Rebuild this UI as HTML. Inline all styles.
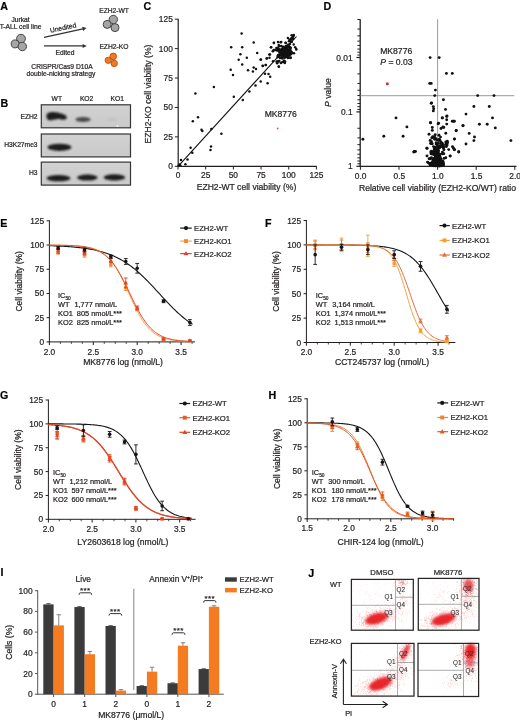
<!DOCTYPE html>
<html><head><meta charset="utf-8"><title>Figure</title><style>html,body{margin:0;padding:0;background:#fff;width:520px;height:722px;overflow:hidden}svg{display:block}text{stroke:#231f20;stroke-width:0.22px;paint-order:stroke}</style></head><body>
<svg width="520" height="722" viewBox="0 0 520 722" font-family="'Liberation Sans', Arial, Helvetica, sans-serif" fill="#231f20"><text x="0.30" y="9.70" font-size="10.7" font-weight="bold" fill="#000">A</text>
<text x="0.50" y="106.90" font-size="10.7" font-weight="bold" fill="#000">B</text>
<text x="143.50" y="9.70" font-size="10.7" font-weight="bold" fill="#000">C</text>
<text x="323.60" y="9.70" font-size="10.7" font-weight="bold" fill="#000">D</text>
<text x="0.30" y="226.50" font-size="10.7" font-weight="bold" fill="#000">E</text>
<text x="265.00" y="226.50" font-size="10.7" font-weight="bold" fill="#000">F</text>
<text x="0.00" y="399.30" font-size="10.7" font-weight="bold" fill="#000">G</text>
<text x="268.40" y="398.50" font-size="10.7" font-weight="bold" fill="#000">H</text>
<text x="0.40" y="576.20" font-size="10.7" font-weight="bold" fill="#000">I</text>
<text x="308.30" y="576.50" font-size="10.7" font-weight="bold" fill="#000">J</text>
<text x="20.50" y="21.60" font-size="6.7" text-anchor="middle">Jurkat</text>
<text x="20.50" y="29.30" font-size="6.7" text-anchor="middle">T-ALL cell line</text>
<circle cx="21.0" cy="38.7" r="4.4" fill="#a6a6a6" stroke="#454545" stroke-width="1.0"/>
<circle cx="15.2" cy="43.9" r="4.0" fill="#a6a6a6" stroke="#454545" stroke-width="1.0"/>
<circle cx="22.3" cy="46.5" r="4.2" fill="#a6a6a6" stroke="#454545" stroke-width="1.0"/>
<line x1="44.00" y1="37.30" x2="84.00" y2="28.60" stroke="#333" stroke-width="1.3"/>
<path d="M86.5,28.1 L82.2,26.8 L83.1,31.0 Z" fill="#333"/>
<line x1="44.00" y1="45.90" x2="84.00" y2="45.90" stroke="#333" stroke-width="1.3"/>
<path d="M86.8,45.9 L82.6,43.9 L82.6,47.9 Z" fill="#333"/>
<text x="63.50" y="30.00" font-size="6.7" text-anchor="middle" transform="rotate(-12 63.50 30.00)">Unedited</text>
<text x="65.00" y="54.60" font-size="6.7" text-anchor="middle">Edited</text>
<text x="62.00" y="68.60" font-size="6.7" text-anchor="middle">CRISPR/Cas9 D10A</text>
<text x="61.00" y="76.30" font-size="6.7" text-anchor="middle">double-nicking strategy</text>
<text x="99.20" y="12.60" font-size="6.7">EZH2-WT</text>
<text x="99.40" y="49.20" font-size="6.7">EZH2-KO</text>
<circle cx="113.3" cy="19.5" r="4.2" fill="#a6a6a6" stroke="#454545" stroke-width="1.0"/>
<circle cx="107.2" cy="24.4" r="4.0" fill="#a6a6a6" stroke="#454545" stroke-width="1.0"/>
<circle cx="115.0" cy="27.6" r="4.0" fill="#a6a6a6" stroke="#454545" stroke-width="1.0"/>
<circle cx="113.2" cy="56.4" r="3.3" fill="#f47a22" stroke="#b8561a" stroke-width="1.0"/>
<circle cx="108.2" cy="60.3" r="3.1" fill="#f47a22" stroke="#b8561a" stroke-width="1.0"/>
<circle cx="114.2" cy="63.4" r="3.2" fill="#f47a22" stroke="#b8561a" stroke-width="1.0"/>
<defs><filter id="bl" x="-30%" y="-80%" width="160%" height="260%"><feGaussianBlur stdDeviation="1.1"/></filter><filter id="bl2" x="-30%" y="-80%" width="160%" height="260%"><feGaussianBlur stdDeviation="0.8"/></filter><linearGradient id="blotg" x1="0" y1="0" x2="0" y2="1"><stop offset="0" stop-color="#d2d2d2"/><stop offset="1" stop-color="#c9c9c9"/></linearGradient></defs>
<rect x="41.3" y="104.80000000000001" width="89.2" height="22.999999999999982" fill="url(#blotg)" stroke="#353535" stroke-width="1.2"/>
<rect x="41.3" y="134.0" width="89.2" height="22.900000000000016" fill="url(#blotg)" stroke="#353535" stroke-width="1.2"/>
<rect x="41.3" y="162.1" width="89.2" height="23.00000000000001" fill="url(#blotg)" stroke="#353535" stroke-width="1.2"/>
<text x="56.80" y="101.40" font-size="6.7" text-anchor="middle">WT</text>
<text x="86.60" y="101.40" font-size="6.7" text-anchor="middle">KO2</text>
<text x="117.20" y="101.40" font-size="6.7" text-anchor="middle">KO1</text>
<text x="37.60" y="118.80" font-size="6.7" text-anchor="end">EZH2</text>
<text x="37.60" y="147.00" font-size="6.7" text-anchor="end">H3K27me3</text>
<text x="37.60" y="175.30" font-size="6.7" text-anchor="end">H3</text>
<g filter="url(#bl)">
<path d="M46.5,115.8 C46.5,111.8 53,111.6 57.5,112.6 C61.5,113.4 65,114.4 66.6,116.6 C67.8,119 64.5,120.4 61.5,119.4 C58.5,118.4 55.5,119.4 51.5,120.2 C47.5,120.8 46.5,118.6 46.5,115.8 Z" fill="#1a1a1a"/>
<ellipse cx="83" cy="119.6" rx="7.6" ry="2.5" fill="#4a4a4a"/>
<ellipse cx="112" cy="119.5" rx="5" ry="1.5" fill="#c2c2c2"/>
<ellipse cx="59.5" cy="147.3" rx="12" ry="3.6" fill="#1a1a1a"/>
<ellipse cx="58.5" cy="178.2" rx="12" ry="3.1" fill="#1e1e1e"/>
<ellipse cx="87.3" cy="177.6" rx="10.3" ry="3.0" fill="#1e1e1e"/>
<ellipse cx="114.4" cy="177.4" rx="10.8" ry="3.1" fill="#1e1e1e"/>
</g>
<circle cx="117.50" cy="126.00" r="0.9" fill="#f4f4f4"/>
<line x1="178.20" y1="18.70" x2="178.20" y2="166.90" stroke="#231f20" stroke-width="1.2"/>
<line x1="177.60" y1="166.30" x2="316.80" y2="166.30" stroke="#231f20" stroke-width="1.2"/>
<line x1="174.80" y1="166.30" x2="178.00" y2="166.30" stroke="#231f20" stroke-width="1"/>
<text x="172.80" y="169.30" font-size="8.4" text-anchor="end">0</text>
<line x1="178.00" y1="166.30" x2="178.00" y2="169.50" stroke="#231f20" stroke-width="1"/>
<text x="178.00" y="178.40" font-size="8.4" text-anchor="middle">0</text>
<line x1="174.80" y1="136.88" x2="178.00" y2="136.88" stroke="#231f20" stroke-width="1"/>
<text x="172.80" y="139.88" font-size="8.4" text-anchor="end">25</text>
<line x1="205.68" y1="166.30" x2="205.68" y2="169.50" stroke="#231f20" stroke-width="1"/>
<text x="205.68" y="178.40" font-size="8.4" text-anchor="middle">25</text>
<line x1="174.80" y1="107.46" x2="178.00" y2="107.46" stroke="#231f20" stroke-width="1"/>
<text x="172.80" y="110.46" font-size="8.4" text-anchor="end">50</text>
<line x1="233.36" y1="166.30" x2="233.36" y2="169.50" stroke="#231f20" stroke-width="1"/>
<text x="233.36" y="178.40" font-size="8.4" text-anchor="middle">50</text>
<line x1="174.80" y1="78.04" x2="178.00" y2="78.04" stroke="#231f20" stroke-width="1"/>
<text x="172.80" y="81.04" font-size="8.4" text-anchor="end">75</text>
<line x1="261.04" y1="166.30" x2="261.04" y2="169.50" stroke="#231f20" stroke-width="1"/>
<text x="261.04" y="178.40" font-size="8.4" text-anchor="middle">75</text>
<line x1="174.80" y1="48.62" x2="178.00" y2="48.62" stroke="#231f20" stroke-width="1"/>
<text x="172.80" y="51.62" font-size="8.4" text-anchor="end">100</text>
<line x1="288.72" y1="166.30" x2="288.72" y2="169.50" stroke="#231f20" stroke-width="1"/>
<text x="288.72" y="178.40" font-size="8.4" text-anchor="middle">100</text>
<line x1="174.80" y1="19.20" x2="178.00" y2="19.20" stroke="#231f20" stroke-width="1"/>
<text x="172.80" y="22.20" font-size="8.4" text-anchor="end">125</text>
<line x1="316.40" y1="166.30" x2="316.40" y2="169.50" stroke="#231f20" stroke-width="1"/>
<text x="316.40" y="178.40" font-size="8.4" text-anchor="middle">125</text>
<text x="246.50" y="190.40" font-size="8.6" text-anchor="middle">EZH2-WT cell viability (%)</text>
<text x="151.00" y="94.00" font-size="8.6" text-anchor="middle" transform="rotate(-90 151.00 94.00)">EZH2-KO cell viability (%)</text>
<line x1="178.50" y1="165.80" x2="296.50" y2="36.50" stroke="#111" stroke-width="1.1"/>
<g fill="#111">
<circle cx="241.6" cy="33.5" r="1.25"/>
<circle cx="253.7" cy="42.5" r="1.25"/>
<circle cx="231.2" cy="47.3" r="1.25"/>
<circle cx="242.2" cy="47.3" r="1.25"/>
<circle cx="257.2" cy="52.9" r="1.25"/>
<circle cx="240.4" cy="54.3" r="1.25"/>
<circle cx="246.8" cy="57.7" r="1.25"/>
<circle cx="238.7" cy="59.8" r="1.25"/>
<circle cx="260.7" cy="59.8" r="1.25"/>
<circle cx="242.2" cy="64.5" r="1.25"/>
<circle cx="262.9" cy="65.9" r="1.25"/>
<circle cx="265.9" cy="65.0" r="1.25"/>
<circle cx="230.7" cy="69.8" r="1.25"/>
<circle cx="248.0" cy="70.2" r="1.25"/>
<circle cx="252.9" cy="71.4" r="1.25"/>
<circle cx="253.7" cy="67.6" r="1.25"/>
<circle cx="256.0" cy="69.0" r="1.25"/>
<circle cx="233.0" cy="75.0" r="1.25"/>
<circle cx="265.0" cy="73.7" r="1.25"/>
<circle cx="270.2" cy="76.8" r="1.25"/>
<circle cx="268.5" cy="74.0" r="1.25"/>
<circle cx="260.7" cy="81.4" r="1.25"/>
<circle cx="267.6" cy="83.2" r="1.25"/>
<circle cx="255.5" cy="85.4" r="1.25"/>
<circle cx="249.4" cy="91.5" r="1.25"/>
<circle cx="233.8" cy="96.7" r="1.25"/>
<circle cx="242.8" cy="100.0" r="1.25"/>
<circle cx="278.8" cy="66.4" r="1.25"/>
<circle cx="274.0" cy="42.8" r="1.25"/>
<circle cx="280.6" cy="42.2" r="1.25"/>
<circle cx="271.0" cy="47.3" r="1.25"/>
<circle cx="296.2" cy="49.1" r="1.25"/>
<circle cx="293.6" cy="35.2" r="1.25"/>
<circle cx="266.7" cy="58.4" r="1.25"/>
<circle cx="269.3" cy="54.6" r="1.25"/>
<circle cx="272.8" cy="51.2" r="1.25"/>
<circle cx="213.9" cy="86.9" r="1.25"/>
<circle cx="195.4" cy="93.5" r="1.25"/>
<circle cx="198.0" cy="117.2" r="1.25"/>
<circle cx="192.8" cy="121.2" r="1.25"/>
<circle cx="201.5" cy="129.8" r="1.25"/>
<circle cx="202.3" cy="131.1" r="1.25"/>
<circle cx="211.3" cy="129.0" r="1.25"/>
<circle cx="221.4" cy="133.7" r="1.25"/>
<circle cx="190.6" cy="147.8" r="1.25"/>
<circle cx="192.3" cy="152.7" r="1.25"/>
<circle cx="211.0" cy="146.6" r="1.25"/>
<circle cx="210.5" cy="150.1" r="1.25"/>
<circle cx="181.0" cy="160.0" r="1.25"/>
<circle cx="187.5" cy="159.6" r="1.25"/>
<circle cx="185.4" cy="164.3" r="1.25"/>
<circle cx="178.8" cy="165.2" r="1.25"/>
<circle cx="179.6" cy="164.6" r="1.25"/>
<circle cx="180.3" cy="165.6" r="1.25"/>
<circle cx="293.7" cy="35.0" r="1.25"/>
<circle cx="287.9" cy="38.0" r="1.25"/>
<circle cx="293.3" cy="38.8" r="1.25"/>
<circle cx="281.2" cy="41.9" r="1.25"/>
<circle cx="273.8" cy="43.0" r="1.25"/>
<circle cx="296.3" cy="49.5" r="1.25"/>
<circle cx="271.1" cy="47.3" r="1.25"/>
<circle cx="276.4" cy="47.9" r="1.25"/>
<circle cx="277.7" cy="48.2" r="1.25"/>
<circle cx="273.0" cy="51.0" r="1.25"/>
<circle cx="273.7" cy="50.1" r="1.25"/>
<circle cx="270.0" cy="54.4" r="1.25"/>
<circle cx="266.9" cy="58.3" r="1.25"/>
<circle cx="269.5" cy="57.7" r="1.25"/>
<circle cx="260.9" cy="59.6" r="1.25"/>
<circle cx="262.6" cy="65.7" r="1.25"/>
<circle cx="265.6" cy="65.0" r="1.25"/>
<circle cx="278.9" cy="66.7" r="1.25"/>
<circle cx="273.0" cy="61.3" r="1.25"/>
<circle cx="290.7" cy="57.4" r="1.25"/>
<circle cx="290.3" cy="40.6" r="1.25"/>
<circle cx="291.1" cy="41.9" r="1.25"/>
<circle cx="293.7" cy="44.5" r="1.25"/>
<circle cx="284.1" cy="53.8" r="1.25"/>
<circle cx="284.2" cy="50.6" r="1.25"/>
<circle cx="281.6" cy="51.0" r="1.25"/>
<circle cx="289.1" cy="53.5" r="1.25"/>
<circle cx="288.8" cy="52.8" r="1.25"/>
<circle cx="286.5" cy="52.5" r="1.25"/>
<circle cx="278.8" cy="55.1" r="1.25"/>
<circle cx="286.9" cy="53.7" r="1.25"/>
<circle cx="278.7" cy="45.0" r="1.25"/>
<circle cx="281.7" cy="50.0" r="1.25"/>
<circle cx="286.1" cy="51.6" r="1.25"/>
<circle cx="286.9" cy="49.3" r="1.25"/>
<circle cx="286.1" cy="53.3" r="1.25"/>
<circle cx="282.6" cy="58.5" r="1.25"/>
<circle cx="287.1" cy="56.5" r="1.25"/>
<circle cx="282.7" cy="48.9" r="1.25"/>
<circle cx="283.7" cy="51.4" r="1.25"/>
<circle cx="287.3" cy="52.8" r="1.25"/>
<circle cx="283.3" cy="48.1" r="1.25"/>
<circle cx="283.1" cy="56.6" r="1.25"/>
<circle cx="282.0" cy="52.8" r="1.25"/>
<circle cx="286.6" cy="46.0" r="1.25"/>
<circle cx="285.2" cy="56.9" r="1.25"/>
<circle cx="277.5" cy="50.5" r="1.25"/>
<circle cx="284.6" cy="48.6" r="1.25"/>
<circle cx="286.8" cy="51.6" r="1.25"/>
<circle cx="279.6" cy="55.0" r="1.25"/>
<circle cx="287.5" cy="55.5" r="1.25"/>
<circle cx="290.3" cy="53.2" r="1.25"/>
<circle cx="285.4" cy="46.7" r="1.25"/>
<circle cx="287.3" cy="49.4" r="1.25"/>
<circle cx="283.3" cy="46.9" r="1.25"/>
<circle cx="281.4" cy="49.7" r="1.25"/>
<circle cx="289.8" cy="43.9" r="1.25"/>
<circle cx="279.6" cy="52.7" r="1.25"/>
<circle cx="290.3" cy="54.1" r="1.25"/>
<circle cx="278.0" cy="42.0" r="1.25"/>
<circle cx="286.3" cy="48.9" r="1.25"/>
<circle cx="280.9" cy="55.6" r="1.25"/>
<circle cx="289.1" cy="52.4" r="1.25"/>
<circle cx="285.9" cy="53.5" r="1.25"/>
<circle cx="290.9" cy="54.2" r="1.25"/>
<circle cx="286.9" cy="53.9" r="1.25"/>
<circle cx="279.2" cy="56.8" r="1.25"/>
<circle cx="288.5" cy="53.9" r="1.25"/>
<circle cx="277.7" cy="49.3" r="1.25"/>
<circle cx="288.1" cy="44.7" r="1.25"/>
<circle cx="284.3" cy="55.8" r="1.25"/>
<circle cx="280.1" cy="58.1" r="1.25"/>
<circle cx="287.0" cy="51.2" r="1.25"/>
<circle cx="286.2" cy="54.3" r="1.25"/>
<circle cx="285.4" cy="56.3" r="1.25"/>
<circle cx="282.6" cy="50.2" r="1.25"/>
<circle cx="288.9" cy="51.9" r="1.25"/>
<circle cx="281.7" cy="55.5" r="1.25"/>
<circle cx="290.4" cy="50.1" r="1.25"/>
<circle cx="279.9" cy="51.3" r="1.25"/>
<circle cx="284.4" cy="50.6" r="1.25"/>
<circle cx="290.2" cy="47.8" r="1.25"/>
<circle cx="289.7" cy="46.9" r="1.25"/>
<circle cx="282.1" cy="54.3" r="1.25"/>
<circle cx="289.2" cy="55.2" r="1.25"/>
<circle cx="286.3" cy="52.4" r="1.25"/>
<circle cx="285.6" cy="54.0" r="1.25"/>
<circle cx="284.3" cy="52.9" r="1.25"/>
<circle cx="287.1" cy="51.8" r="1.25"/>
<circle cx="287.8" cy="54.0" r="1.25"/>
<circle cx="292.4" cy="53.1" r="1.25"/>
<circle cx="283.4" cy="50.3" r="1.25"/>
<circle cx="285.0" cy="55.4" r="1.25"/>
<circle cx="283.8" cy="53.3" r="1.25"/>
<circle cx="291.8" cy="41.8" r="1.25"/>
<circle cx="280.8" cy="52.8" r="1.25"/>
<circle cx="286.5" cy="52.7" r="1.25"/>
<circle cx="283.4" cy="54.4" r="1.25"/>
<circle cx="286.0" cy="49.8" r="1.25"/>
<circle cx="294.0" cy="53.2" r="1.25"/>
<circle cx="282.9" cy="51.4" r="1.25"/>
<circle cx="284.2" cy="51.6" r="1.25"/>
<circle cx="274.9" cy="49.9" r="1.25"/>
<circle cx="288.7" cy="47.2" r="1.25"/>
<circle cx="284.8" cy="55.5" r="1.25"/>
<circle cx="288.2" cy="57.6" r="1.25"/>
<circle cx="278.7" cy="50.4" r="1.25"/>
<circle cx="283.7" cy="54.2" r="1.25"/>
<circle cx="289.0" cy="41.3" r="1.25"/>
<circle cx="289.0" cy="46.2" r="1.25"/>
<circle cx="287.5" cy="46.0" r="1.25"/>
<circle cx="285.7" cy="56.5" r="1.25"/>
<circle cx="284.4" cy="52.5" r="1.25"/>
<circle cx="287.9" cy="52.4" r="1.25"/>
<circle cx="284.7" cy="57.8" r="1.25"/>
<circle cx="288.9" cy="50.7" r="1.25"/>
<circle cx="295.2" cy="47.3" r="1.25"/>
<circle cx="288.4" cy="50.8" r="1.25"/>
<circle cx="285.5" cy="54.5" r="1.25"/>
<circle cx="285.8" cy="54.3" r="1.25"/>
<circle cx="279.3" cy="45.9" r="1.25"/>
<circle cx="287.3" cy="48.0" r="1.25"/>
<circle cx="281.2" cy="46.1" r="1.25"/>
<circle cx="289.7" cy="54.7" r="1.25"/>
<circle cx="290.5" cy="48.1" r="1.25"/>
<circle cx="285.0" cy="47.4" r="1.25"/>
<circle cx="287.8" cy="58.0" r="1.25"/>
<circle cx="281.7" cy="57.9" r="1.25"/>
<circle cx="288.7" cy="51.1" r="1.25"/>
<circle cx="277.7" cy="57.3" r="1.25"/>
<circle cx="284.6" cy="49.4" r="1.25"/>
<circle cx="286.5" cy="53.4" r="1.25"/>
<circle cx="290.5" cy="47.8" r="1.25"/>
<circle cx="289.2" cy="57.6" r="1.25"/>
<circle cx="290.4" cy="51.1" r="1.25"/>
<circle cx="282.2" cy="55.8" r="1.25"/>
<circle cx="285.4" cy="52.3" r="1.25"/>
<circle cx="290.3" cy="50.8" r="1.25"/>
<circle cx="276.5" cy="50.3" r="1.25"/>
<circle cx="278.1" cy="55.0" r="1.25"/>
<circle cx="286.2" cy="49.4" r="1.25"/>
<circle cx="285.0" cy="55.0" r="1.25"/>
<circle cx="285.3" cy="57.0" r="1.25"/>
<circle cx="284.8" cy="55.9" r="1.25"/>
<circle cx="290.5" cy="58.1" r="1.25"/>
<circle cx="282.5" cy="55.2" r="1.25"/>
<circle cx="278.1" cy="47.6" r="1.25"/>
<circle cx="277.7" cy="56.0" r="1.25"/>
<circle cx="280.4" cy="51.8" r="1.25"/>
<circle cx="284.3" cy="51.7" r="1.25"/>
<circle cx="282.8" cy="52.7" r="1.25"/>
<circle cx="291.6" cy="52.0" r="1.25"/>
<circle cx="287.0" cy="55.7" r="1.25"/>
<circle cx="284.3" cy="46.9" r="1.25"/>
<circle cx="282.9" cy="56.0" r="1.25"/>
<circle cx="278.9" cy="49.5" r="1.25"/>
<circle cx="288.7" cy="54.9" r="1.25"/>
<circle cx="285.0" cy="54.9" r="1.25"/>
<circle cx="285.6" cy="47.2" r="1.25"/>
<circle cx="279.2" cy="49.3" r="1.25"/>
<circle cx="288.4" cy="49.6" r="1.25"/>
<circle cx="281.7" cy="48.8" r="1.25"/>
<circle cx="279.3" cy="51.3" r="1.25"/>
<circle cx="285.6" cy="42.7" r="1.25"/>
<circle cx="291.6" cy="35.3" r="1.25"/>
<circle cx="292.3" cy="39.2" r="1.25"/>
<circle cx="292.7" cy="37.1" r="1.25"/>
<circle cx="282.9" cy="46.8" r="1.25"/>
<circle cx="286.2" cy="46.1" r="1.25"/>
<circle cx="291.2" cy="39.0" r="1.25"/>
<circle cx="289.5" cy="39.6" r="1.25"/>
<circle cx="292.5" cy="38.1" r="1.25"/>
<circle cx="291.4" cy="38.3" r="1.25"/>
<circle cx="293.2" cy="36.5" r="1.25"/>
<circle cx="285.7" cy="43.1" r="1.25"/>
<circle cx="278.6" cy="61.6" r="1.25"/>
<circle cx="284.1" cy="60.8" r="1.25"/>
<circle cx="282.3" cy="61.9" r="1.25"/>
<circle cx="276.7" cy="61.6" r="1.25"/>
<circle cx="283.1" cy="62.0" r="1.25"/>
<circle cx="277.2" cy="63.2" r="1.25"/>
<circle cx="284.8" cy="63.1" r="1.25"/>
<circle cx="277.6" cy="61.4" r="1.25"/>
<circle cx="276.9" cy="62.7" r="1.25"/>
<circle cx="279.3" cy="61.1" r="1.25"/>
<circle cx="280.9" cy="63.0" r="1.25"/>
<circle cx="285.1" cy="61.4" r="1.25"/>
</g>
<text x="280.70" y="116.60" font-size="8.6" text-anchor="middle">MK8776</text>
<circle cx="277.70" cy="128.50" r="0.95" fill="#e25a5e"/>
<line x1="360.20" y1="19.20" x2="360.20" y2="166.90" stroke="#231f20" stroke-width="1.3"/>
<line x1="359.60" y1="166.30" x2="516.50" y2="166.30" stroke="#231f20" stroke-width="1.2"/>
<line x1="356.40" y1="166.30" x2="360.20" y2="166.30" stroke="#231f20" stroke-width="1.2"/>
<line x1="356.40" y1="111.90" x2="360.20" y2="111.90" stroke="#231f20" stroke-width="1.2"/>
<line x1="356.40" y1="57.50" x2="360.20" y2="57.50" stroke="#231f20" stroke-width="1.2"/>
<line x1="357.40" y1="128.28" x2="360.20" y2="128.28" stroke="#231f20" stroke-width="1.0"/>
<line x1="357.40" y1="137.86" x2="360.20" y2="137.86" stroke="#231f20" stroke-width="1.0"/>
<line x1="357.40" y1="144.65" x2="360.20" y2="144.65" stroke="#231f20" stroke-width="1.0"/>
<line x1="357.40" y1="149.92" x2="360.20" y2="149.92" stroke="#231f20" stroke-width="1.0"/>
<line x1="357.40" y1="154.23" x2="360.20" y2="154.23" stroke="#231f20" stroke-width="1.0"/>
<line x1="357.40" y1="157.87" x2="360.20" y2="157.87" stroke="#231f20" stroke-width="1.0"/>
<line x1="357.40" y1="161.03" x2="360.20" y2="161.03" stroke="#231f20" stroke-width="1.0"/>
<line x1="357.40" y1="163.81" x2="360.20" y2="163.81" stroke="#231f20" stroke-width="1.0"/>
<line x1="357.40" y1="73.88" x2="360.20" y2="73.88" stroke="#231f20" stroke-width="1.0"/>
<line x1="357.40" y1="83.46" x2="360.20" y2="83.46" stroke="#231f20" stroke-width="1.0"/>
<line x1="357.40" y1="90.25" x2="360.20" y2="90.25" stroke="#231f20" stroke-width="1.0"/>
<line x1="357.40" y1="95.52" x2="360.20" y2="95.52" stroke="#231f20" stroke-width="1.0"/>
<line x1="357.40" y1="99.83" x2="360.20" y2="99.83" stroke="#231f20" stroke-width="1.0"/>
<line x1="357.40" y1="103.47" x2="360.20" y2="103.47" stroke="#231f20" stroke-width="1.0"/>
<line x1="357.40" y1="106.63" x2="360.20" y2="106.63" stroke="#231f20" stroke-width="1.0"/>
<line x1="357.40" y1="109.41" x2="360.20" y2="109.41" stroke="#231f20" stroke-width="1.0"/>
<line x1="357.40" y1="19.48" x2="360.20" y2="19.48" stroke="#231f20" stroke-width="1.0"/>
<line x1="357.40" y1="29.06" x2="360.20" y2="29.06" stroke="#231f20" stroke-width="1.0"/>
<line x1="357.40" y1="35.85" x2="360.20" y2="35.85" stroke="#231f20" stroke-width="1.0"/>
<line x1="357.40" y1="41.12" x2="360.20" y2="41.12" stroke="#231f20" stroke-width="1.0"/>
<line x1="357.40" y1="45.43" x2="360.20" y2="45.43" stroke="#231f20" stroke-width="1.0"/>
<line x1="357.40" y1="49.07" x2="360.20" y2="49.07" stroke="#231f20" stroke-width="1.0"/>
<line x1="357.40" y1="52.23" x2="360.20" y2="52.23" stroke="#231f20" stroke-width="1.0"/>
<line x1="357.40" y1="55.01" x2="360.20" y2="55.01" stroke="#231f20" stroke-width="1.0"/>
<text x="352.60" y="60.60" font-size="8.4" text-anchor="end">0.01</text>
<text x="352.60" y="114.90" font-size="8.4" text-anchor="end">0.1</text>
<text x="352.60" y="169.30" font-size="8.4" text-anchor="end">1</text>
<line x1="360.40" y1="166.30" x2="360.40" y2="169.80" stroke="#231f20" stroke-width="1"/>
<text x="360.70" y="178.60" font-size="8.4" text-anchor="middle">0.0</text>
<line x1="399.00" y1="166.30" x2="399.00" y2="169.80" stroke="#231f20" stroke-width="1"/>
<text x="399.30" y="178.60" font-size="8.4" text-anchor="middle">0.5</text>
<line x1="437.60" y1="166.30" x2="437.60" y2="169.80" stroke="#231f20" stroke-width="1"/>
<text x="437.90" y="178.60" font-size="8.4" text-anchor="middle">1.0</text>
<line x1="476.20" y1="166.30" x2="476.20" y2="169.80" stroke="#231f20" stroke-width="1"/>
<text x="476.50" y="178.60" font-size="8.4" text-anchor="middle">1.5</text>
<line x1="514.80" y1="166.30" x2="514.80" y2="169.80" stroke="#231f20" stroke-width="1"/>
<text x="515.10" y="178.60" font-size="8.4" text-anchor="middle">2.0</text>
<text x="437.50" y="190.50" font-size="8.6" text-anchor="middle">Relative cell viability (EZH2-KO/WT) ratio</text>
<text x="331.4" y="92.6" font-size="8.6" text-anchor="middle" transform="rotate(-90 331.4 92.6)"><tspan font-style="italic">P</tspan> value</text>
<line x1="437.60" y1="19.30" x2="437.60" y2="166.30" stroke="#8f8f8f" stroke-width="0.9"/>
<line x1="360.40" y1="95.70" x2="514.30" y2="95.70" stroke="#8f8f8f" stroke-width="0.9"/>
<text x="396.20" y="54.20" font-size="8.6" text-anchor="middle">MK8776</text>
<text x="396.4" y="65.4" font-size="8.6" text-anchor="middle"><tspan font-style="italic">P</tspan> = 0.03</text>
<circle cx="387.30" cy="83.70" r="1.5" fill="#c9302c"/>
<g fill="#111">
<circle cx="430.1" cy="57.6" r="1.45"/>
<circle cx="439.2" cy="57.6" r="1.45"/>
<circle cx="446.4" cy="73.4" r="1.45"/>
<circle cx="452.3" cy="73.4" r="1.45"/>
<circle cx="429.7" cy="83.4" r="1.45"/>
<circle cx="431.2" cy="83.4" r="1.45"/>
<circle cx="435.4" cy="90.1" r="1.45"/>
<circle cx="434.8" cy="95.6" r="1.45"/>
<circle cx="477.7" cy="95.6" r="1.45"/>
<circle cx="494.0" cy="95.6" r="1.45"/>
<circle cx="431.6" cy="103.0" r="1.45"/>
<circle cx="443.4" cy="99.7" r="1.45"/>
<circle cx="433.3" cy="106.6" r="1.45"/>
<circle cx="433.7" cy="108.8" r="1.45"/>
<circle cx="433.3" cy="110.9" r="1.45"/>
<circle cx="445.5" cy="109.4" r="1.45"/>
<circle cx="473.9" cy="106.5" r="1.45"/>
<circle cx="489.3" cy="106.5" r="1.45"/>
<circle cx="466.0" cy="114.1" r="1.45"/>
<circle cx="447.0" cy="116.0" r="1.45"/>
<circle cx="442.2" cy="117.9" r="1.45"/>
<circle cx="492.5" cy="117.9" r="1.45"/>
<circle cx="452.3" cy="121.2" r="1.45"/>
<circle cx="454.4" cy="121.2" r="1.45"/>
<circle cx="479.4" cy="124.3" r="1.45"/>
<circle cx="487.2" cy="124.3" r="1.45"/>
<circle cx="462.9" cy="125.8" r="1.45"/>
<circle cx="495.3" cy="127.9" r="1.45"/>
<circle cx="456.1" cy="130.7" r="1.45"/>
<circle cx="469.2" cy="133.4" r="1.45"/>
<circle cx="474.5" cy="137.0" r="1.45"/>
<circle cx="473.9" cy="140.6" r="1.45"/>
<circle cx="454.4" cy="139.1" r="1.45"/>
<circle cx="466.0" cy="144.0" r="1.45"/>
<circle cx="510.9" cy="140.6" r="1.45"/>
<circle cx="414.2" cy="151.8" r="1.45"/>
<circle cx="458.7" cy="151.8" r="1.45"/>
<circle cx="454.4" cy="149.7" r="1.45"/>
<circle cx="450.2" cy="156.1" r="1.45"/>
<circle cx="426.9" cy="148.2" r="1.45"/>
<circle cx="428.0" cy="162.4" r="1.45"/>
<circle cx="431.2" cy="103.2" r="1.45"/>
<circle cx="430.7" cy="122.8" r="1.45"/>
<circle cx="438.6" cy="123.3" r="1.45"/>
<circle cx="443.8" cy="127.5" r="1.45"/>
<circle cx="396.0" cy="117.9" r="1.45"/>
<circle cx="406.9" cy="126.9" r="1.45"/>
<circle cx="383.8" cy="136.2" r="1.45"/>
<circle cx="403.1" cy="136.2" r="1.45"/>
<circle cx="362.9" cy="139.2" r="1.45"/>
<circle cx="413.7" cy="152.1" r="1.45"/>
<circle cx="414.4" cy="151.5" r="1.45"/>
<circle cx="430.4" cy="122.7" r="1.45"/>
<circle cx="432.3" cy="127.5" r="1.45"/>
<circle cx="432.3" cy="130.4" r="1.45"/>
<circle cx="438.1" cy="123.7" r="1.45"/>
<circle cx="446.7" cy="124.1" r="1.45"/>
<circle cx="446.7" cy="116.4" r="1.45"/>
<circle cx="446.7" cy="119.8" r="1.45"/>
<circle cx="442.4" cy="117.9" r="1.45"/>
<circle cx="453.5" cy="121.3" r="1.45"/>
<circle cx="463.1" cy="125.6" r="1.45"/>
<circle cx="441.0" cy="128.5" r="1.45"/>
<circle cx="442.9" cy="127.0" r="1.45"/>
<circle cx="456.3" cy="130.4" r="1.45"/>
<circle cx="429.0" cy="134.2" r="1.45"/>
<circle cx="432.8" cy="136.6" r="1.45"/>
<circle cx="435.2" cy="134.7" r="1.45"/>
<circle cx="439.0" cy="135.2" r="1.45"/>
<circle cx="440.5" cy="137.1" r="1.45"/>
<circle cx="439.0" cy="139.5" r="1.45"/>
<circle cx="445.8" cy="133.3" r="1.45"/>
<circle cx="454.4" cy="139.0" r="1.45"/>
<circle cx="445.8" cy="141.9" r="1.45"/>
<circle cx="447.2" cy="142.9" r="1.45"/>
<circle cx="452.5" cy="146.7" r="1.45"/>
<circle cx="453.5" cy="148.2" r="1.45"/>
<circle cx="448.7" cy="149.6" r="1.45"/>
<circle cx="454.4" cy="149.6" r="1.45"/>
<circle cx="458.8" cy="152.0" r="1.45"/>
<circle cx="427.0" cy="148.2" r="1.45"/>
<circle cx="450.1" cy="155.9" r="1.45"/>
<circle cx="445.8" cy="157.8" r="1.45"/>
<circle cx="427.5" cy="162.1" r="1.45"/>
<circle cx="442.9" cy="161.2" r="1.45"/>
<circle cx="415.5" cy="151.5" r="1.45"/>
<circle cx="427.0" cy="155.9" r="1.45"/>
<circle cx="430.0" cy="158.8" r="1.45"/>
<circle cx="434.3" cy="158.5" r="1.45"/>
<circle cx="435.2" cy="157.5" r="1.45"/>
<circle cx="435.9" cy="157.4" r="1.45"/>
<circle cx="437.4" cy="154.1" r="1.45"/>
<circle cx="435.6" cy="161.7" r="1.45"/>
<circle cx="438.9" cy="164.9" r="1.45"/>
<circle cx="432.3" cy="165.5" r="1.45"/>
<circle cx="434.4" cy="149.5" r="1.45"/>
<circle cx="433.2" cy="163.9" r="1.45"/>
<circle cx="435.9" cy="165.8" r="1.45"/>
<circle cx="436.8" cy="163.5" r="1.45"/>
<circle cx="440.6" cy="162.7" r="1.45"/>
<circle cx="437.7" cy="159.0" r="1.45"/>
<circle cx="432.3" cy="143.8" r="1.45"/>
<circle cx="436.4" cy="157.7" r="1.45"/>
<circle cx="434.4" cy="153.0" r="1.45"/>
<circle cx="437.7" cy="149.9" r="1.45"/>
<circle cx="436.2" cy="144.0" r="1.45"/>
<circle cx="434.2" cy="162.9" r="1.45"/>
<circle cx="442.1" cy="161.9" r="1.45"/>
<circle cx="439.4" cy="159.9" r="1.45"/>
<circle cx="430.7" cy="143.5" r="1.45"/>
<circle cx="442.4" cy="143.4" r="1.45"/>
<circle cx="438.8" cy="166.0" r="1.45"/>
<circle cx="444.0" cy="158.4" r="1.45"/>
<circle cx="441.2" cy="142.2" r="1.45"/>
<circle cx="439.1" cy="147.9" r="1.45"/>
<circle cx="439.5" cy="162.2" r="1.45"/>
<circle cx="438.5" cy="146.9" r="1.45"/>
<circle cx="437.0" cy="164.5" r="1.45"/>
<circle cx="438.5" cy="165.3" r="1.45"/>
<circle cx="438.9" cy="146.9" r="1.45"/>
<circle cx="440.8" cy="158.9" r="1.45"/>
<circle cx="436.8" cy="163.5" r="1.45"/>
<circle cx="435.3" cy="153.6" r="1.45"/>
<circle cx="435.0" cy="164.5" r="1.45"/>
<circle cx="438.1" cy="162.2" r="1.45"/>
<circle cx="434.7" cy="147.4" r="1.45"/>
<circle cx="443.5" cy="163.2" r="1.45"/>
<circle cx="439.9" cy="160.0" r="1.45"/>
<circle cx="433.3" cy="164.7" r="1.45"/>
<circle cx="436.7" cy="139.8" r="1.45"/>
<circle cx="442.7" cy="161.2" r="1.45"/>
<circle cx="438.3" cy="161.8" r="1.45"/>
<circle cx="437.6" cy="155.5" r="1.45"/>
<circle cx="434.4" cy="162.7" r="1.45"/>
<circle cx="435.1" cy="158.8" r="1.45"/>
<circle cx="431.1" cy="143.3" r="1.45"/>
<circle cx="434.0" cy="163.6" r="1.45"/>
<circle cx="442.1" cy="164.0" r="1.45"/>
<circle cx="433.7" cy="162.6" r="1.45"/>
<circle cx="436.5" cy="163.5" r="1.45"/>
<circle cx="429.2" cy="163.4" r="1.45"/>
<circle cx="434.3" cy="148.5" r="1.45"/>
<circle cx="434.9" cy="164.7" r="1.45"/>
<circle cx="439.4" cy="165.5" r="1.45"/>
<circle cx="436.4" cy="151.4" r="1.45"/>
<circle cx="439.0" cy="162.4" r="1.45"/>
<circle cx="433.0" cy="161.8" r="1.45"/>
<circle cx="436.8" cy="163.7" r="1.45"/>
<circle cx="435.8" cy="162.9" r="1.45"/>
<circle cx="439.7" cy="156.2" r="1.45"/>
<circle cx="433.4" cy="162.1" r="1.45"/>
<circle cx="439.6" cy="139.7" r="1.45"/>
<circle cx="437.3" cy="158.9" r="1.45"/>
<circle cx="438.4" cy="165.3" r="1.45"/>
<circle cx="439.8" cy="155.8" r="1.45"/>
<circle cx="432.5" cy="164.3" r="1.45"/>
<circle cx="442.3" cy="145.5" r="1.45"/>
<circle cx="435.4" cy="151.9" r="1.45"/>
<circle cx="436.1" cy="165.6" r="1.45"/>
<circle cx="441.3" cy="165.8" r="1.45"/>
<circle cx="434.3" cy="137.3" r="1.45"/>
<circle cx="431.7" cy="153.9" r="1.45"/>
<circle cx="437.6" cy="161.4" r="1.45"/>
<circle cx="431.8" cy="138.0" r="1.45"/>
<circle cx="435.5" cy="138.3" r="1.45"/>
<circle cx="435.3" cy="150.0" r="1.45"/>
<circle cx="431.4" cy="141.6" r="1.45"/>
<circle cx="442.4" cy="152.1" r="1.45"/>
<circle cx="433.1" cy="159.5" r="1.45"/>
<circle cx="439.8" cy="147.2" r="1.45"/>
<circle cx="433.7" cy="154.2" r="1.45"/>
<circle cx="433.1" cy="160.2" r="1.45"/>
<circle cx="434.8" cy="165.0" r="1.45"/>
<circle cx="443.8" cy="153.8" r="1.45"/>
<circle cx="436.7" cy="150.4" r="1.45"/>
<circle cx="436.6" cy="160.1" r="1.45"/>
<circle cx="432.7" cy="159.0" r="1.45"/>
<circle cx="441.8" cy="144.1" r="1.45"/>
<circle cx="439.8" cy="165.6" r="1.45"/>
<circle cx="434.6" cy="155.0" r="1.45"/>
<circle cx="437.3" cy="151.6" r="1.45"/>
<circle cx="431.4" cy="157.7" r="1.45"/>
<circle cx="432.1" cy="162.5" r="1.45"/>
<circle cx="435.4" cy="165.9" r="1.45"/>
<circle cx="441.7" cy="163.3" r="1.45"/>
<circle cx="441.0" cy="163.8" r="1.45"/>
<circle cx="434.3" cy="159.0" r="1.45"/>
<circle cx="434.7" cy="139.3" r="1.45"/>
<circle cx="441.3" cy="163.3" r="1.45"/>
<circle cx="439.5" cy="159.2" r="1.45"/>
<circle cx="430.1" cy="140.5" r="1.45"/>
<circle cx="434.5" cy="160.2" r="1.45"/>
<circle cx="435.6" cy="164.2" r="1.45"/>
<circle cx="440.3" cy="157.8" r="1.45"/>
<circle cx="431.5" cy="151.1" r="1.45"/>
<circle cx="438.8" cy="140.6" r="1.45"/>
<circle cx="440.2" cy="162.1" r="1.45"/>
<circle cx="433.0" cy="163.1" r="1.45"/>
<circle cx="439.4" cy="157.8" r="1.45"/>
<circle cx="442.0" cy="161.5" r="1.45"/>
<circle cx="429.1" cy="158.8" r="1.45"/>
<circle cx="443.6" cy="165.1" r="1.45"/>
<circle cx="438.3" cy="165.5" r="1.45"/>
<circle cx="434.4" cy="151.2" r="1.45"/>
<circle cx="435.8" cy="147.2" r="1.45"/>
<circle cx="439.4" cy="165.8" r="1.45"/>
<circle cx="439.7" cy="165.7" r="1.45"/>
<circle cx="437.1" cy="144.8" r="1.45"/>
<circle cx="438.8" cy="165.4" r="1.45"/>
<circle cx="432.6" cy="154.1" r="1.45"/>
<circle cx="438.5" cy="153.2" r="1.45"/>
<circle cx="441.8" cy="146.2" r="1.45"/>
<circle cx="435.7" cy="163.3" r="1.45"/>
<circle cx="437.2" cy="158.3" r="1.45"/>
<circle cx="437.4" cy="158.3" r="1.45"/>
<circle cx="438.1" cy="151.0" r="1.45"/>
<circle cx="439.4" cy="160.9" r="1.45"/>
<circle cx="432.5" cy="151.7" r="1.45"/>
<circle cx="436.4" cy="149.1" r="1.45"/>
<circle cx="438.9" cy="160.0" r="1.45"/>
<circle cx="430.1" cy="164.9" r="1.45"/>
<circle cx="439.5" cy="146.4" r="1.45"/>
<circle cx="439.6" cy="154.2" r="1.45"/>
<circle cx="433.9" cy="137.1" r="1.45"/>
<circle cx="440.0" cy="140.6" r="1.45"/>
<circle cx="440.5" cy="146.9" r="1.45"/>
<circle cx="435.7" cy="153.4" r="1.45"/>
<circle cx="435.9" cy="163.2" r="1.45"/>
<circle cx="431.0" cy="153.7" r="1.45"/>
<circle cx="438.6" cy="150.8" r="1.45"/>
<circle cx="443.9" cy="149.7" r="1.45"/>
<circle cx="437.7" cy="156.8" r="1.45"/>
<circle cx="434.2" cy="137.1" r="1.45"/>
<circle cx="436.2" cy="142.8" r="1.45"/>
<circle cx="438.1" cy="159.0" r="1.45"/>
<circle cx="437.4" cy="156.4" r="1.45"/>
<circle cx="433.2" cy="165.7" r="1.45"/>
<circle cx="442.4" cy="146.1" r="1.45"/>
<circle cx="439.3" cy="163.7" r="1.45"/>
<circle cx="437.4" cy="161.1" r="1.45"/>
<circle cx="435.2" cy="164.1" r="1.45"/>
<circle cx="436.0" cy="157.3" r="1.45"/>
<circle cx="430.8" cy="152.0" r="1.45"/>
<circle cx="438.3" cy="143.4" r="1.45"/>
<circle cx="436.6" cy="163.0" r="1.45"/>
<circle cx="435.7" cy="157.0" r="1.45"/>
<circle cx="442.2" cy="153.8" r="1.45"/>
<circle cx="439.3" cy="157.1" r="1.45"/>
<circle cx="433.5" cy="161.5" r="1.45"/>
<circle cx="441.0" cy="160.2" r="1.45"/>
<circle cx="431.1" cy="163.2" r="1.45"/>
<circle cx="440.9" cy="143.2" r="1.45"/>
<circle cx="436.2" cy="155.8" r="1.45"/>
<circle cx="433.2" cy="163.3" r="1.45"/>
<circle cx="436.1" cy="154.8" r="1.45"/>
<circle cx="440.9" cy="165.7" r="1.45"/>
<circle cx="436.2" cy="159.9" r="1.45"/>
<circle cx="433.5" cy="146.6" r="1.45"/>
<circle cx="435.5" cy="151.9" r="1.45"/>
<circle cx="433.7" cy="165.2" r="1.45"/>
<circle cx="436.2" cy="149.0" r="1.45"/>
<circle cx="435.3" cy="162.2" r="1.45"/>
<circle cx="437.3" cy="159.2" r="1.45"/>
<circle cx="440.0" cy="145.7" r="1.45"/>
<circle cx="434.8" cy="161.4" r="1.45"/>
<circle cx="431.5" cy="163.4" r="1.45"/>
<circle cx="431.9" cy="164.3" r="1.45"/>
<circle cx="439.1" cy="147.9" r="1.45"/>
<circle cx="437.3" cy="162.9" r="1.45"/>
<circle cx="435.6" cy="152.1" r="1.45"/>
<circle cx="439.8" cy="154.4" r="1.45"/>
<circle cx="436.8" cy="164.7" r="1.45"/>
<circle cx="435.3" cy="157.4" r="1.45"/>
<circle cx="438.3" cy="162.5" r="1.45"/>
<circle cx="440.8" cy="159.1" r="1.45"/>
<circle cx="433.5" cy="160.3" r="1.45"/>
<circle cx="439.1" cy="163.9" r="1.45"/>
<circle cx="443.2" cy="145.1" r="1.45"/>
<circle cx="445.8" cy="144.2" r="1.45"/>
<circle cx="447.1" cy="144.9" r="1.45"/>
<circle cx="447.1" cy="141.9" r="1.45"/>
<circle cx="446.4" cy="146.5" r="1.45"/>
<circle cx="447.4" cy="142.5" r="1.45"/>
<circle cx="443.9" cy="147.4" r="1.45"/>
<circle cx="443.3" cy="148.0" r="1.45"/>
<circle cx="447.3" cy="141.1" r="1.45"/>
<circle cx="443.4" cy="145.8" r="1.45"/>
</g>
<line x1="49.40" y1="220.30" x2="49.40" y2="342.40" stroke="#231f20" stroke-width="1"/>
<line x1="48.90" y1="341.90" x2="195.00" y2="341.90" stroke="#231f20" stroke-width="1"/>
<line x1="46.60" y1="341.90" x2="49.40" y2="341.90" stroke="#231f20" stroke-width="1"/>
<text x="44.00" y="344.90" font-size="8.3" text-anchor="end">0</text>
<line x1="46.60" y1="317.68" x2="49.40" y2="317.68" stroke="#231f20" stroke-width="1"/>
<text x="44.00" y="320.68" font-size="8.3" text-anchor="end">25</text>
<line x1="46.60" y1="293.46" x2="49.40" y2="293.46" stroke="#231f20" stroke-width="1"/>
<text x="44.00" y="296.46" font-size="8.3" text-anchor="end">50</text>
<line x1="46.60" y1="269.24" x2="49.40" y2="269.24" stroke="#231f20" stroke-width="1"/>
<text x="44.00" y="272.24" font-size="8.3" text-anchor="end">75</text>
<line x1="46.60" y1="245.02" x2="49.40" y2="245.02" stroke="#231f20" stroke-width="1"/>
<text x="44.00" y="248.02" font-size="8.3" text-anchor="end">100</text>
<line x1="46.60" y1="220.80" x2="49.40" y2="220.80" stroke="#231f20" stroke-width="1"/>
<text x="44.00" y="223.80" font-size="8.3" text-anchor="end">125</text>
<line x1="49.40" y1="341.90" x2="49.40" y2="345.10" stroke="#231f20" stroke-width="1"/>
<text x="49.40" y="354.50" font-size="8.3" text-anchor="middle">2.0</text>
<line x1="60.38" y1="341.90" x2="60.38" y2="343.90" stroke="#231f20" stroke-width="0.8"/>
<line x1="71.35" y1="341.90" x2="71.35" y2="343.90" stroke="#231f20" stroke-width="0.8"/>
<line x1="82.32" y1="341.90" x2="82.32" y2="343.90" stroke="#231f20" stroke-width="0.8"/>
<line x1="93.30" y1="341.90" x2="93.30" y2="345.10" stroke="#231f20" stroke-width="1"/>
<text x="93.30" y="354.50" font-size="8.3" text-anchor="middle">2.5</text>
<line x1="104.28" y1="341.90" x2="104.28" y2="343.90" stroke="#231f20" stroke-width="0.8"/>
<line x1="115.25" y1="341.90" x2="115.25" y2="343.90" stroke="#231f20" stroke-width="0.8"/>
<line x1="126.22" y1="341.90" x2="126.22" y2="343.90" stroke="#231f20" stroke-width="0.8"/>
<line x1="137.20" y1="341.90" x2="137.20" y2="345.10" stroke="#231f20" stroke-width="1"/>
<text x="137.20" y="354.50" font-size="8.3" text-anchor="middle">3.0</text>
<line x1="148.17" y1="341.90" x2="148.17" y2="343.90" stroke="#231f20" stroke-width="0.8"/>
<line x1="159.15" y1="341.90" x2="159.15" y2="343.90" stroke="#231f20" stroke-width="0.8"/>
<line x1="170.12" y1="341.90" x2="170.12" y2="343.90" stroke="#231f20" stroke-width="0.8"/>
<line x1="181.10" y1="341.90" x2="181.10" y2="345.10" stroke="#231f20" stroke-width="1"/>
<text x="181.10" y="354.50" font-size="8.3" text-anchor="middle">3.5</text>
<line x1="192.07" y1="341.90" x2="192.07" y2="343.90" stroke="#231f20" stroke-width="0.8"/>
<text x="123.10" y="365.20" font-size="8.6" text-anchor="middle">MK8776 log (nmol/L)</text>
<text x="22.20" y="281.35" font-size="8.5" text-anchor="middle" transform="rotate(-90 22.20 281.35)">Cell viability (%)</text>
<polyline points="49.40,245.70 50.59,245.74 51.79,245.78 52.98,245.82 54.17,245.86 55.36,245.91 56.56,245.96 57.75,246.01 58.94,246.06 60.13,246.12 61.33,246.18 62.52,246.24 63.71,246.31 64.90,246.38 66.10,246.45 67.29,246.53 68.48,246.62 69.67,246.70 70.87,246.79 72.06,246.89 73.25,246.99 74.44,247.10 75.64,247.21 76.83,247.33 78.02,247.45 79.22,247.58 80.41,247.72 81.60,247.87 82.79,248.02 83.99,248.18 85.18,248.35 86.37,248.52 87.56,248.71 88.76,248.91 89.95,249.11 91.14,249.33 92.33,249.55 93.53,249.79 94.72,250.04 95.91,250.30 97.10,250.58 98.30,250.87 99.49,251.17 100.68,251.49 101.88,251.82 103.07,252.17 104.26,252.53 105.45,252.92 106.65,253.31 107.84,253.73 109.03,254.17 110.22,254.62 111.42,255.10 112.61,255.60 113.80,256.11 114.99,256.65 116.19,257.21 117.38,257.80 118.57,258.41 119.76,259.04 120.96,259.70 122.15,260.38 123.34,261.09 124.53,261.82 125.73,262.58 126.92,263.37 128.11,264.18 129.31,265.02 130.50,265.89 131.69,266.79 132.88,267.71 134.08,268.66 135.27,269.63 136.46,270.63 137.65,271.66 138.85,272.71 140.04,273.78 141.23,274.88 142.42,276.01 143.62,277.15 144.81,278.32 146.00,279.50 147.19,280.71 148.39,281.93 149.58,283.16 150.77,284.41 151.97,285.68 153.16,286.95 154.35,288.24 155.54,289.53 156.74,290.82 157.93,292.13 159.12,293.43 160.31,294.73 161.51,296.03 162.70,297.33 163.89,298.62 165.08,299.90 166.28,301.18 167.47,302.44 168.66,303.70 169.85,304.93 171.05,306.15 172.24,307.36 173.43,308.55 174.62,309.71 175.82,310.86 177.01,311.98 178.20,313.08 179.40,314.16 180.59,315.21 181.78,316.24 182.97,317.24 184.17,318.22 185.36,319.17 186.55,320.09 187.74,320.98 188.94,321.85 190.13,322.70 191.32,323.51 192.51,324.30" fill="none" stroke="#151515" stroke-width="1.1"/>
<polyline points="49.40,245.09 50.59,245.09 51.79,245.10 52.98,245.11 54.17,245.12 55.36,245.13 56.56,245.15 57.75,245.16 58.94,245.18 60.13,245.19 61.33,245.21 62.52,245.24 63.71,245.26 64.90,245.29 66.10,245.32 67.29,245.36 68.48,245.40 69.67,245.44 70.87,245.49 72.06,245.54 73.25,245.60 74.44,245.67 75.64,245.74 76.83,245.82 78.02,245.92 79.22,246.02 80.41,246.13 81.60,246.26 82.79,246.40 83.99,246.56 85.18,246.73 86.37,246.93 87.56,247.14 88.76,247.38 89.95,247.65 91.14,247.94 92.33,248.27 93.53,248.63 94.72,249.03 95.91,249.48 97.10,249.96 98.30,250.50 99.49,251.10 100.68,251.75 101.88,252.47 103.07,253.26 104.26,254.13 105.45,255.07 106.65,256.10 107.84,257.22 109.03,258.43 110.22,259.75 111.42,261.17 112.61,262.70 113.80,264.34 114.99,266.08 116.19,267.94 117.38,269.92 118.57,271.99 119.76,274.17 120.96,276.45 122.15,278.82 123.34,281.27 124.53,283.78 125.73,286.35 126.92,288.97 128.11,291.61 129.31,294.26 130.50,296.90 131.69,299.53 132.88,302.12 134.08,304.66 135.27,307.13 136.46,309.53 137.65,311.85 138.85,314.07 140.04,316.19 141.23,318.20 142.42,320.11 143.62,321.90 144.81,323.58 146.00,325.15 147.19,326.62 148.39,327.97 149.58,329.23 150.77,330.39 151.97,331.45 153.16,332.43 154.35,333.32 155.54,334.14 156.74,334.89 157.93,335.57 159.12,336.19 160.31,336.75 161.51,337.26 162.70,337.72 163.89,338.13 165.08,338.51 166.28,338.85 167.47,339.16 168.66,339.43 169.85,339.68 171.05,339.91 172.24,340.11 173.43,340.29 174.62,340.46 175.82,340.61 177.01,340.74 178.20,340.86 179.40,340.96 180.59,341.06 181.78,341.15 182.97,341.22 184.17,341.29 185.36,341.36 186.55,341.41 187.74,341.46 188.94,341.51 190.13,341.55 191.32,341.58 192.51,341.62" fill="none" stroke="#f4a242" stroke-width="1.0"/>
<polyline points="49.40,245.11 50.59,245.12 51.79,245.13 52.98,245.15 54.17,245.16 55.36,245.17 56.56,245.19 57.75,245.21 58.94,245.23 60.13,245.25 61.33,245.28 62.52,245.31 63.71,245.34 64.90,245.37 66.10,245.41 67.29,245.45 68.48,245.50 69.67,245.55 70.87,245.61 72.06,245.67 73.25,245.74 74.44,245.82 75.64,245.90 76.83,246.00 78.02,246.10 79.22,246.22 80.41,246.35 81.60,246.49 82.79,246.65 83.99,246.82 85.18,247.01 86.37,247.22 87.56,247.46 88.76,247.71 89.95,248.00 91.14,248.31 92.33,248.66 93.53,249.03 94.72,249.45 95.91,249.91 97.10,250.41 98.30,250.96 99.49,251.56 100.68,252.22 101.88,252.94 103.07,253.72 104.26,254.58 105.45,255.50 106.65,256.51 107.84,257.59 109.03,258.77 110.22,260.03 111.42,261.39 112.61,262.84 113.80,264.39 114.99,266.04 116.19,267.79 117.38,269.63 118.57,271.58 119.76,273.61 120.96,275.73 122.15,277.94 123.34,280.22 124.53,282.56 125.73,284.96 126.92,287.40 128.11,289.88 129.31,292.37 130.50,294.87 131.69,297.36 132.88,299.83 134.08,302.27 135.27,304.66 136.46,307.00 137.65,309.27 138.85,311.46 140.04,313.58 141.23,315.60 142.42,317.53 143.62,319.36 144.81,321.10 146.00,322.74 147.19,324.27 148.39,325.71 149.58,327.06 150.77,328.31 151.97,329.47 153.16,330.55 154.35,331.54 155.54,332.46 156.74,333.30 157.93,334.08 159.12,334.79 160.31,335.44 161.51,336.03 162.70,336.58 163.89,337.07 165.08,337.53 166.28,337.94 167.47,338.31 168.66,338.65 169.85,338.96 171.05,339.24 172.24,339.49 173.43,339.73 174.62,339.93 175.82,340.12 177.01,340.29 178.20,340.45 179.40,340.59 180.59,340.72 181.78,340.83 182.97,340.94 184.17,341.03 185.36,341.11 186.55,341.19 187.74,341.26 188.94,341.32 190.13,341.38 191.32,341.43 192.51,341.48" fill="none" stroke="#e0452b" stroke-width="1.0"/>
<path d="M58.18,249.38V254.22M56.28,249.38H60.08M56.28,254.22H60.08" stroke="#f08a30" stroke-width="0.9" fill="none"/>
<rect x="56.48" y="250.10" width="3.40" height="3.40" fill="#f08a30"/>
<path d="M84.52,252.29V257.13M82.62,252.29H86.42M82.62,257.13H86.42" stroke="#f08a30" stroke-width="0.9" fill="none"/>
<rect x="82.82" y="253.01" width="3.40" height="3.40" fill="#f08a30"/>
<path d="M110.86,261.97V266.82M108.96,261.97H112.76M108.96,266.82H112.76" stroke="#f08a30" stroke-width="0.9" fill="none"/>
<rect x="109.16" y="262.70" width="3.40" height="3.40" fill="#f08a30"/>
<path d="M125.79,284.74V290.55M123.89,284.74H127.69M123.89,290.55H127.69" stroke="#f08a30" stroke-width="0.9" fill="none"/>
<rect x="124.09" y="285.95" width="3.40" height="3.40" fill="#f08a30"/>
<path d="M137.20,307.02V310.90M135.30,307.02H139.10M135.30,310.90H139.10" stroke="#f08a30" stroke-width="0.9" fill="none"/>
<rect x="135.50" y="307.26" width="3.40" height="3.40" fill="#f08a30"/>
<path d="M163.54,338.02V339.96M161.64,338.02H165.44M161.64,339.96H165.44" stroke="#f08a30" stroke-width="0.9" fill="none"/>
<rect x="161.84" y="337.29" width="3.40" height="3.40" fill="#f08a30"/>
<path d="M189.88,340.45V341.42M187.98,340.45H191.78M187.98,341.42H191.78" stroke="#f08a30" stroke-width="0.9" fill="none"/>
<rect x="188.18" y="339.23" width="3.40" height="3.40" fill="#f08a30"/>
<path d="M58.18,248.41V253.25M56.28,248.41H60.08M56.28,253.25H60.08" stroke="#e2402a" stroke-width="0.9" fill="none"/>
<path d="M58.18,248.53 L60.28,252.33 L56.08,252.33 Z" fill="#e2402a"/>
<path d="M84.52,250.83V254.71M82.62,250.83H86.42M82.62,254.71H86.42" stroke="#e2402a" stroke-width="0.9" fill="none"/>
<path d="M84.52,250.47 L86.62,254.27 L82.42,254.27 Z" fill="#e2402a"/>
<path d="M110.86,258.58V262.46M108.96,258.58H112.76M108.96,262.46H112.76" stroke="#e2402a" stroke-width="0.9" fill="none"/>
<path d="M110.86,258.22 L112.96,262.02 L108.76,262.02 Z" fill="#e2402a"/>
<path d="M125.79,277.96V287.65M123.89,277.96H127.69M123.89,287.65H127.69" stroke="#e2402a" stroke-width="0.9" fill="none"/>
<path d="M125.79,280.50 L127.89,284.30 L123.69,284.30 Z" fill="#e2402a"/>
<path d="M137.20,306.05V309.93M135.30,306.05H139.10M135.30,309.93H139.10" stroke="#e2402a" stroke-width="0.9" fill="none"/>
<path d="M137.20,305.69 L139.30,309.49 L135.10,309.49 Z" fill="#e2402a"/>
<path d="M163.54,338.02V339.96M161.64,338.02H165.44M161.64,339.96H165.44" stroke="#e2402a" stroke-width="0.9" fill="none"/>
<path d="M163.54,336.69 L165.64,340.49 L161.44,340.49 Z" fill="#e2402a"/>
<path d="M189.88,339.96V340.93M187.98,339.96H191.78M187.98,340.93H191.78" stroke="#e2402a" stroke-width="0.9" fill="none"/>
<path d="M189.88,338.15 L191.98,341.95 L187.78,341.95 Z" fill="#e2402a"/>
<path d="M58.18,246.47V249.38M56.28,246.47H60.08M56.28,249.38H60.08" stroke="#151515" stroke-width="0.9" fill="none"/>
<circle cx="58.18" cy="247.93" r="1.80" fill="#151515"/>
<path d="M84.52,247.93V251.80M82.62,247.93H86.42M82.62,251.80H86.42" stroke="#151515" stroke-width="0.9" fill="none"/>
<circle cx="84.52" cy="249.86" r="1.80" fill="#151515"/>
<path d="M110.86,255.19V258.10M108.96,255.19H112.76M108.96,258.10H112.76" stroke="#151515" stroke-width="0.9" fill="none"/>
<circle cx="110.86" cy="256.65" r="1.80" fill="#151515"/>
<path d="M125.79,258.58V264.40M123.89,258.58H127.69M123.89,264.40H127.69" stroke="#151515" stroke-width="0.9" fill="none"/>
<circle cx="125.79" cy="261.49" r="1.80" fill="#151515"/>
<path d="M137.20,263.43V273.12M135.30,263.43H139.10M135.30,273.12H139.10" stroke="#151515" stroke-width="0.9" fill="none"/>
<circle cx="137.20" cy="268.27" r="1.80" fill="#151515"/>
<path d="M163.54,299.76V302.66M161.64,299.76H165.44M161.64,302.66H165.44" stroke="#151515" stroke-width="0.9" fill="none"/>
<circle cx="163.54" cy="301.21" r="1.80" fill="#151515"/>
<path d="M189.88,319.62V325.43M187.98,319.62H191.78M187.98,325.43H191.78" stroke="#151515" stroke-width="0.9" fill="none"/>
<circle cx="189.88" cy="322.52" r="1.80" fill="#151515"/>
<text x="58.00" y="298.10" font-size="7.4">IC<tspan font-size="4.8" dy="1.8">50</tspan></text>
<text x="58.00" y="307.00" font-size="7.4">WT</text>
<text x="74.40" y="307.00" font-size="7.4">1,777 nmol/L</text>
<text x="58.00" y="315.80" font-size="7.4">KO1</text>
<text x="76.80" y="315.80" font-size="7.4">805 nmol/L***</text>
<text x="58.00" y="324.70" font-size="7.4">KO2</text>
<text x="76.80" y="324.70" font-size="7.4">825 nmol/L***</text>
<line x1="180.20" y1="228.10" x2="191.70" y2="228.10" stroke="#151515" stroke-width="1.2"/>
<circle cx="186.00" cy="228.10" r="2.07" fill="#151515"/>
<text x="194.00" y="231.00" font-size="7.7">EZH2-WT</text>
<line x1="180.20" y1="241.10" x2="191.70" y2="241.10" stroke="#f4a242" stroke-width="1.2"/>
<rect x="184.04" y="239.14" width="3.91" height="3.91" fill="#f08a30"/>
<text x="194.00" y="244.00" font-size="7.7">EZH2-KO1</text>
<line x1="180.20" y1="253.60" x2="191.70" y2="253.60" stroke="#e0452b" stroke-width="1.2"/>
<path d="M186.00,250.95 L188.41,255.32 L183.59,255.32 Z" fill="#e2402a"/>
<text x="194.00" y="256.50" font-size="7.7">EZH2-KO2</text>
<line x1="306.40" y1="220.00" x2="306.40" y2="343.00" stroke="#231f20" stroke-width="1"/>
<line x1="305.90" y1="342.50" x2="455.30" y2="342.50" stroke="#231f20" stroke-width="1"/>
<line x1="303.60" y1="342.50" x2="306.40" y2="342.50" stroke="#231f20" stroke-width="1"/>
<text x="301.00" y="345.50" font-size="8.3" text-anchor="end">0</text>
<line x1="303.60" y1="318.10" x2="306.40" y2="318.10" stroke="#231f20" stroke-width="1"/>
<text x="301.00" y="321.10" font-size="8.3" text-anchor="end">25</text>
<line x1="303.60" y1="293.70" x2="306.40" y2="293.70" stroke="#231f20" stroke-width="1"/>
<text x="301.00" y="296.70" font-size="8.3" text-anchor="end">50</text>
<line x1="303.60" y1="269.30" x2="306.40" y2="269.30" stroke="#231f20" stroke-width="1"/>
<text x="301.00" y="272.30" font-size="8.3" text-anchor="end">75</text>
<line x1="303.60" y1="244.90" x2="306.40" y2="244.90" stroke="#231f20" stroke-width="1"/>
<text x="301.00" y="247.90" font-size="8.3" text-anchor="end">100</text>
<line x1="303.60" y1="220.50" x2="306.40" y2="220.50" stroke="#231f20" stroke-width="1"/>
<text x="301.00" y="223.50" font-size="8.3" text-anchor="end">125</text>
<line x1="306.40" y1="342.50" x2="306.40" y2="345.70" stroke="#231f20" stroke-width="1"/>
<text x="306.40" y="355.10" font-size="8.3" text-anchor="middle">2.0</text>
<line x1="317.38" y1="342.50" x2="317.38" y2="344.50" stroke="#231f20" stroke-width="0.8"/>
<line x1="328.35" y1="342.50" x2="328.35" y2="344.50" stroke="#231f20" stroke-width="0.8"/>
<line x1="339.32" y1="342.50" x2="339.32" y2="344.50" stroke="#231f20" stroke-width="0.8"/>
<line x1="350.30" y1="342.50" x2="350.30" y2="345.70" stroke="#231f20" stroke-width="1"/>
<text x="350.30" y="355.10" font-size="8.3" text-anchor="middle">2.5</text>
<line x1="361.27" y1="342.50" x2="361.27" y2="344.50" stroke="#231f20" stroke-width="0.8"/>
<line x1="372.25" y1="342.50" x2="372.25" y2="344.50" stroke="#231f20" stroke-width="0.8"/>
<line x1="383.22" y1="342.50" x2="383.22" y2="344.50" stroke="#231f20" stroke-width="0.8"/>
<line x1="394.20" y1="342.50" x2="394.20" y2="345.70" stroke="#231f20" stroke-width="1"/>
<text x="394.20" y="355.10" font-size="8.3" text-anchor="middle">3.0</text>
<line x1="405.17" y1="342.50" x2="405.17" y2="344.50" stroke="#231f20" stroke-width="0.8"/>
<line x1="416.15" y1="342.50" x2="416.15" y2="344.50" stroke="#231f20" stroke-width="0.8"/>
<line x1="427.12" y1="342.50" x2="427.12" y2="344.50" stroke="#231f20" stroke-width="0.8"/>
<line x1="438.10" y1="342.50" x2="438.10" y2="345.70" stroke="#231f20" stroke-width="1"/>
<text x="438.10" y="355.10" font-size="8.3" text-anchor="middle">3.5</text>
<line x1="449.07" y1="342.50" x2="449.07" y2="344.50" stroke="#231f20" stroke-width="0.8"/>
<text x="382.00" y="364.80" font-size="8.6" text-anchor="middle">CCT245737 log (nmol/L)</text>
<text x="279.20" y="281.50" font-size="8.5" text-anchor="middle" transform="rotate(-90 279.20 281.50)">Cell viability (%)</text>
<polyline points="306.40,244.91 307.59,244.91 308.77,244.91 309.96,244.91 311.14,244.91 312.33,244.91 313.51,244.91 314.70,244.91 315.88,244.91 317.07,244.92 318.25,244.92 319.44,244.92 320.62,244.92 321.81,244.92 322.99,244.92 324.18,244.93 325.36,244.93 326.55,244.93 327.74,244.93 328.92,244.94 330.11,244.94 331.29,244.94 332.48,244.95 333.66,244.95 334.85,244.96 336.03,244.96 337.22,244.97 338.40,244.97 339.59,244.98 340.77,244.99 341.96,245.00 343.14,245.00 344.33,245.01 345.51,245.02 346.70,245.03 347.89,245.05 349.07,245.06 350.26,245.07 351.44,245.09 352.63,245.10 353.81,245.12 355.00,245.14 356.18,245.16 357.37,245.19 358.55,245.21 359.74,245.24 360.92,245.27 362.11,245.31 363.29,245.34 364.48,245.38 365.66,245.42 366.85,245.47 368.04,245.52 369.22,245.57 370.41,245.63 371.59,245.70 372.78,245.77 373.96,245.85 375.15,245.93 376.33,246.02 377.52,246.12 378.70,246.23 379.89,246.34 381.07,246.47 382.26,246.61 383.44,246.76 384.63,246.92 385.82,247.10 387.00,247.29 388.19,247.50 389.37,247.72 390.56,247.97 391.74,248.23 392.93,248.52 394.11,248.83 395.30,249.16 396.48,249.52 397.67,249.91 398.85,250.34 400.04,250.79 401.22,251.28 402.41,251.81 403.59,252.38 404.78,253.00 405.97,253.65 407.15,254.36 408.34,255.11 409.52,255.92 410.71,256.79 411.89,257.71 413.08,258.69 414.26,259.73 415.45,260.84 416.63,262.01 417.82,263.25 419.00,264.56 420.19,265.94 421.37,267.38 422.56,268.90 423.74,270.48 424.93,272.12 426.12,273.83 427.30,275.60 428.49,277.43 429.67,279.31 430.86,281.24 432.04,283.21 433.23,285.21 434.41,287.25 435.60,289.31 436.78,291.38 437.97,293.47 439.15,295.55 440.34,297.63 441.52,299.70 442.71,301.74 443.89,303.75 445.08,305.73 446.27,307.67 447.45,309.56 448.64,311.40" fill="none" stroke="#151515" stroke-width="1.1"/>
<polyline points="306.40,244.90 307.59,244.90 308.77,244.90 309.96,244.90 311.14,244.90 312.33,244.90 313.51,244.90 314.70,244.90 315.88,244.90 317.07,244.90 318.25,244.90 319.44,244.90 320.62,244.90 321.81,244.90 322.99,244.90 324.18,244.90 325.36,244.90 326.55,244.90 327.74,244.90 328.92,244.90 330.11,244.90 331.29,244.90 332.48,244.90 333.66,244.90 334.85,244.90 336.03,244.91 337.22,244.91 338.40,244.91 339.59,244.91 340.77,244.91 341.96,244.91 343.14,244.91 344.33,244.92 345.51,244.92 346.70,244.92 347.89,244.93 349.07,244.93 350.26,244.94 351.44,244.95 352.63,244.96 353.81,244.97 355.00,244.98 356.18,244.99 357.37,245.01 358.55,245.03 359.74,245.05 360.92,245.08 362.11,245.11 363.29,245.15 364.48,245.19 365.66,245.24 366.85,245.30 368.04,245.37 369.22,245.46 370.41,245.56 371.59,245.68 372.78,245.81 373.96,245.98 375.15,246.17 376.33,246.39 377.52,246.65 378.70,246.96 379.89,247.32 381.07,247.74 382.26,248.23 383.44,248.80 384.63,249.47 385.82,250.24 387.00,251.13 388.19,252.17 389.37,253.36 390.56,254.72 391.74,256.27 392.93,258.03 394.11,260.02 395.30,262.25 396.48,264.73 397.67,267.46 398.85,270.44 400.04,273.66 401.22,277.12 402.41,280.77 403.59,284.58 404.78,288.51 405.97,292.51 407.15,296.53 408.34,300.50 409.52,304.39 410.71,308.14 411.89,311.72 413.08,315.08 414.26,318.21 415.45,321.09 416.63,323.71 417.82,326.09 419.00,328.22 420.19,330.11 421.37,331.78 422.56,333.26 423.74,334.55 424.93,335.67 426.12,336.65 427.30,337.49 428.49,338.22 429.67,338.84 430.86,339.38 432.04,339.84 433.23,340.24 434.41,340.57 435.60,340.86 436.78,341.11 437.97,341.32 439.15,341.49 440.34,341.65 441.52,341.77 442.71,341.88 443.89,341.98 445.08,342.06 446.27,342.12 447.45,342.18 448.64,342.23" fill="none" stroke="#f2a43c" stroke-width="1.0"/>
<polyline points="306.40,244.90 307.59,244.90 308.77,244.90 309.96,244.90 311.14,244.90 312.33,244.90 313.51,244.90 314.70,244.90 315.88,244.90 317.07,244.90 318.25,244.90 319.44,244.90 320.62,244.90 321.81,244.90 322.99,244.90 324.18,244.90 325.36,244.90 326.55,244.90 327.74,244.90 328.92,244.91 330.11,244.91 331.29,244.91 332.48,244.91 333.66,244.91 334.85,244.91 336.03,244.91 337.22,244.91 338.40,244.92 339.59,244.92 340.77,244.92 341.96,244.93 343.14,244.93 344.33,244.94 345.51,244.94 346.70,244.95 347.89,244.95 349.07,244.96 350.26,244.97 351.44,244.98 352.63,245.00 353.81,245.01 355.00,245.03 356.18,245.05 357.37,245.07 358.55,245.10 359.74,245.13 360.92,245.16 362.11,245.20 363.29,245.25 364.48,245.30 365.66,245.36 366.85,245.43 368.04,245.51 369.22,245.61 370.41,245.72 371.59,245.84 372.78,245.98 373.96,246.15 375.15,246.33 376.33,246.55 377.52,246.80 378.70,247.09 379.89,247.41 381.07,247.79 382.26,248.22 383.44,248.71 384.63,249.27 385.82,249.90 387.00,250.63 388.19,251.45 389.37,252.38 390.56,253.43 391.74,254.61 392.93,255.93 394.11,257.41 395.30,259.05 396.48,260.87 397.67,262.88 398.85,265.07 400.04,267.45 401.22,270.03 402.41,272.79 403.59,275.72 404.78,278.81 405.97,282.04 407.15,285.38 408.34,288.81 409.52,292.28 410.71,295.77 411.89,299.23 413.08,302.64 414.26,305.97 415.45,309.17 416.63,312.23 417.82,315.14 419.00,317.86 420.19,320.40 421.37,322.75 422.56,324.91 423.74,326.88 424.93,328.66 426.12,330.28 427.30,331.72 428.49,333.02 429.67,334.18 430.86,335.20 432.04,336.11 433.23,336.91 434.41,337.62 435.60,338.24 436.78,338.79 437.97,339.27 439.15,339.68 440.34,340.05 441.52,340.37 442.71,340.65 443.89,340.89 445.08,341.10 446.27,341.29 447.45,341.45 448.64,341.59" fill="none" stroke="#e4703a" stroke-width="1.0"/>
<path d="M315.18,240.02V249.78M313.28,240.02H317.08M313.28,249.78H317.08" stroke="#f4a030" stroke-width="0.9" fill="none"/>
<rect x="313.48" y="243.20" width="3.40" height="3.40" fill="#f4a030"/>
<path d="M341.52,238.07V251.73M339.62,238.07H343.42M339.62,251.73H343.42" stroke="#f4a030" stroke-width="0.9" fill="none"/>
<rect x="339.82" y="243.20" width="3.40" height="3.40" fill="#f4a030"/>
<path d="M367.86,235.14V256.61M365.96,235.14H369.76M365.96,256.61H369.76" stroke="#f4a030" stroke-width="0.9" fill="none"/>
<rect x="366.16" y="244.18" width="3.40" height="3.40" fill="#f4a030"/>
<path d="M394.20,260.52V266.37M392.30,260.52H396.10M392.30,266.37H396.10" stroke="#f4a030" stroke-width="0.9" fill="none"/>
<rect x="392.50" y="261.74" width="3.40" height="3.40" fill="#f4a030"/>
<path d="M420.54,328.84V332.74M418.64,328.84H422.44M418.64,332.74H422.44" stroke="#f4a030" stroke-width="0.9" fill="none"/>
<rect x="418.84" y="329.09" width="3.40" height="3.40" fill="#f4a030"/>
<path d="M446.88,340.55V342.50M444.98,340.55H448.78M444.98,342.50H448.78" stroke="#f4a030" stroke-width="0.9" fill="none"/>
<rect x="445.18" y="339.82" width="3.40" height="3.40" fill="#f4a030"/>
<path d="M315.18,241.00V248.80M313.28,241.00H317.08M313.28,248.80H317.08" stroke="#e8703a" stroke-width="0.9" fill="none"/>
<path d="M315.18,242.60 L317.28,246.40 L313.08,246.40 Z" fill="#e8703a"/>
<path d="M341.52,240.02V249.78M339.62,240.02H343.42M339.62,249.78H343.42" stroke="#e8703a" stroke-width="0.9" fill="none"/>
<path d="M341.52,242.60 L343.62,246.40 L339.42,246.40 Z" fill="#e8703a"/>
<path d="M367.86,242.95V252.71M365.96,242.95H369.76M365.96,252.71H369.76" stroke="#e8703a" stroke-width="0.9" fill="none"/>
<path d="M367.86,245.53 L369.96,249.33 L365.76,249.33 Z" fill="#e8703a"/>
<path d="M394.20,254.66V260.52M392.30,254.66H396.10M392.30,260.52H396.10" stroke="#e8703a" stroke-width="0.9" fill="none"/>
<path d="M394.20,255.29 L396.30,259.09 L392.10,259.09 Z" fill="#e8703a"/>
<path d="M420.54,319.08V322.98M418.64,319.08H422.44M418.64,322.98H422.44" stroke="#e8703a" stroke-width="0.9" fill="none"/>
<path d="M420.54,318.73 L422.64,322.53 L418.44,322.53 Z" fill="#e8703a"/>
<path d="M446.88,335.67V339.57M444.98,335.67H448.78M444.98,339.57H448.78" stroke="#e8703a" stroke-width="0.9" fill="none"/>
<path d="M446.88,335.32 L448.98,339.12 L444.78,339.12 Z" fill="#e8703a"/>
<path d="M315.18,244.90V264.42M313.28,244.90H317.08M313.28,264.42H317.08" stroke="#151515" stroke-width="0.9" fill="none"/>
<circle cx="315.18" cy="254.66" r="1.80" fill="#151515"/>
<path d="M341.52,244.41V250.27M339.62,244.41H343.42M339.62,250.27H343.42" stroke="#151515" stroke-width="0.9" fill="none"/>
<circle cx="341.52" cy="247.34" r="1.80" fill="#151515"/>
<path d="M367.86,244.90V254.66M365.96,244.90H369.76M365.96,254.66H369.76" stroke="#151515" stroke-width="0.9" fill="none"/>
<circle cx="367.86" cy="249.78" r="1.80" fill="#151515"/>
<path d="M394.20,250.76V258.56M392.30,250.76H396.10M392.30,258.56H396.10" stroke="#151515" stroke-width="0.9" fill="none"/>
<circle cx="394.20" cy="254.66" r="1.80" fill="#151515"/>
<path d="M420.54,261.49V271.25M418.64,261.49H422.44M418.64,271.25H422.44" stroke="#151515" stroke-width="0.9" fill="none"/>
<circle cx="420.54" cy="266.37" r="1.80" fill="#151515"/>
<path d="M446.88,305.41V313.22M444.98,305.41H448.78M444.98,313.22H448.78" stroke="#151515" stroke-width="0.9" fill="none"/>
<circle cx="446.88" cy="309.32" r="1.80" fill="#151515"/>
<text x="315.80" y="298.10" font-size="7.4">IC<tspan font-size="4.8" dy="1.8">50</tspan></text>
<text x="315.80" y="307.00" font-size="7.4">WT</text>
<text x="332.20" y="307.00" font-size="7.4">3,164 nmol/L</text>
<text x="315.80" y="315.80" font-size="7.4">KO1</text>
<text x="334.60" y="315.80" font-size="7.4">1,374 nmol/L***</text>
<text x="315.80" y="324.70" font-size="7.4">KO2</text>
<text x="334.60" y="324.70" font-size="7.4">1,513 nmol/L***</text>
<line x1="439.50" y1="225.60" x2="449.80" y2="225.60" stroke="#151515" stroke-width="1.2"/>
<circle cx="444.50" cy="225.60" r="2.07" fill="#151515"/>
<text x="452.10" y="228.50" font-size="7.7">EZH2-WT</text>
<line x1="439.50" y1="240.40" x2="449.80" y2="240.40" stroke="#f2a43c" stroke-width="1.2"/>
<rect x="442.55" y="238.44" width="3.91" height="3.91" fill="#f4a030"/>
<text x="452.10" y="243.30" font-size="7.7">EZH2-KO1</text>
<line x1="439.50" y1="255.00" x2="449.80" y2="255.00" stroke="#e4703a" stroke-width="1.2"/>
<path d="M444.50,252.35 L446.92,256.73 L442.08,256.73 Z" fill="#e8703a"/>
<text x="452.10" y="257.90" font-size="7.7">EZH2-KO2</text>
<line x1="48.40" y1="399.50" x2="48.40" y2="519.80" stroke="#231f20" stroke-width="1"/>
<line x1="47.90" y1="519.30" x2="195.60" y2="519.30" stroke="#231f20" stroke-width="1"/>
<line x1="45.60" y1="519.30" x2="48.40" y2="519.30" stroke="#231f20" stroke-width="1"/>
<text x="43.00" y="522.30" font-size="8.3" text-anchor="end">0</text>
<line x1="45.60" y1="495.44" x2="48.40" y2="495.44" stroke="#231f20" stroke-width="1"/>
<text x="43.00" y="498.44" font-size="8.3" text-anchor="end">25</text>
<line x1="45.60" y1="471.58" x2="48.40" y2="471.58" stroke="#231f20" stroke-width="1"/>
<text x="43.00" y="474.58" font-size="8.3" text-anchor="end">50</text>
<line x1="45.60" y1="447.72" x2="48.40" y2="447.72" stroke="#231f20" stroke-width="1"/>
<text x="43.00" y="450.72" font-size="8.3" text-anchor="end">75</text>
<line x1="45.60" y1="423.86" x2="48.40" y2="423.86" stroke="#231f20" stroke-width="1"/>
<text x="43.00" y="426.86" font-size="8.3" text-anchor="end">100</text>
<line x1="45.60" y1="400.00" x2="48.40" y2="400.00" stroke="#231f20" stroke-width="1"/>
<text x="43.00" y="403.00" font-size="8.3" text-anchor="end">125</text>
<line x1="48.40" y1="519.30" x2="48.40" y2="522.50" stroke="#231f20" stroke-width="1"/>
<text x="48.40" y="531.90" font-size="8.3" text-anchor="middle">2.0</text>
<line x1="59.34" y1="519.30" x2="59.34" y2="521.30" stroke="#231f20" stroke-width="0.8"/>
<line x1="70.28" y1="519.30" x2="70.28" y2="521.30" stroke="#231f20" stroke-width="0.8"/>
<line x1="81.21" y1="519.30" x2="81.21" y2="521.30" stroke="#231f20" stroke-width="0.8"/>
<line x1="92.15" y1="519.30" x2="92.15" y2="522.50" stroke="#231f20" stroke-width="1"/>
<text x="92.15" y="531.90" font-size="8.3" text-anchor="middle">2.5</text>
<line x1="103.09" y1="519.30" x2="103.09" y2="521.30" stroke="#231f20" stroke-width="0.8"/>
<line x1="114.03" y1="519.30" x2="114.03" y2="521.30" stroke="#231f20" stroke-width="0.8"/>
<line x1="124.96" y1="519.30" x2="124.96" y2="521.30" stroke="#231f20" stroke-width="0.8"/>
<line x1="135.90" y1="519.30" x2="135.90" y2="522.50" stroke="#231f20" stroke-width="1"/>
<text x="135.90" y="531.90" font-size="8.3" text-anchor="middle">3.0</text>
<line x1="146.84" y1="519.30" x2="146.84" y2="521.30" stroke="#231f20" stroke-width="0.8"/>
<line x1="157.78" y1="519.30" x2="157.78" y2="521.30" stroke="#231f20" stroke-width="0.8"/>
<line x1="168.71" y1="519.30" x2="168.71" y2="521.30" stroke="#231f20" stroke-width="0.8"/>
<line x1="179.65" y1="519.30" x2="179.65" y2="522.50" stroke="#231f20" stroke-width="1"/>
<text x="179.65" y="531.90" font-size="8.3" text-anchor="middle">3.5</text>
<line x1="190.59" y1="519.30" x2="190.59" y2="521.30" stroke="#231f20" stroke-width="0.8"/>
<text x="122.90" y="544.60" font-size="8.6" text-anchor="middle">LY2603618 log (nmol/L)</text>
<text x="21.20" y="459.65" font-size="8.5" text-anchor="middle" transform="rotate(-90 21.20 459.65)">Cell viability (%)</text>
<polyline points="48.40,423.88 49.60,423.88 50.79,423.88 51.99,423.88 53.18,423.88 54.38,423.89 55.57,423.89 56.77,423.89 57.97,423.90 59.16,423.90 60.36,423.91 61.55,423.91 62.75,423.92 63.95,423.93 65.14,423.93 66.34,423.94 67.53,423.95 68.73,423.96 69.92,423.97 71.12,423.99 72.32,424.00 73.51,424.02 74.71,424.04 75.90,424.06 77.10,424.08 78.30,424.11 79.49,424.14 80.69,424.17 81.88,424.20 83.08,424.24 84.28,424.29 85.47,424.34 86.67,424.39 87.86,424.46 89.06,424.53 90.25,424.60 91.45,424.69 92.65,424.78 93.84,424.89 95.04,425.01 96.23,425.14 97.43,425.29 98.62,425.45 99.82,425.63 101.02,425.83 102.21,426.06 103.41,426.31 104.60,426.58 105.80,426.89 107.00,427.23 108.19,427.61 109.39,428.03 110.58,428.49 111.78,429.00 112.97,429.56 114.17,430.18 115.37,430.86 116.56,431.61 117.76,432.43 118.95,433.33 120.15,434.32 121.35,435.39 122.54,436.55 123.74,437.81 124.93,439.17 126.13,440.64 127.33,442.22 128.52,443.91 129.72,445.71 130.91,447.62 132.11,449.64 133.30,451.77 134.50,453.99 135.70,456.30 136.89,458.70 138.09,461.17 139.28,463.70 140.48,466.28 141.67,468.89 142.87,471.52 144.07,474.14 145.26,476.75 146.46,479.33 147.65,481.86 148.85,484.34 150.05,486.74 151.24,489.06 152.44,491.29 153.63,493.42 154.83,495.44 156.03,497.36 157.22,499.16 158.42,500.86 159.61,502.44 160.81,503.92 162.00,505.29 163.20,506.55 164.40,507.72 165.59,508.79 166.79,509.78 167.98,510.68 169.18,511.51 170.38,512.26 171.57,512.95 172.77,513.57 173.96,514.14 175.16,514.65 176.35,515.11 177.55,515.53 178.75,515.91 179.94,516.25 181.14,516.56 182.33,516.84 183.53,517.09 184.72,517.32 185.92,517.52 187.12,517.70 188.31,517.87 189.51,518.01 190.70,518.15 191.90,518.26" fill="none" stroke="#151515" stroke-width="1.1"/>
<polyline points="48.40,424.62 49.60,424.68 50.79,424.75 51.99,424.83 53.18,424.91 54.38,425.00 55.57,425.10 56.77,425.20 57.97,425.32 59.16,425.44 60.36,425.57 61.55,425.72 62.75,425.87 63.95,426.04 65.14,426.23 66.34,426.42 67.53,426.64 68.73,426.87 69.92,427.12 71.12,427.39 72.32,427.68 73.51,427.99 74.71,428.33 75.90,428.70 77.10,429.09 78.30,429.51 79.49,429.97 80.69,430.46 81.88,430.98 83.08,431.55 84.28,432.15 85.47,432.79 86.67,433.48 87.86,434.22 89.06,435.01 90.25,435.85 91.45,436.74 92.65,437.68 93.84,438.69 95.04,439.75 96.23,440.87 97.43,442.05 98.62,443.30 99.82,444.61 101.02,445.98 102.21,447.41 103.41,448.90 104.60,450.45 105.80,452.06 107.00,453.73 108.19,455.45 109.39,457.21 110.58,459.02 111.78,460.87 112.97,462.76 114.17,464.67 115.37,466.61 116.56,468.56 117.76,470.52 118.95,472.49 120.15,474.46 121.35,476.41 122.54,478.35 123.74,480.26 124.93,482.15 126.13,484.00 127.33,485.82 128.52,487.59 129.72,489.31 130.91,490.98 132.11,492.59 133.30,494.15 134.50,495.64 135.70,497.08 136.89,498.45 138.09,499.77 139.28,501.02 140.48,502.20 141.67,503.33 142.87,504.40 144.07,505.40 145.26,506.36 146.46,507.25 147.65,508.09 148.85,508.88 150.05,509.62 151.24,510.32 152.44,510.97 153.63,511.57 154.83,512.14 156.03,512.67 157.22,513.16 158.42,513.61 159.61,514.04 160.81,514.43 162.00,514.80 163.20,515.14 164.40,515.46 165.59,515.75 166.79,516.02 167.98,516.27 169.18,516.51 170.38,516.72 171.57,516.92 172.77,517.10 173.96,517.27 175.16,517.43 176.35,517.58 177.55,517.71 178.75,517.83 179.94,517.95 181.14,518.05 182.33,518.15 183.53,518.24 184.72,518.32 185.92,518.40 187.12,518.47 188.31,518.54 189.51,518.60 190.70,518.65 191.90,518.70" fill="none" stroke="#e8582c" stroke-width="1.1"/>
<polyline points="48.40,424.63 49.60,424.70 50.79,424.77 51.99,424.85 53.18,424.93 54.38,425.02 55.57,425.12 56.77,425.22 57.97,425.34 59.16,425.46 60.36,425.59 61.55,425.74 62.75,425.90 63.95,426.07 65.14,426.25 66.34,426.45 67.53,426.66 68.73,426.89 69.92,427.14 71.12,427.41 72.32,427.70 73.51,428.02 74.71,428.35 75.90,428.72 77.10,429.11 78.30,429.53 79.49,429.98 80.69,430.47 81.88,430.99 83.08,431.55 84.28,432.15 85.47,432.79 86.67,433.47 87.86,434.20 89.06,434.98 90.25,435.81 91.45,436.70 92.65,437.63 93.84,438.62 95.04,439.67 96.23,440.78 97.43,441.95 98.62,443.18 99.82,444.47 101.02,445.83 102.21,447.24 103.41,448.72 104.60,450.25 105.80,451.84 107.00,453.48 108.19,455.18 109.39,456.93 110.58,458.72 111.78,460.55 112.97,462.41 114.17,464.30 115.37,466.22 116.56,468.16 117.76,470.10 118.95,472.06 120.15,474.01 121.35,475.95 122.54,477.88 123.74,479.78 124.93,481.66 126.13,483.51 127.33,485.32 128.52,487.09 129.72,488.81 130.91,490.48 132.11,492.10 133.30,493.67 134.50,495.17 135.70,496.62 136.89,498.00 138.09,499.32 139.28,500.58 140.48,501.78 141.67,502.92 142.87,504.01 144.07,505.03 145.26,505.99 146.46,506.90 147.65,507.76 148.85,508.56 150.05,509.32 151.24,510.03 152.44,510.69 153.63,511.31 154.83,511.89 156.03,512.43 157.22,512.93 158.42,513.40 159.61,513.84 160.81,514.24 162.00,514.62 163.20,514.97 164.40,515.30 165.59,515.60 166.79,515.88 167.98,516.14 169.18,516.38 170.38,516.60 171.57,516.81 172.77,517.00 173.96,517.18 175.16,517.34 176.35,517.49 177.55,517.63 178.75,517.76 179.94,517.88 181.14,517.99 182.33,518.09 183.53,518.19 184.72,518.27 185.92,518.35 187.12,518.43 188.31,518.49 189.51,518.56 190.70,518.61 191.90,518.67" fill="none" stroke="#e0442a" stroke-width="1.2"/>
<path d="M57.15,428.63V438.18M55.25,428.63H59.05M55.25,438.18H59.05" stroke="#ec5a2a" stroke-width="0.9" fill="none"/>
<rect x="55.45" y="431.70" width="3.40" height="3.40" fill="#ec5a2a"/>
<path d="M83.40,436.27V441.99M81.50,436.27H85.30M81.50,441.99H85.30" stroke="#ec5a2a" stroke-width="0.9" fill="none"/>
<rect x="81.70" y="437.43" width="3.40" height="3.40" fill="#ec5a2a"/>
<path d="M109.65,454.40V460.13M107.75,454.40H111.55M107.75,460.13H111.55" stroke="#ec5a2a" stroke-width="0.9" fill="none"/>
<rect x="107.95" y="455.56" width="3.40" height="3.40" fill="#ec5a2a"/>
<path d="M124.53,479.22V484.94M122.62,479.22H126.43M122.62,484.94H126.43" stroke="#ec5a2a" stroke-width="0.9" fill="none"/>
<rect x="122.83" y="480.38" width="3.40" height="3.40" fill="#ec5a2a"/>
<path d="M135.90,507.37V510.23M134.00,507.37H137.80M134.00,510.23H137.80" stroke="#ec5a2a" stroke-width="0.9" fill="none"/>
<rect x="134.20" y="507.10" width="3.40" height="3.40" fill="#ec5a2a"/>
<path d="M162.15,518.35V519.30M160.25,518.35H164.05M160.25,519.30H164.05" stroke="#ec5a2a" stroke-width="0.9" fill="none"/>
<rect x="160.45" y="517.12" width="3.40" height="3.40" fill="#ec5a2a"/>
<path d="M188.40,518.35V519.30M186.50,518.35H190.30M186.50,519.30H190.30" stroke="#ec5a2a" stroke-width="0.9" fill="none"/>
<rect x="186.70" y="517.12" width="3.40" height="3.40" fill="#ec5a2a"/>
<path d="M57.15,431.50V439.13M55.25,431.50H59.05M55.25,439.13H59.05" stroke="#e2452a" stroke-width="0.9" fill="none"/>
<path d="M57.15,433.01 L59.25,436.81 L55.05,436.81 Z" fill="#e2452a"/>
<path d="M83.40,435.31V441.04M81.50,435.31H85.30M81.50,441.04H85.30" stroke="#e2452a" stroke-width="0.9" fill="none"/>
<path d="M83.40,435.88 L85.50,439.68 L81.30,439.68 Z" fill="#e2452a"/>
<path d="M109.65,456.31V462.04M107.75,456.31H111.55M107.75,462.04H111.55" stroke="#e2452a" stroke-width="0.9" fill="none"/>
<path d="M109.65,456.87 L111.75,460.67 L107.55,460.67 Z" fill="#e2452a"/>
<path d="M124.53,478.26V483.99M122.62,478.26H126.43M122.62,483.99H126.43" stroke="#e2452a" stroke-width="0.9" fill="none"/>
<path d="M124.53,478.82 L126.62,482.62 L122.43,482.62 Z" fill="#e2452a"/>
<path d="M135.90,506.42V509.28M134.00,506.42H137.80M134.00,509.28H137.80" stroke="#e2452a" stroke-width="0.9" fill="none"/>
<path d="M135.90,505.55 L138.00,509.35 L133.80,509.35 Z" fill="#e2452a"/>
<path d="M162.15,518.35V519.30M160.25,518.35H164.05M160.25,519.30H164.05" stroke="#e2452a" stroke-width="0.9" fill="none"/>
<path d="M162.15,516.52 L164.25,520.32 L160.05,520.32 Z" fill="#e2452a"/>
<path d="M188.40,518.35V519.30M186.50,518.35H190.30M186.50,519.30H190.30" stroke="#e2452a" stroke-width="0.9" fill="none"/>
<path d="M188.40,516.52 L190.50,520.32 L186.30,520.32 Z" fill="#e2452a"/>
<path d="M57.15,425.77V429.59M55.25,425.77H59.05M55.25,429.59H59.05" stroke="#151515" stroke-width="0.9" fill="none"/>
<circle cx="57.15" cy="427.68" r="1.80" fill="#151515"/>
<path d="M83.40,424.81V436.27M81.50,424.81H85.30M81.50,436.27H85.30" stroke="#151515" stroke-width="0.9" fill="none"/>
<circle cx="83.40" cy="430.54" r="1.80" fill="#151515"/>
<path d="M109.65,431.50V437.22M107.75,431.50H111.55M107.75,437.22H111.55" stroke="#151515" stroke-width="0.9" fill="none"/>
<circle cx="109.65" cy="434.36" r="1.80" fill="#151515"/>
<path d="M124.53,440.08V443.90M122.62,440.08H126.43M122.62,443.90H126.43" stroke="#151515" stroke-width="0.9" fill="none"/>
<circle cx="124.53" cy="441.99" r="1.80" fill="#151515"/>
<path d="M135.90,444.86V463.94M134.00,444.86H137.80M134.00,463.94H137.80" stroke="#151515" stroke-width="0.9" fill="none"/>
<circle cx="135.90" cy="454.40" r="1.80" fill="#151515"/>
<path d="M162.15,501.17V510.71M160.25,501.17H164.05M160.25,510.71H164.05" stroke="#151515" stroke-width="0.9" fill="none"/>
<circle cx="162.15" cy="505.94" r="1.80" fill="#151515"/>
<path d="M188.40,518.35V519.30M186.50,518.35H190.30M186.50,519.30H190.30" stroke="#151515" stroke-width="0.9" fill="none"/>
<circle cx="188.40" cy="518.82" r="1.80" fill="#151515"/>
<text x="53.00" y="475.20" font-size="7.4">IC<tspan font-size="4.8" dy="1.8">50</tspan></text>
<text x="53.00" y="484.00" font-size="7.4">WT</text>
<text x="69.40" y="484.00" font-size="7.4">1,212 nmol/L</text>
<text x="53.00" y="492.80" font-size="7.4">KO1</text>
<text x="71.50" y="492.80" font-size="7.4">597 nmol/L***</text>
<text x="53.00" y="501.60" font-size="7.4">KO2</text>
<text x="71.50" y="501.60" font-size="7.4">600 nmol/L***</text>
<line x1="179.40" y1="403.50" x2="190.20" y2="403.50" stroke="#151515" stroke-width="1.2"/>
<circle cx="184.80" cy="403.50" r="2.07" fill="#151515"/>
<text x="192.50" y="406.40" font-size="7.7">EZH2-WT</text>
<line x1="179.40" y1="417.70" x2="190.20" y2="417.70" stroke="#e8582c" stroke-width="1.2"/>
<rect x="182.84" y="415.75" width="3.91" height="3.91" fill="#ec5a2a"/>
<text x="192.50" y="420.60" font-size="7.7">EZH2-KO1</text>
<line x1="179.40" y1="432.30" x2="190.20" y2="432.30" stroke="#e0442a" stroke-width="1.2"/>
<path d="M184.80,429.66 L187.22,434.03 L182.39,434.03 Z" fill="#e2452a"/>
<text x="192.50" y="435.20" font-size="7.7">EZH2-KO2</text>
<line x1="307.20" y1="398.30" x2="307.20" y2="519.30" stroke="#231f20" stroke-width="1"/>
<line x1="306.70" y1="518.80" x2="454.00" y2="518.80" stroke="#231f20" stroke-width="1"/>
<line x1="304.40" y1="518.80" x2="307.20" y2="518.80" stroke="#231f20" stroke-width="1"/>
<text x="301.80" y="521.80" font-size="8.3" text-anchor="end">0</text>
<line x1="304.40" y1="494.80" x2="307.20" y2="494.80" stroke="#231f20" stroke-width="1"/>
<text x="301.80" y="497.80" font-size="8.3" text-anchor="end">25</text>
<line x1="304.40" y1="470.80" x2="307.20" y2="470.80" stroke="#231f20" stroke-width="1"/>
<text x="301.80" y="473.80" font-size="8.3" text-anchor="end">50</text>
<line x1="304.40" y1="446.80" x2="307.20" y2="446.80" stroke="#231f20" stroke-width="1"/>
<text x="301.80" y="449.80" font-size="8.3" text-anchor="end">75</text>
<line x1="304.40" y1="422.80" x2="307.20" y2="422.80" stroke="#231f20" stroke-width="1"/>
<text x="301.80" y="425.80" font-size="8.3" text-anchor="end">100</text>
<line x1="304.40" y1="398.80" x2="307.20" y2="398.80" stroke="#231f20" stroke-width="1"/>
<text x="301.80" y="401.80" font-size="8.3" text-anchor="end">125</text>
<line x1="307.20" y1="518.80" x2="307.20" y2="522.00" stroke="#231f20" stroke-width="1"/>
<text x="307.20" y="531.40" font-size="8.3" text-anchor="middle">1.5</text>
<line x1="317.65" y1="518.80" x2="317.65" y2="520.80" stroke="#231f20" stroke-width="0.8"/>
<line x1="328.10" y1="518.80" x2="328.10" y2="520.80" stroke="#231f20" stroke-width="0.8"/>
<line x1="338.55" y1="518.80" x2="338.55" y2="520.80" stroke="#231f20" stroke-width="0.8"/>
<line x1="349.00" y1="518.80" x2="349.00" y2="522.00" stroke="#231f20" stroke-width="1"/>
<text x="349.00" y="531.40" font-size="8.3" text-anchor="middle">2.0</text>
<line x1="359.45" y1="518.80" x2="359.45" y2="520.80" stroke="#231f20" stroke-width="0.8"/>
<line x1="369.90" y1="518.80" x2="369.90" y2="520.80" stroke="#231f20" stroke-width="0.8"/>
<line x1="380.35" y1="518.80" x2="380.35" y2="520.80" stroke="#231f20" stroke-width="0.8"/>
<line x1="390.80" y1="518.80" x2="390.80" y2="522.00" stroke="#231f20" stroke-width="1"/>
<text x="390.80" y="531.40" font-size="8.3" text-anchor="middle">2.5</text>
<line x1="401.25" y1="518.80" x2="401.25" y2="520.80" stroke="#231f20" stroke-width="0.8"/>
<line x1="411.70" y1="518.80" x2="411.70" y2="520.80" stroke="#231f20" stroke-width="0.8"/>
<line x1="422.15" y1="518.80" x2="422.15" y2="520.80" stroke="#231f20" stroke-width="0.8"/>
<line x1="432.60" y1="518.80" x2="432.60" y2="522.00" stroke="#231f20" stroke-width="1"/>
<text x="432.60" y="531.40" font-size="8.3" text-anchor="middle">3.0</text>
<line x1="443.05" y1="518.80" x2="443.05" y2="520.80" stroke="#231f20" stroke-width="0.8"/>
<line x1="453.50" y1="518.80" x2="453.50" y2="520.80" stroke="#231f20" stroke-width="0.8"/>
<text x="380.60" y="544.60" font-size="8.6" text-anchor="middle">CHIR-124 log (nmol/L)</text>
<text x="280.00" y="458.80" font-size="8.5" text-anchor="middle" transform="rotate(-90 280.00 458.80)">Cell viability (%)</text>
<polyline points="307.20,422.82 308.41,422.83 309.62,422.83 310.84,422.83 312.05,422.84 313.26,422.84 314.47,422.85 315.69,422.86 316.90,422.86 318.11,422.87 319.32,422.88 320.53,422.89 321.75,422.90 322.96,422.92 324.17,422.93 325.38,422.95 326.60,422.97 327.81,422.99 329.02,423.01 330.23,423.04 331.44,423.07 332.66,423.11 333.87,423.15 335.08,423.20 336.29,423.25 337.50,423.31 338.72,423.37 339.93,423.45 341.14,423.53 342.35,423.63 343.57,423.74 344.78,423.86 345.99,424.00 347.20,424.15 348.41,424.33 349.63,424.53 350.84,424.75 352.05,425.00 353.26,425.28 354.48,425.60 355.69,425.95 356.90,426.35 358.11,426.80 359.32,427.30 360.54,427.86 361.75,428.49 362.96,429.19 364.17,429.97 365.39,430.83 366.60,431.79 367.81,432.84 369.02,434.01 370.23,435.29 371.45,436.70 372.66,438.23 373.87,439.90 375.08,441.70 376.30,443.65 377.51,445.74 378.72,447.96 379.93,450.32 381.14,452.81 382.36,455.41 383.57,458.12 384.78,460.92 385.99,463.80 387.21,466.72 388.42,469.68 389.63,472.64 390.84,475.59 392.05,478.50 393.27,481.36 394.48,484.14 395.69,486.83 396.90,489.40 398.12,491.86 399.33,494.19 400.54,496.38 401.75,498.43 402.96,500.35 404.18,502.12 405.39,503.75 406.60,505.25 407.81,506.63 409.02,507.88 410.24,509.02 411.45,510.05 412.66,510.99 413.87,511.83 415.09,512.59 416.30,513.27 417.51,513.88 418.72,514.42 419.93,514.91 421.15,515.35 422.36,515.74 423.57,516.08 424.78,516.39 426.00,516.66 427.21,516.91 428.42,517.12 429.63,517.31 430.84,517.49 432.06,517.64 433.27,517.77 434.48,517.89 435.69,517.99 436.91,518.09 438.12,518.17 439.33,518.24 440.54,518.31 441.75,518.36 442.97,518.41 444.18,518.46 445.39,518.50 446.60,518.53 447.82,518.56 449.03,518.59 450.24,518.62 451.45,518.64 452.66,518.66" fill="none" stroke="#151515" stroke-width="1.1"/>
<polyline points="307.20,422.93 308.41,422.95 309.62,422.97 310.84,422.99 312.05,423.02 313.26,423.04 314.47,423.08 315.69,423.11 316.90,423.16 318.11,423.20 319.32,423.26 320.53,423.32 321.75,423.39 322.96,423.47 324.17,423.56 325.38,423.66 326.60,423.78 327.81,423.91 329.02,424.06 330.23,424.22 331.44,424.41 332.66,424.63 333.87,424.87 335.08,425.14 336.29,425.45 337.50,425.80 338.72,426.19 339.93,426.63 341.14,427.13 342.35,427.68 343.57,428.30 344.78,429.00 345.99,429.78 347.20,430.64 348.41,431.61 349.63,432.68 350.84,433.86 352.05,435.16 353.26,436.59 354.48,438.16 355.69,439.87 356.90,441.72 358.11,443.73 359.32,445.88 360.54,448.17 361.75,450.61 362.96,453.18 364.17,455.88 365.39,458.68 366.60,461.57 367.81,464.54 369.02,467.55 370.23,470.59 371.45,473.63 372.66,476.65 373.87,479.62 375.08,482.53 376.30,485.34 377.51,488.05 378.72,490.64 379.93,493.10 381.14,495.42 382.36,497.59 383.57,499.61 384.78,501.48 385.99,503.21 387.21,504.80 388.42,506.25 389.63,507.57 390.84,508.77 392.05,509.85 393.27,510.83 394.48,511.71 395.69,512.50 396.90,513.21 398.12,513.84 399.33,514.40 400.54,514.90 401.75,515.35 402.96,515.75 404.18,516.10 405.39,516.42 406.60,516.69 407.81,516.94 409.02,517.16 410.24,517.35 411.45,517.52 412.66,517.67 413.87,517.80 415.09,517.92 416.30,518.03 417.51,518.12 418.72,518.20 419.93,518.27 421.15,518.33 422.36,518.39 423.57,518.44 424.78,518.48 426.00,518.52 427.21,518.55 428.42,518.58 429.63,518.61 430.84,518.63 432.06,518.65 433.27,518.67 434.48,518.68 435.69,518.70 436.91,518.71 438.12,518.72 439.33,518.73 440.54,518.74 441.75,518.75 442.97,518.75 444.18,518.76 445.39,518.76 446.60,518.77 447.82,518.77 449.03,518.77 450.24,518.78 451.45,518.78 452.66,518.78" fill="none" stroke="#f0802e" stroke-width="1.0"/>
<polyline points="307.20,423.03 308.41,423.06 309.62,423.09 310.84,423.12 312.05,423.16 313.26,423.21 314.47,423.26 315.69,423.31 316.90,423.38 318.11,423.45 319.32,423.53 320.53,423.62 321.75,423.72 322.96,423.83 324.17,423.95 325.38,424.10 326.60,424.25 327.81,424.43 329.02,424.63 330.23,424.85 331.44,425.10 332.66,425.38 333.87,425.69 335.08,426.03 336.29,426.42 337.50,426.85 338.72,427.33 339.93,427.86 341.14,428.45 342.35,429.10 343.57,429.83 344.78,430.63 345.99,431.51 347.20,432.48 348.41,433.55 349.63,434.71 350.84,435.99 352.05,437.37 353.26,438.88 354.48,440.50 355.69,442.25 356.90,444.13 358.11,446.13 359.32,448.25 360.54,450.50 361.75,452.86 362.96,455.32 364.17,457.88 365.39,460.52 366.60,463.22 367.81,465.98 369.02,468.77 370.23,471.57 371.45,474.37 372.66,477.15 373.87,479.88 375.08,482.55 376.30,485.14 377.51,487.65 378.72,490.06 379.93,492.36 381.14,494.53 382.36,496.59 383.57,498.52 384.78,500.33 385.99,502.01 387.21,503.57 388.42,505.01 389.63,506.33 390.84,507.54 392.05,508.65 393.27,509.67 394.48,510.59 395.69,511.42 396.90,512.18 398.12,512.87 399.33,513.48 400.54,514.04 401.75,514.54 402.96,514.99 404.18,515.40 405.39,515.76 406.60,516.09 407.81,516.38 409.02,516.64 410.24,516.87 411.45,517.08 412.66,517.27 413.87,517.44 415.09,517.58 416.30,517.72 417.51,517.83 418.72,517.94 419.93,518.03 421.15,518.12 422.36,518.19 423.57,518.26 424.78,518.32 426.00,518.37 427.21,518.42 428.42,518.46 429.63,518.50 430.84,518.53 432.06,518.56 433.27,518.59 434.48,518.61 435.69,518.63 436.91,518.65 438.12,518.67 439.33,518.68 440.54,518.69 441.75,518.71 442.97,518.72 444.18,518.73 445.39,518.73 446.60,518.74 447.82,518.75 449.03,518.75 450.24,518.76 451.45,518.76 452.66,518.77" fill="none" stroke="#e0552a" stroke-width="1.0"/>
<path d="M332.28,423.76V431.44M330.38,423.76H334.18M330.38,431.44H334.18" stroke="#f0842a" stroke-width="0.9" fill="none"/>
<rect x="330.58" y="425.90" width="3.40" height="3.40" fill="#f0842a"/>
<path d="M357.36,442.00V447.76M355.46,442.00H359.26M355.46,447.76H359.26" stroke="#f0842a" stroke-width="0.9" fill="none"/>
<rect x="355.66" y="443.18" width="3.40" height="3.40" fill="#f0842a"/>
<path d="M382.44,494.80V500.56M380.54,494.80H384.34M380.54,500.56H384.34" stroke="#f0842a" stroke-width="0.9" fill="none"/>
<rect x="380.74" y="495.98" width="3.40" height="3.40" fill="#f0842a"/>
<path d="M407.52,513.04V516.88M405.62,513.04H409.42M405.62,516.88H409.42" stroke="#f0842a" stroke-width="0.9" fill="none"/>
<rect x="405.82" y="513.26" width="3.40" height="3.40" fill="#f0842a"/>
<path d="M422.57,515.92V517.84M420.67,515.92H424.47M420.67,517.84H424.47" stroke="#f0842a" stroke-width="0.9" fill="none"/>
<rect x="420.87" y="515.18" width="3.40" height="3.40" fill="#f0842a"/>
<path d="M432.60,511.12V520.72M430.70,511.12H434.50M430.70,520.72H434.50" stroke="#f0842a" stroke-width="0.9" fill="none"/>
<rect x="430.90" y="514.22" width="3.40" height="3.40" fill="#f0842a"/>
<path d="M332.28,422.80V428.56M330.38,422.80H334.18M330.38,428.56H334.18" stroke="#e4582a" stroke-width="0.9" fill="none"/>
<path d="M332.28,423.38 L334.38,427.18 L330.18,427.18 Z" fill="#e4582a"/>
<path d="M357.36,443.92V449.68M355.46,443.92H359.26M355.46,449.68H359.26" stroke="#e4582a" stroke-width="0.9" fill="none"/>
<path d="M357.36,444.50 L359.46,448.30 L355.26,448.30 Z" fill="#e4582a"/>
<path d="M382.44,491.92V497.68M380.54,491.92H384.34M380.54,497.68H384.34" stroke="#e4582a" stroke-width="0.9" fill="none"/>
<path d="M382.44,492.50 L384.54,496.30 L380.34,496.30 Z" fill="#e4582a"/>
<path d="M407.52,512.08V515.92M405.62,512.08H409.42M405.62,515.92H409.42" stroke="#e4582a" stroke-width="0.9" fill="none"/>
<path d="M407.52,511.70 L409.62,515.50 L405.42,515.50 Z" fill="#e4582a"/>
<path d="M422.57,514.96V516.88M420.67,514.96H424.47M420.67,516.88H424.47" stroke="#e4582a" stroke-width="0.9" fill="none"/>
<path d="M422.57,513.62 L424.67,517.42 L420.47,517.42 Z" fill="#e4582a"/>
<path d="M432.60,512.08V517.84M430.70,512.08H434.50M430.70,517.84H434.50" stroke="#e4582a" stroke-width="0.9" fill="none"/>
<path d="M432.60,512.66 L434.70,516.46 L430.50,516.46 Z" fill="#e4582a"/>
<path d="M332.28,418.00V425.68M330.38,418.00H334.18M330.38,425.68H334.18" stroke="#151515" stroke-width="0.9" fill="none"/>
<circle cx="332.28" cy="421.84" r="1.80" fill="#151515"/>
<path d="M357.36,427.60V431.44M355.46,427.60H359.26M355.46,431.44H359.26" stroke="#151515" stroke-width="0.9" fill="none"/>
<circle cx="357.36" cy="429.52" r="1.80" fill="#151515"/>
<path d="M382.44,459.28V465.04M380.54,459.28H384.34M380.54,465.04H384.34" stroke="#151515" stroke-width="0.9" fill="none"/>
<circle cx="382.44" cy="462.16" r="1.80" fill="#151515"/>
<path d="M407.52,505.36V507.28M405.62,505.36H409.42M405.62,507.28H409.42" stroke="#151515" stroke-width="0.9" fill="none"/>
<circle cx="407.52" cy="506.32" r="1.80" fill="#151515"/>
<path d="M422.57,511.12V514.96M420.67,511.12H424.47M420.67,514.96H424.47" stroke="#151515" stroke-width="0.9" fill="none"/>
<circle cx="422.57" cy="513.04" r="1.80" fill="#151515"/>
<path d="M432.60,512.08V517.84M430.70,512.08H434.50M430.70,517.84H434.50" stroke="#151515" stroke-width="0.9" fill="none"/>
<circle cx="432.60" cy="514.96" r="1.80" fill="#151515"/>
<text x="311.80" y="475.20" font-size="7.4">IC<tspan font-size="4.8" dy="1.8">50</tspan></text>
<text x="311.80" y="484.00" font-size="7.4">WT</text>
<text x="328.20" y="484.00" font-size="7.4">300 nmol/L</text>
<text x="311.80" y="492.80" font-size="7.4">KO1</text>
<text x="331.50" y="492.80" font-size="7.4">180 nmol/L***</text>
<text x="311.80" y="501.60" font-size="7.4">KO2</text>
<text x="331.50" y="501.60" font-size="7.4">178 nmol/L***</text>
<line x1="437.30" y1="402.90" x2="448.10" y2="402.90" stroke="#151515" stroke-width="1.2"/>
<circle cx="442.20" cy="402.90" r="2.07" fill="#151515"/>
<text x="450.40" y="405.80" font-size="7.7">EZH2-WT</text>
<line x1="437.30" y1="417.50" x2="448.10" y2="417.50" stroke="#f0802e" stroke-width="1.2"/>
<rect x="440.25" y="415.55" width="3.91" height="3.91" fill="#f0842a"/>
<text x="450.40" y="420.40" font-size="7.7">EZH2-KO1</text>
<line x1="437.30" y1="431.70" x2="448.10" y2="431.70" stroke="#e0552a" stroke-width="1.2"/>
<path d="M442.20,429.06 L444.62,433.43 L439.78,433.43 Z" fill="#e4582a"/>
<text x="450.40" y="434.60" font-size="7.7">EZH2-KO2</text>
<line x1="37.70" y1="590.20" x2="37.70" y2="694.70" stroke="#555" stroke-width="1"/>
<line x1="37.20" y1="694.20" x2="223.80" y2="694.20" stroke="#555" stroke-width="1"/>
<line x1="35.00" y1="694.20" x2="37.70" y2="694.20" stroke="#555" stroke-width="1"/>
<text x="32.60" y="697.20" font-size="8.4" text-anchor="end">0</text>
<line x1="35.00" y1="673.50" x2="37.70" y2="673.50" stroke="#555" stroke-width="1"/>
<text x="32.60" y="676.50" font-size="8.4" text-anchor="end">20</text>
<line x1="35.00" y1="652.80" x2="37.70" y2="652.80" stroke="#555" stroke-width="1"/>
<text x="32.60" y="655.80" font-size="8.4" text-anchor="end">40</text>
<line x1="35.00" y1="632.10" x2="37.70" y2="632.10" stroke="#555" stroke-width="1"/>
<text x="32.60" y="635.10" font-size="8.4" text-anchor="end">60</text>
<line x1="35.00" y1="611.40" x2="37.70" y2="611.40" stroke="#555" stroke-width="1"/>
<text x="32.60" y="614.40" font-size="8.4" text-anchor="end">80</text>
<line x1="35.00" y1="590.70" x2="37.70" y2="590.70" stroke="#555" stroke-width="1"/>
<text x="32.60" y="593.70" font-size="8.4" text-anchor="end">100</text>
<rect x="43.30" y="604.36" width="10.30" height="89.84" fill="#3b3b3b"/>
<rect x="53.60" y="625.37" width="10.30" height="68.83" fill="#f47b20"/>
<path d="M48.45,604.36V603.53M46.25,603.53H50.65" stroke="#333" stroke-width="0.7" fill="none"/>
<path d="M58.75,625.37V614.71M56.55,614.71H60.95" stroke="#555" stroke-width="0.7" fill="none"/>
<line x1="53.60" y1="694.20" x2="53.60" y2="697.00" stroke="#555" stroke-width="1"/>
<text x="53.60" y="706.90" font-size="8.4" text-anchor="middle">0</text>
<rect x="74.40" y="607.05" width="10.30" height="87.15" fill="#3b3b3b"/>
<rect x="84.70" y="654.25" width="10.30" height="39.95" fill="#f47b20"/>
<path d="M79.55,607.05V606.54M77.35,606.54H81.75" stroke="#333" stroke-width="0.7" fill="none"/>
<path d="M89.85,654.25V651.45M87.65,651.45H92.05" stroke="#555" stroke-width="0.7" fill="none"/>
<line x1="84.70" y1="694.20" x2="84.70" y2="697.00" stroke="#555" stroke-width="1"/>
<text x="84.70" y="706.90" font-size="8.4" text-anchor="middle">1</text>
<rect x="105.50" y="625.99" width="10.30" height="68.21" fill="#3b3b3b"/>
<rect x="115.80" y="690.58" width="10.30" height="3.62" fill="#f47b20"/>
<path d="M110.65,625.99V625.58M108.45,625.58H112.85" stroke="#333" stroke-width="0.7" fill="none"/>
<path d="M120.95,690.58V689.54M118.75,689.54H123.15" stroke="#555" stroke-width="0.7" fill="none"/>
<line x1="115.80" y1="694.20" x2="115.80" y2="697.00" stroke="#555" stroke-width="1"/>
<text x="115.80" y="706.90" font-size="8.4" text-anchor="middle">2</text>
<rect x="136.60" y="686.02" width="10.30" height="8.18" fill="#3b3b3b"/>
<rect x="146.90" y="671.64" width="10.30" height="22.56" fill="#f47b20"/>
<path d="M141.75,686.02V685.61M139.55,685.61H143.95" stroke="#333" stroke-width="0.7" fill="none"/>
<path d="M152.05,671.64V667.29M149.85,667.29H154.25" stroke="#555" stroke-width="0.7" fill="none"/>
<line x1="146.90" y1="694.20" x2="146.90" y2="697.00" stroke="#555" stroke-width="1"/>
<text x="146.90" y="706.90" font-size="8.4" text-anchor="middle">0</text>
<rect x="167.50" y="683.23" width="10.30" height="10.97" fill="#3b3b3b"/>
<rect x="177.80" y="645.66" width="10.30" height="48.54" fill="#f47b20"/>
<path d="M172.65,683.23V682.82M170.45,682.82H174.85" stroke="#333" stroke-width="0.7" fill="none"/>
<path d="M182.95,645.66V642.76M180.75,642.76H185.15" stroke="#555" stroke-width="0.7" fill="none"/>
<line x1="177.80" y1="694.20" x2="177.80" y2="697.00" stroke="#555" stroke-width="1"/>
<text x="177.80" y="706.90" font-size="8.4" text-anchor="middle">1</text>
<rect x="198.60" y="669.05" width="10.30" height="25.15" fill="#3b3b3b"/>
<rect x="208.90" y="606.74" width="10.30" height="87.46" fill="#f47b20"/>
<path d="M203.75,669.05V668.64M201.55,668.64H205.95" stroke="#333" stroke-width="0.7" fill="none"/>
<path d="M214.05,606.74V605.71M211.85,605.71H216.25" stroke="#555" stroke-width="0.7" fill="none"/>
<line x1="208.90" y1="694.20" x2="208.90" y2="697.00" stroke="#555" stroke-width="1"/>
<text x="208.90" y="706.90" font-size="8.4" text-anchor="middle">2</text>
<line x1="133.80" y1="588.80" x2="133.80" y2="690.00" stroke="#777" stroke-width="0.9"/>
<text x="83.30" y="581.90" font-size="8.4" text-anchor="middle">Live</text>
<text x="176.2" y="581.7" font-size="8.3" text-anchor="middle">Annexin V<tspan font-size="5" dy="-3">+</tspan><tspan dy="3">/PI</tspan><tspan font-size="5" dy="-3">+</tspan></text>
<text x="131.20" y="717.60" font-size="8.6" text-anchor="middle">MK8776 (μmol/L)</text>
<text x="12.20" y="642.30" font-size="8.6" text-anchor="middle" transform="rotate(-90 12.20 642.30)">Cells (%)</text>
<path d="M79.00,594.80 Q79.00,592.80 80.50,592.80 H90.20 Q91.70,592.80 91.70,594.80" stroke="#333" stroke-width="1.0" fill="none"/>
<text x="85.35" y="593.40" font-size="8" text-anchor="middle" letter-spacing="0.4">***</text>
<path d="M109.00,615.60 Q109.00,613.60 110.50,613.60 H120.20 Q121.70,613.60 121.70,615.60" stroke="#333" stroke-width="1.0" fill="none"/>
<text x="115.35" y="614.20" font-size="8" text-anchor="middle" letter-spacing="0.4">***</text>
<path d="M172.00,634.80 Q172.00,632.80 173.50,632.80 H183.50 Q185.00,632.80 185.00,634.80" stroke="#333" stroke-width="1.0" fill="none"/>
<text x="178.50" y="633.40" font-size="8" text-anchor="middle" letter-spacing="0.4">***</text>
<path d="M203.60,602.60 Q203.60,600.60 205.10,600.60 H214.50 Q216.00,600.60 216.00,602.60" stroke="#333" stroke-width="1.0" fill="none"/>
<text x="209.80" y="601.20" font-size="8" text-anchor="middle" letter-spacing="0.4">***</text>
<rect x="225.0" y="577.3" width="11.8" height="4.4" fill="#3b3b3b"/>
<rect x="225.0" y="587.9" width="11.8" height="4.5" fill="#f47b20"/>
<text x="239.60" y="582.00" font-size="7.7">EZH2-WT</text>
<text x="239.60" y="593.10" font-size="7.7">EZH2-KO</text>
<defs><filter id="fb" x="-50%" y="-50%" width="200%" height="200%"><feGaussianBlur stdDeviation="1.6"/></filter><filter id="fb2" x="-50%" y="-50%" width="200%" height="200%"><feGaussianBlur stdDeviation="0.9"/></filter></defs>
<text x="381.90" y="575.00" font-size="7.7" text-anchor="middle">DMSO</text>
<text x="448.00" y="575.00" font-size="7.7" text-anchor="middle">MK8776</text>
<text x="341.50" y="586.60" font-size="7.4" text-anchor="end">WT</text>
<text x="341.50" y="644.30" font-size="7.4" text-anchor="end">EZH2-KO</text>
<g fill="#e8262b" fill-opacity="0.15"><circle cx="378.9" cy="597.9" r="0.45"/><circle cx="386.2" cy="602.6" r="0.45"/><circle cx="383.9" cy="602.2" r="0.45"/><circle cx="353.4" cy="591.3" r="0.45"/><circle cx="392.6" cy="595.6" r="0.45"/><circle cx="390.8" cy="582.9" r="0.45"/><circle cx="372.3" cy="586.1" r="0.45"/><circle cx="375.5" cy="593.9" r="0.45"/><circle cx="352.8" cy="585.4" r="0.45"/><circle cx="364.2" cy="602.0" r="0.45"/><circle cx="385.0" cy="584.0" r="0.45"/><circle cx="386.3" cy="583.5" r="0.45"/><circle cx="378.6" cy="583.2" r="0.45"/><circle cx="352.3" cy="600.9" r="0.45"/></g>
<g fill="#e8262b" fill-opacity="0.15"><circle cx="375.6" cy="597.0" r="0.45"/><circle cx="392.2" cy="591.7" r="0.45"/><circle cx="368.4" cy="607.8" r="0.45"/><circle cx="360.9" cy="590.8" r="0.45"/><circle cx="380.0" cy="606.7" r="0.45"/><circle cx="380.0" cy="589.9" r="0.45"/><circle cx="370.5" cy="595.8" r="0.45"/><circle cx="376.0" cy="594.7" r="0.45"/><circle cx="370.1" cy="600.7" r="0.45"/><circle cx="387.5" cy="593.2" r="0.45"/><circle cx="369.9" cy="597.4" r="0.45"/><circle cx="378.3" cy="586.8" r="0.45"/><circle cx="369.9" cy="599.3" r="0.45"/><circle cx="373.1" cy="591.0" r="0.45"/><circle cx="375.9" cy="592.8" r="0.45"/><circle cx="374.0" cy="581.4" r="0.45"/><circle cx="389.7" cy="594.2" r="0.45"/><circle cx="366.1" cy="598.9" r="0.45"/><circle cx="376.8" cy="593.1" r="0.45"/><circle cx="383.4" cy="606.6" r="0.45"/><circle cx="379.0" cy="602.5" r="0.45"/><circle cx="393.4" cy="586.9" r="0.45"/><circle cx="369.3" cy="597.7" r="0.45"/><circle cx="358.6" cy="591.4" r="0.45"/><circle cx="385.6" cy="599.3" r="0.45"/><circle cx="379.2" cy="581.6" r="0.45"/><circle cx="395.2" cy="596.3" r="0.45"/><circle cx="380.9" cy="596.0" r="0.45"/><circle cx="358.6" cy="584.4" r="0.45"/><circle cx="363.1" cy="604.5" r="0.45"/><circle cx="366.5" cy="591.5" r="0.45"/><circle cx="371.7" cy="596.4" r="0.45"/><circle cx="378.5" cy="594.6" r="0.45"/><circle cx="375.5" cy="594.6" r="0.45"/><circle cx="385.1" cy="592.4" r="0.45"/><circle cx="368.5" cy="595.5" r="0.45"/><circle cx="360.0" cy="586.8" r="0.45"/><circle cx="364.9" cy="594.7" r="0.45"/><circle cx="392.8" cy="597.6" r="0.45"/><circle cx="384.3" cy="594.4" r="0.45"/><circle cx="376.5" cy="590.3" r="0.45"/><circle cx="363.2" cy="585.3" r="0.45"/><circle cx="381.5" cy="597.0" r="0.45"/><circle cx="384.3" cy="602.3" r="0.45"/><circle cx="371.3" cy="599.3" r="0.45"/><circle cx="391.6" cy="592.9" r="0.45"/><circle cx="383.8" cy="592.0" r="0.45"/><circle cx="359.5" cy="593.7" r="0.45"/><circle cx="366.6" cy="593.7" r="0.45"/><circle cx="369.8" cy="594.9" r="0.45"/><circle cx="354.8" cy="605.5" r="0.45"/><circle cx="386.2" cy="590.9" r="0.45"/><circle cx="365.8" cy="593.0" r="0.45"/><circle cx="380.1" cy="595.5" r="0.45"/><circle cx="377.6" cy="581.2" r="0.45"/><circle cx="363.8" cy="601.1" r="0.45"/><circle cx="376.2" cy="583.9" r="0.45"/><circle cx="366.2" cy="584.3" r="0.45"/><circle cx="364.8" cy="600.1" r="0.45"/><circle cx="372.0" cy="599.8" r="0.45"/><circle cx="375.7" cy="583.9" r="0.45"/><circle cx="368.1" cy="606.9" r="0.45"/><circle cx="367.0" cy="586.6" r="0.45"/><circle cx="385.3" cy="593.5" r="0.45"/><circle cx="373.9" cy="602.0" r="0.45"/><circle cx="357.9" cy="595.6" r="0.45"/><circle cx="364.3" cy="584.4" r="0.45"/></g>
<g fill="#e8262b" fill-opacity="0.25"><circle cx="400.5" cy="614.9" r="0.45"/><circle cx="402.6" cy="581.4" r="0.45"/><circle cx="399.6" cy="619.1" r="0.45"/><circle cx="406.1" cy="589.7" r="0.45"/><circle cx="410.4" cy="597.9" r="0.45"/><circle cx="399.3" cy="600.5" r="0.45"/><circle cx="405.9" cy="620.1" r="0.45"/><circle cx="406.2" cy="597.2" r="0.45"/><circle cx="401.3" cy="585.6" r="0.45"/><circle cx="402.8" cy="595.3" r="0.45"/><circle cx="403.8" cy="587.8" r="0.45"/><circle cx="401.4" cy="592.1" r="0.45"/><circle cx="399.3" cy="588.7" r="0.45"/><circle cx="399.9" cy="588.7" r="0.45"/><circle cx="404.7" cy="603.1" r="0.45"/><circle cx="398.9" cy="607.8" r="0.45"/><circle cx="403.9" cy="618.4" r="0.45"/><circle cx="402.4" cy="599.6" r="0.45"/><circle cx="400.9" cy="603.4" r="0.45"/><circle cx="404.5" cy="604.0" r="0.45"/><circle cx="402.2" cy="608.3" r="0.45"/><circle cx="403.3" cy="604.8" r="0.45"/><circle cx="400.1" cy="604.3" r="0.45"/><circle cx="399.9" cy="592.5" r="0.45"/><circle cx="403.5" cy="625.7" r="0.45"/><circle cx="406.1" cy="602.0" r="0.45"/><circle cx="402.5" cy="613.1" r="0.45"/><circle cx="407.2" cy="615.7" r="0.45"/><circle cx="402.4" cy="604.1" r="0.45"/><circle cx="402.0" cy="598.8" r="0.45"/><circle cx="400.4" cy="599.2" r="0.45"/><circle cx="396.4" cy="588.5" r="0.45"/><circle cx="404.3" cy="591.6" r="0.45"/><circle cx="404.7" cy="587.4" r="0.45"/><circle cx="401.9" cy="606.5" r="0.45"/><circle cx="399.8" cy="594.0" r="0.45"/><circle cx="410.6" cy="594.3" r="0.45"/><circle cx="400.8" cy="595.5" r="0.45"/><circle cx="403.1" cy="601.7" r="0.45"/><circle cx="406.0" cy="610.9" r="0.45"/><circle cx="401.8" cy="598.0" r="0.45"/><circle cx="398.7" cy="585.2" r="0.45"/><circle cx="400.7" cy="610.2" r="0.45"/><circle cx="403.4" cy="611.0" r="0.45"/><circle cx="405.9" cy="600.1" r="0.45"/><circle cx="409.4" cy="596.1" r="0.45"/><circle cx="401.1" cy="597.2" r="0.45"/><circle cx="406.5" cy="600.5" r="0.45"/><circle cx="400.7" cy="606.9" r="0.45"/><circle cx="406.5" cy="600.7" r="0.45"/><circle cx="402.2" cy="614.2" r="0.45"/><circle cx="406.0" cy="612.6" r="0.45"/><circle cx="400.7" cy="605.2" r="0.45"/><circle cx="404.1" cy="581.8" r="0.45"/><circle cx="406.7" cy="603.1" r="0.45"/><circle cx="402.0" cy="627.5" r="0.45"/><circle cx="403.4" cy="593.9" r="0.45"/><circle cx="402.8" cy="608.3" r="0.45"/><circle cx="405.5" cy="601.4" r="0.45"/><circle cx="400.4" cy="594.2" r="0.45"/><circle cx="400.5" cy="590.2" r="0.45"/><circle cx="402.9" cy="596.5" r="0.45"/><circle cx="403.2" cy="592.7" r="0.45"/><circle cx="400.3" cy="599.9" r="0.45"/><circle cx="401.9" cy="614.9" r="0.45"/><circle cx="400.2" cy="604.3" r="0.45"/><circle cx="402.9" cy="587.3" r="0.45"/><circle cx="405.2" cy="603.9" r="0.45"/><circle cx="396.6" cy="608.7" r="0.45"/><circle cx="405.9" cy="593.1" r="0.45"/><circle cx="408.2" cy="603.7" r="0.45"/><circle cx="399.5" cy="608.3" r="0.45"/><circle cx="401.9" cy="587.0" r="0.45"/><circle cx="396.4" cy="604.8" r="0.45"/><circle cx="400.7" cy="609.2" r="0.45"/><circle cx="404.2" cy="596.2" r="0.45"/><circle cx="401.4" cy="621.8" r="0.45"/><circle cx="408.2" cy="610.4" r="0.45"/><circle cx="401.9" cy="591.0" r="0.45"/><circle cx="401.8" cy="620.7" r="0.45"/><circle cx="404.4" cy="598.8" r="0.45"/><circle cx="399.2" cy="603.9" r="0.45"/><circle cx="400.3" cy="602.1" r="0.45"/><circle cx="405.3" cy="614.0" r="0.45"/><circle cx="403.4" cy="598.2" r="0.45"/><circle cx="403.7" cy="622.2" r="0.45"/><circle cx="404.1" cy="586.3" r="0.45"/><circle cx="407.7" cy="604.8" r="0.45"/><circle cx="402.7" cy="598.7" r="0.45"/></g>
<g fill="#e8262b" fill-opacity="0.35"><circle cx="403.3" cy="580.5" r="0.45"/><circle cx="401.6" cy="580.7" r="0.45"/><circle cx="399.9" cy="587.4" r="0.45"/><circle cx="404.8" cy="584.8" r="0.45"/><circle cx="400.2" cy="582.8" r="0.45"/><circle cx="401.2" cy="581.5" r="0.45"/><circle cx="404.7" cy="583.5" r="0.45"/><circle cx="403.1" cy="582.4" r="0.45"/><circle cx="403.4" cy="581.1" r="0.45"/><circle cx="399.2" cy="582.9" r="0.45"/><circle cx="398.7" cy="580.3" r="0.45"/><circle cx="405.1" cy="581.1" r="0.45"/><circle cx="407.1" cy="583.3" r="0.45"/><circle cx="404.9" cy="584.9" r="0.45"/><circle cx="394.3" cy="581.8" r="0.45"/><circle cx="397.4" cy="580.8" r="0.45"/><circle cx="401.6" cy="585.2" r="0.45"/><circle cx="401.8" cy="586.2" r="0.45"/><circle cx="400.1" cy="581.9" r="0.45"/><circle cx="402.3" cy="584.4" r="0.45"/><circle cx="401.8" cy="580.4" r="0.45"/><circle cx="406.5" cy="583.9" r="0.45"/><circle cx="403.5" cy="582.7" r="0.45"/><circle cx="399.9" cy="581.0" r="0.45"/><circle cx="399.2" cy="586.0" r="0.45"/><circle cx="407.5" cy="582.7" r="0.45"/><circle cx="403.9" cy="582.5" r="0.45"/><circle cx="407.1" cy="580.9" r="0.45"/><circle cx="402.3" cy="583.2" r="0.45"/><circle cx="407.1" cy="581.4" r="0.45"/><circle cx="402.8" cy="580.8" r="0.45"/><circle cx="399.7" cy="580.3" r="0.45"/><circle cx="402.3" cy="584.2" r="0.45"/><circle cx="399.6" cy="580.5" r="0.45"/><circle cx="400.6" cy="582.9" r="0.45"/><circle cx="398.2" cy="580.2" r="0.45"/><circle cx="402.7" cy="582.4" r="0.45"/><circle cx="402.3" cy="582.7" r="0.45"/><circle cx="402.0" cy="581.9" r="0.45"/><circle cx="394.8" cy="583.0" r="0.45"/><circle cx="400.4" cy="582.2" r="0.45"/><circle cx="403.2" cy="583.2" r="0.45"/><circle cx="399.6" cy="583.7" r="0.45"/><circle cx="403.5" cy="581.0" r="0.45"/><circle cx="401.9" cy="584.0" r="0.45"/><circle cx="403.5" cy="583.7" r="0.45"/><circle cx="402.4" cy="584.9" r="0.45"/><circle cx="409.8" cy="583.1" r="0.45"/><circle cx="396.4" cy="586.3" r="0.45"/><circle cx="393.7" cy="583.1" r="0.45"/><circle cx="405.8" cy="584.5" r="0.45"/><circle cx="400.7" cy="585.6" r="0.45"/><circle cx="401.7" cy="580.5" r="0.45"/><circle cx="402.2" cy="582.5" r="0.45"/><circle cx="402.2" cy="583.0" r="0.45"/><circle cx="394.3" cy="585.9" r="0.45"/><circle cx="400.0" cy="583.6" r="0.45"/><circle cx="399.2" cy="582.4" r="0.45"/><circle cx="403.3" cy="583.6" r="0.45"/><circle cx="402.4" cy="582.0" r="0.45"/><circle cx="407.6" cy="583.6" r="0.45"/><circle cx="401.1" cy="582.4" r="0.45"/><circle cx="398.8" cy="581.7" r="0.45"/><circle cx="403.1" cy="582.5" r="0.45"/><circle cx="405.3" cy="580.3" r="0.45"/><circle cx="403.1" cy="581.7" r="0.45"/><circle cx="402.0" cy="582.8" r="0.45"/><circle cx="401.0" cy="582.5" r="0.45"/><circle cx="401.9" cy="584.6" r="0.45"/><circle cx="401.6" cy="582.8" r="0.45"/><circle cx="411.1" cy="583.6" r="0.45"/><circle cx="403.8" cy="584.7" r="0.45"/><circle cx="398.5" cy="583.8" r="0.45"/><circle cx="404.6" cy="583.1" r="0.45"/><circle cx="405.4" cy="584.0" r="0.45"/></g>
<g fill="#e8262b" fill-opacity="0.22"><circle cx="390.7" cy="610.5" r="0.45"/><circle cx="381.8" cy="613.7" r="0.45"/><circle cx="392.5" cy="614.2" r="0.45"/><circle cx="362.2" cy="623.3" r="0.45"/><circle cx="367.0" cy="626.5" r="0.45"/><circle cx="370.2" cy="608.4" r="0.45"/><circle cx="374.4" cy="624.5" r="0.45"/><circle cx="380.5" cy="613.7" r="0.45"/><circle cx="386.1" cy="618.5" r="0.45"/><circle cx="396.4" cy="617.1" r="0.45"/><circle cx="380.7" cy="612.8" r="0.45"/><circle cx="381.3" cy="618.5" r="0.45"/><circle cx="378.3" cy="620.0" r="0.45"/><circle cx="364.2" cy="625.1" r="0.45"/><circle cx="378.2" cy="619.7" r="0.45"/><circle cx="375.9" cy="616.9" r="0.45"/><circle cx="381.7" cy="621.0" r="0.45"/><circle cx="374.2" cy="620.8" r="0.45"/><circle cx="369.0" cy="622.9" r="0.45"/><circle cx="375.8" cy="611.6" r="0.45"/><circle cx="390.0" cy="609.4" r="0.45"/><circle cx="376.5" cy="611.2" r="0.45"/><circle cx="357.9" cy="627.5" r="0.45"/><circle cx="357.7" cy="612.8" r="0.45"/><circle cx="372.6" cy="611.1" r="0.45"/><circle cx="377.8" cy="627.8" r="0.45"/><circle cx="373.4" cy="621.2" r="0.45"/><circle cx="384.5" cy="617.2" r="0.45"/><circle cx="378.4" cy="625.9" r="0.45"/><circle cx="377.1" cy="620.1" r="0.45"/><circle cx="376.9" cy="611.3" r="0.45"/><circle cx="381.4" cy="617.1" r="0.45"/><circle cx="386.2" cy="619.1" r="0.45"/><circle cx="393.2" cy="603.0" r="0.45"/><circle cx="370.2" cy="617.7" r="0.45"/><circle cx="367.9" cy="623.2" r="0.45"/><circle cx="376.8" cy="619.0" r="0.45"/><circle cx="356.7" cy="619.2" r="0.45"/><circle cx="376.1" cy="616.0" r="0.45"/><circle cx="370.1" cy="619.6" r="0.45"/><circle cx="372.6" cy="613.8" r="0.45"/><circle cx="396.2" cy="608.6" r="0.45"/><circle cx="386.1" cy="618.6" r="0.45"/><circle cx="388.1" cy="611.7" r="0.45"/><circle cx="366.3" cy="623.8" r="0.45"/><circle cx="377.0" cy="605.5" r="0.45"/><circle cx="372.5" cy="618.1" r="0.45"/><circle cx="380.9" cy="611.7" r="0.45"/><circle cx="410.1" cy="612.9" r="0.45"/><circle cx="393.3" cy="614.6" r="0.45"/><circle cx="353.3" cy="626.7" r="0.45"/><circle cx="371.7" cy="622.2" r="0.45"/><circle cx="377.1" cy="621.7" r="0.45"/><circle cx="366.6" cy="619.4" r="0.45"/><circle cx="376.4" cy="614.3" r="0.45"/><circle cx="373.0" cy="622.7" r="0.45"/><circle cx="399.9" cy="610.0" r="0.45"/><circle cx="385.5" cy="609.4" r="0.45"/><circle cx="372.6" cy="621.3" r="0.45"/><circle cx="382.8" cy="610.9" r="0.45"/><circle cx="384.8" cy="616.5" r="0.45"/><circle cx="394.4" cy="617.9" r="0.45"/><circle cx="383.4" cy="614.1" r="0.45"/><circle cx="379.3" cy="612.8" r="0.45"/><circle cx="365.0" cy="611.9" r="0.45"/><circle cx="360.2" cy="616.5" r="0.45"/><circle cx="376.4" cy="618.9" r="0.45"/><circle cx="361.5" cy="622.4" r="0.45"/><circle cx="383.6" cy="621.1" r="0.45"/><circle cx="376.7" cy="619.4" r="0.45"/><circle cx="374.4" cy="623.9" r="0.45"/><circle cx="359.4" cy="624.8" r="0.45"/><circle cx="385.2" cy="604.3" r="0.45"/><circle cx="369.1" cy="613.0" r="0.45"/><circle cx="356.0" cy="622.3" r="0.45"/><circle cx="368.6" cy="626.3" r="0.45"/><circle cx="369.6" cy="614.4" r="0.45"/><circle cx="377.1" cy="620.3" r="0.45"/><circle cx="387.8" cy="617.5" r="0.45"/><circle cx="358.6" cy="619.3" r="0.45"/><circle cx="374.0" cy="614.5" r="0.45"/><circle cx="385.6" cy="613.6" r="0.45"/><circle cx="375.9" cy="616.4" r="0.45"/><circle cx="375.6" cy="610.5" r="0.45"/><circle cx="401.2" cy="607.7" r="0.45"/><circle cx="366.1" cy="611.9" r="0.45"/><circle cx="374.2" cy="611.5" r="0.45"/><circle cx="383.0" cy="622.7" r="0.45"/><circle cx="383.8" cy="613.6" r="0.45"/><circle cx="392.0" cy="612.5" r="0.45"/><circle cx="376.9" cy="618.5" r="0.45"/><circle cx="372.3" cy="621.7" r="0.45"/><circle cx="360.2" cy="613.7" r="0.45"/><circle cx="390.3" cy="610.1" r="0.45"/><circle cx="373.6" cy="620.9" r="0.45"/><circle cx="370.0" cy="613.9" r="0.45"/><circle cx="373.6" cy="614.1" r="0.45"/><circle cx="383.1" cy="613.8" r="0.45"/><circle cx="375.4" cy="622.7" r="0.45"/><circle cx="356.9" cy="616.2" r="0.45"/><circle cx="387.8" cy="621.5" r="0.45"/><circle cx="377.3" cy="614.2" r="0.45"/><circle cx="392.5" cy="616.1" r="0.45"/><circle cx="386.6" cy="605.4" r="0.45"/><circle cx="374.2" cy="613.4" r="0.45"/><circle cx="365.3" cy="624.8" r="0.45"/><circle cx="385.2" cy="613.1" r="0.45"/><circle cx="376.4" cy="625.6" r="0.45"/><circle cx="384.8" cy="615.0" r="0.45"/><circle cx="383.5" cy="616.7" r="0.45"/><circle cx="361.7" cy="620.0" r="0.45"/><circle cx="381.5" cy="620.0" r="0.45"/><circle cx="362.0" cy="618.4" r="0.45"/><circle cx="368.1" cy="612.7" r="0.45"/><circle cx="390.9" cy="616.3" r="0.45"/><circle cx="389.4" cy="602.6" r="0.45"/><circle cx="358.0" cy="614.1" r="0.45"/><circle cx="382.3" cy="624.9" r="0.45"/><circle cx="383.4" cy="611.0" r="0.45"/><circle cx="384.4" cy="618.0" r="0.45"/><circle cx="381.0" cy="618.9" r="0.45"/><circle cx="388.8" cy="620.7" r="0.45"/><circle cx="395.0" cy="618.3" r="0.45"/><circle cx="372.8" cy="609.5" r="0.45"/><circle cx="381.5" cy="608.7" r="0.45"/><circle cx="402.4" cy="604.1" r="0.45"/><circle cx="352.8" cy="615.6" r="0.45"/><circle cx="382.4" cy="618.0" r="0.45"/><circle cx="385.4" cy="617.0" r="0.45"/><circle cx="369.4" cy="624.8" r="0.45"/><circle cx="366.9" cy="613.1" r="0.45"/><circle cx="388.8" cy="617.3" r="0.45"/><circle cx="365.9" cy="620.1" r="0.45"/><circle cx="390.8" cy="618.9" r="0.45"/><circle cx="366.4" cy="627.3" r="0.45"/><circle cx="381.7" cy="616.0" r="0.45"/><circle cx="376.2" cy="609.7" r="0.45"/><circle cx="376.5" cy="620.9" r="0.45"/><circle cx="366.6" cy="622.0" r="0.45"/><circle cx="372.0" cy="607.6" r="0.45"/><circle cx="371.0" cy="623.0" r="0.45"/><circle cx="359.0" cy="623.7" r="0.45"/><circle cx="379.4" cy="610.5" r="0.45"/><circle cx="375.7" cy="623.3" r="0.45"/><circle cx="384.4" cy="610.5" r="0.45"/><circle cx="389.9" cy="616.0" r="0.45"/><circle cx="381.1" cy="624.9" r="0.45"/><circle cx="386.6" cy="617.2" r="0.45"/><circle cx="389.7" cy="617.8" r="0.45"/><circle cx="392.2" cy="612.9" r="0.45"/><circle cx="387.7" cy="617.7" r="0.45"/><circle cx="377.8" cy="617.4" r="0.45"/><circle cx="377.2" cy="613.0" r="0.45"/><circle cx="386.7" cy="615.6" r="0.45"/><circle cx="366.5" cy="622.7" r="0.45"/><circle cx="373.5" cy="619.0" r="0.45"/><circle cx="387.9" cy="629.3" r="0.45"/><circle cx="365.5" cy="623.8" r="0.45"/><circle cx="386.4" cy="617.5" r="0.45"/><circle cx="394.3" cy="610.5" r="0.45"/><circle cx="373.5" cy="619.1" r="0.45"/><circle cx="362.9" cy="628.3" r="0.45"/><circle cx="363.6" cy="625.2" r="0.45"/><circle cx="390.3" cy="609.6" r="0.45"/><circle cx="375.1" cy="617.6" r="0.45"/><circle cx="398.1" cy="613.1" r="0.45"/><circle cx="386.7" cy="604.5" r="0.45"/><circle cx="375.3" cy="607.2" r="0.45"/><circle cx="392.1" cy="621.2" r="0.45"/><circle cx="385.8" cy="615.3" r="0.45"/><circle cx="369.7" cy="622.4" r="0.45"/><circle cx="368.1" cy="621.7" r="0.45"/><circle cx="373.8" cy="616.7" r="0.45"/><circle cx="385.4" cy="620.8" r="0.45"/><circle cx="388.6" cy="617.0" r="0.45"/><circle cx="395.5" cy="605.7" r="0.45"/><circle cx="378.5" cy="618.7" r="0.45"/><circle cx="388.5" cy="602.5" r="0.45"/><circle cx="371.8" cy="618.0" r="0.45"/><circle cx="383.2" cy="628.4" r="0.45"/><circle cx="380.1" cy="616.7" r="0.45"/><circle cx="384.0" cy="621.3" r="0.45"/><circle cx="377.9" cy="626.9" r="0.45"/><circle cx="365.0" cy="628.6" r="0.45"/><circle cx="387.3" cy="620.4" r="0.45"/><circle cx="395.5" cy="611.2" r="0.45"/><circle cx="382.8" cy="617.8" r="0.45"/><circle cx="369.2" cy="616.4" r="0.45"/><circle cx="369.5" cy="625.0" r="0.45"/><circle cx="380.4" cy="624.2" r="0.45"/><circle cx="378.2" cy="624.6" r="0.45"/><circle cx="375.9" cy="615.6" r="0.45"/><circle cx="359.2" cy="624.6" r="0.45"/><circle cx="398.1" cy="612.2" r="0.45"/><circle cx="366.0" cy="624.7" r="0.45"/><circle cx="359.5" cy="617.3" r="0.45"/><circle cx="391.3" cy="616.0" r="0.45"/><circle cx="389.3" cy="615.7" r="0.45"/><circle cx="376.4" cy="619.3" r="0.45"/><circle cx="375.2" cy="624.4" r="0.45"/><circle cx="359.3" cy="613.3" r="0.45"/><circle cx="368.8" cy="625.5" r="0.45"/><circle cx="367.6" cy="608.6" r="0.45"/><circle cx="409.9" cy="603.1" r="0.45"/><circle cx="376.1" cy="621.6" r="0.45"/><circle cx="381.6" cy="615.8" r="0.45"/><circle cx="359.8" cy="626.2" r="0.45"/><circle cx="365.6" cy="620.7" r="0.45"/><circle cx="385.9" cy="613.3" r="0.45"/><circle cx="355.3" cy="621.5" r="0.45"/><circle cx="385.8" cy="619.3" r="0.45"/><circle cx="362.1" cy="622.9" r="0.45"/><circle cx="382.6" cy="622.2" r="0.45"/><circle cx="382.5" cy="617.3" r="0.45"/><circle cx="374.6" cy="621.4" r="0.45"/><circle cx="386.4" cy="614.4" r="0.45"/><circle cx="376.8" cy="627.6" r="0.45"/><circle cx="375.8" cy="614.3" r="0.45"/><circle cx="383.6" cy="609.4" r="0.45"/><circle cx="366.0" cy="626.4" r="0.45"/><circle cx="378.9" cy="621.8" r="0.45"/><circle cx="385.5" cy="611.5" r="0.45"/><circle cx="382.9" cy="614.3" r="0.45"/><circle cx="380.4" cy="618.5" r="0.45"/><circle cx="374.6" cy="611.9" r="0.45"/><circle cx="381.1" cy="617.0" r="0.45"/><circle cx="382.2" cy="610.9" r="0.45"/><circle cx="379.5" cy="616.3" r="0.45"/><circle cx="372.0" cy="618.2" r="0.45"/><circle cx="372.5" cy="612.2" r="0.45"/><circle cx="370.4" cy="617.7" r="0.45"/><circle cx="382.8" cy="615.6" r="0.45"/><circle cx="395.1" cy="615.9" r="0.45"/><circle cx="381.5" cy="617.9" r="0.45"/><circle cx="361.3" cy="624.9" r="0.45"/><circle cx="390.8" cy="608.5" r="0.45"/><circle cx="394.0" cy="616.3" r="0.45"/><circle cx="380.2" cy="614.9" r="0.45"/><circle cx="376.6" cy="614.1" r="0.45"/><circle cx="377.4" cy="618.3" r="0.45"/><circle cx="376.4" cy="611.8" r="0.45"/><circle cx="387.4" cy="611.4" r="0.45"/><circle cx="383.1" cy="619.4" r="0.45"/><circle cx="379.6" cy="619.6" r="0.45"/><circle cx="375.1" cy="620.5" r="0.45"/><circle cx="363.6" cy="625.7" r="0.45"/><circle cx="372.4" cy="616.8" r="0.45"/><circle cx="387.8" cy="619.7" r="0.45"/><circle cx="371.0" cy="614.5" r="0.45"/><circle cx="352.4" cy="620.3" r="0.45"/><circle cx="384.2" cy="619.3" r="0.45"/><circle cx="362.8" cy="622.8" r="0.45"/><circle cx="388.7" cy="610.5" r="0.45"/><circle cx="369.6" cy="615.6" r="0.45"/><circle cx="379.5" cy="607.3" r="0.45"/><circle cx="376.7" cy="620.8" r="0.45"/><circle cx="378.3" cy="622.9" r="0.45"/><circle cx="383.9" cy="613.3" r="0.45"/><circle cx="364.2" cy="616.4" r="0.45"/><circle cx="383.0" cy="615.6" r="0.45"/><circle cx="377.5" cy="613.1" r="0.45"/><circle cx="392.3" cy="618.1" r="0.45"/><circle cx="384.7" cy="609.9" r="0.45"/><circle cx="409.2" cy="612.8" r="0.45"/><circle cx="366.2" cy="626.6" r="0.45"/><circle cx="374.8" cy="614.6" r="0.45"/><circle cx="369.3" cy="623.2" r="0.45"/><circle cx="381.4" cy="617.9" r="0.45"/><circle cx="373.4" cy="613.8" r="0.45"/><circle cx="380.0" cy="615.8" r="0.45"/><circle cx="376.0" cy="621.7" r="0.45"/><circle cx="396.4" cy="608.9" r="0.45"/><circle cx="387.7" cy="611.0" r="0.45"/><circle cx="388.3" cy="618.1" r="0.45"/><circle cx="378.3" cy="619.0" r="0.45"/><circle cx="367.9" cy="619.1" r="0.45"/><circle cx="389.8" cy="618.3" r="0.45"/><circle cx="402.4" cy="605.0" r="0.45"/><circle cx="372.2" cy="620.2" r="0.45"/><circle cx="377.4" cy="615.3" r="0.45"/><circle cx="372.5" cy="619.0" r="0.45"/><circle cx="392.3" cy="612.9" r="0.45"/><circle cx="369.2" cy="622.2" r="0.45"/><circle cx="370.6" cy="621.7" r="0.45"/><circle cx="366.5" cy="626.6" r="0.45"/><circle cx="386.1" cy="613.0" r="0.45"/><circle cx="381.2" cy="610.7" r="0.45"/><circle cx="380.4" cy="618.5" r="0.45"/><circle cx="389.3" cy="612.1" r="0.45"/><circle cx="364.1" cy="619.2" r="0.45"/><circle cx="375.8" cy="627.3" r="0.45"/><circle cx="378.7" cy="623.8" r="0.45"/><circle cx="376.3" cy="611.0" r="0.45"/><circle cx="383.6" cy="618.9" r="0.45"/><circle cx="368.6" cy="612.4" r="0.45"/><circle cx="383.0" cy="618.8" r="0.45"/><circle cx="389.4" cy="617.5" r="0.45"/><circle cx="358.2" cy="616.6" r="0.45"/><circle cx="389.1" cy="621.6" r="0.45"/><circle cx="391.2" cy="618.2" r="0.45"/><circle cx="378.8" cy="622.7" r="0.45"/><circle cx="396.3" cy="615.1" r="0.45"/><circle cx="393.9" cy="619.4" r="0.45"/><circle cx="371.0" cy="626.2" r="0.45"/><circle cx="367.3" cy="616.3" r="0.45"/><circle cx="393.9" cy="604.3" r="0.45"/><circle cx="376.7" cy="623.1" r="0.45"/><circle cx="381.5" cy="614.7" r="0.45"/><circle cx="367.4" cy="623.8" r="0.45"/><circle cx="383.6" cy="615.7" r="0.45"/><circle cx="364.1" cy="614.5" r="0.45"/><circle cx="377.4" cy="617.8" r="0.45"/><circle cx="386.7" cy="613.5" r="0.45"/><circle cx="386.3" cy="608.9" r="0.45"/><circle cx="358.9" cy="628.7" r="0.45"/><circle cx="371.4" cy="615.4" r="0.45"/><circle cx="374.1" cy="612.6" r="0.45"/><circle cx="371.5" cy="612.5" r="0.45"/><circle cx="378.6" cy="614.6" r="0.45"/><circle cx="376.9" cy="618.2" r="0.45"/><circle cx="380.2" cy="608.1" r="0.45"/><circle cx="379.0" cy="616.2" r="0.45"/><circle cx="363.8" cy="620.8" r="0.45"/><circle cx="384.1" cy="618.5" r="0.45"/><circle cx="400.1" cy="609.4" r="0.45"/><circle cx="382.0" cy="626.8" r="0.45"/><circle cx="369.4" cy="616.1" r="0.45"/><circle cx="371.3" cy="616.8" r="0.45"/><circle cx="377.5" cy="618.8" r="0.45"/><circle cx="367.1" cy="615.2" r="0.45"/><circle cx="375.1" cy="612.3" r="0.45"/><circle cx="368.6" cy="622.6" r="0.45"/><circle cx="375.0" cy="613.5" r="0.45"/><circle cx="359.5" cy="618.3" r="0.45"/><circle cx="361.2" cy="625.8" r="0.45"/><circle cx="386.5" cy="616.8" r="0.45"/><circle cx="380.4" cy="614.5" r="0.45"/><circle cx="379.5" cy="617.7" r="0.45"/><circle cx="377.4" cy="615.5" r="0.45"/><circle cx="365.5" cy="623.2" r="0.45"/><circle cx="380.3" cy="611.3" r="0.45"/><circle cx="374.8" cy="618.7" r="0.45"/><circle cx="380.7" cy="608.1" r="0.45"/><circle cx="359.3" cy="616.3" r="0.45"/><circle cx="361.6" cy="617.2" r="0.45"/><circle cx="385.6" cy="609.4" r="0.45"/><circle cx="402.5" cy="611.8" r="0.45"/><circle cx="385.4" cy="615.3" r="0.45"/><circle cx="388.0" cy="616.8" r="0.45"/><circle cx="387.6" cy="618.0" r="0.45"/><circle cx="385.2" cy="617.7" r="0.45"/><circle cx="390.2" cy="614.2" r="0.45"/><circle cx="373.9" cy="627.5" r="0.45"/><circle cx="372.6" cy="621.6" r="0.45"/><circle cx="400.8" cy="607.5" r="0.45"/><circle cx="373.4" cy="615.7" r="0.45"/><circle cx="367.7" cy="624.4" r="0.45"/><circle cx="375.4" cy="619.3" r="0.45"/><circle cx="358.6" cy="626.3" r="0.45"/><circle cx="366.4" cy="611.3" r="0.45"/><circle cx="366.9" cy="612.8" r="0.45"/><circle cx="393.4" cy="604.3" r="0.45"/><circle cx="379.3" cy="612.0" r="0.45"/><circle cx="366.2" cy="614.7" r="0.45"/><circle cx="389.9" cy="608.4" r="0.45"/><circle cx="370.6" cy="621.4" r="0.45"/><circle cx="374.3" cy="622.6" r="0.45"/><circle cx="366.6" cy="612.8" r="0.45"/><circle cx="384.5" cy="622.1" r="0.45"/><circle cx="382.4" cy="612.1" r="0.45"/><circle cx="392.2" cy="617.7" r="0.45"/><circle cx="373.8" cy="621.4" r="0.45"/><circle cx="377.3" cy="618.7" r="0.45"/><circle cx="386.3" cy="619.9" r="0.45"/><circle cx="378.6" cy="618.0" r="0.45"/><circle cx="381.7" cy="612.5" r="0.45"/><circle cx="381.6" cy="615.7" r="0.45"/><circle cx="378.5" cy="618.2" r="0.45"/><circle cx="393.4" cy="615.8" r="0.45"/><circle cx="376.4" cy="612.2" r="0.45"/><circle cx="380.2" cy="611.5" r="0.45"/><circle cx="390.8" cy="610.3" r="0.45"/><circle cx="370.2" cy="619.5" r="0.45"/><circle cx="366.7" cy="623.9" r="0.45"/><circle cx="380.3" cy="613.6" r="0.45"/><circle cx="374.1" cy="628.7" r="0.45"/><circle cx="391.7" cy="616.6" r="0.45"/><circle cx="383.1" cy="624.2" r="0.45"/><circle cx="372.7" cy="618.1" r="0.45"/><circle cx="374.4" cy="613.4" r="0.45"/><circle cx="378.1" cy="613.2" r="0.45"/><circle cx="374.1" cy="616.5" r="0.45"/><circle cx="372.5" cy="619.3" r="0.45"/><circle cx="358.0" cy="614.6" r="0.45"/><circle cx="374.9" cy="617.6" r="0.45"/><circle cx="363.9" cy="621.6" r="0.45"/><circle cx="371.4" cy="621.0" r="0.45"/><circle cx="376.8" cy="624.1" r="0.45"/><circle cx="394.6" cy="616.3" r="0.45"/><circle cx="379.2" cy="622.0" r="0.45"/><circle cx="386.7" cy="617.7" r="0.45"/><circle cx="386.0" cy="613.5" r="0.45"/><circle cx="387.4" cy="617.8" r="0.45"/><circle cx="382.1" cy="615.8" r="0.45"/><circle cx="373.9" cy="622.2" r="0.45"/><circle cx="370.4" cy="614.7" r="0.45"/><circle cx="398.7" cy="617.8" r="0.45"/><circle cx="371.0" cy="627.3" r="0.45"/><circle cx="355.2" cy="628.0" r="0.45"/><circle cx="385.9" cy="616.8" r="0.45"/><circle cx="376.6" cy="622.4" r="0.45"/><circle cx="382.1" cy="610.8" r="0.45"/><circle cx="370.9" cy="625.3" r="0.45"/><circle cx="384.7" cy="610.0" r="0.45"/><circle cx="361.5" cy="625.3" r="0.45"/><circle cx="367.3" cy="617.4" r="0.45"/><circle cx="372.2" cy="620.9" r="0.45"/><circle cx="355.9" cy="628.8" r="0.45"/><circle cx="374.9" cy="623.7" r="0.45"/><circle cx="363.5" cy="617.9" r="0.45"/><circle cx="384.8" cy="621.0" r="0.45"/><circle cx="376.7" cy="616.7" r="0.45"/><circle cx="394.7" cy="618.5" r="0.45"/><circle cx="380.9" cy="615.8" r="0.45"/><circle cx="393.2" cy="616.9" r="0.45"/><circle cx="375.9" cy="626.2" r="0.45"/><circle cx="390.8" cy="615.2" r="0.45"/><circle cx="384.3" cy="620.1" r="0.45"/><circle cx="370.8" cy="613.9" r="0.45"/><circle cx="389.1" cy="606.2" r="0.45"/><circle cx="358.5" cy="616.6" r="0.45"/><circle cx="385.0" cy="621.2" r="0.45"/><circle cx="372.3" cy="626.5" r="0.45"/><circle cx="398.6" cy="618.8" r="0.45"/><circle cx="365.1" cy="628.7" r="0.45"/><circle cx="402.8" cy="605.7" r="0.45"/><circle cx="383.8" cy="616.0" r="0.45"/><circle cx="374.7" cy="610.1" r="0.45"/><circle cx="368.5" cy="621.9" r="0.45"/><circle cx="384.6" cy="620.8" r="0.45"/><circle cx="387.9" cy="612.5" r="0.45"/><circle cx="379.1" cy="625.1" r="0.45"/><circle cx="363.1" cy="625.3" r="0.45"/><circle cx="368.4" cy="622.0" r="0.45"/><circle cx="399.7" cy="613.4" r="0.45"/><circle cx="371.7" cy="616.4" r="0.45"/><circle cx="361.7" cy="622.8" r="0.45"/><circle cx="378.1" cy="613.3" r="0.45"/><circle cx="370.6" cy="626.5" r="0.45"/><circle cx="395.1" cy="623.4" r="0.45"/><circle cx="391.5" cy="615.5" r="0.45"/><circle cx="377.2" cy="624.7" r="0.45"/><circle cx="386.0" cy="616.5" r="0.45"/><circle cx="398.3" cy="611.0" r="0.45"/><circle cx="381.5" cy="622.7" r="0.45"/><circle cx="383.6" cy="616.7" r="0.45"/><circle cx="393.9" cy="627.6" r="0.45"/><circle cx="375.1" cy="622.5" r="0.45"/><circle cx="383.1" cy="617.3" r="0.45"/><circle cx="397.0" cy="611.8" r="0.45"/><circle cx="396.0" cy="607.4" r="0.45"/><circle cx="378.2" cy="613.7" r="0.45"/><circle cx="383.2" cy="620.0" r="0.45"/><circle cx="384.7" cy="617.2" r="0.45"/><circle cx="373.2" cy="613.1" r="0.45"/><circle cx="387.8" cy="615.2" r="0.45"/><circle cx="388.8" cy="606.0" r="0.45"/><circle cx="372.6" cy="610.8" r="0.45"/><circle cx="389.5" cy="610.7" r="0.45"/><circle cx="367.2" cy="625.9" r="0.45"/><circle cx="377.2" cy="619.5" r="0.45"/><circle cx="378.4" cy="623.7" r="0.45"/><circle cx="381.5" cy="618.3" r="0.45"/><circle cx="379.2" cy="622.7" r="0.45"/><circle cx="390.3" cy="612.4" r="0.45"/><circle cx="385.6" cy="607.8" r="0.45"/><circle cx="367.9" cy="618.3" r="0.45"/><circle cx="370.2" cy="623.2" r="0.45"/><circle cx="359.7" cy="615.5" r="0.45"/><circle cx="378.8" cy="613.2" r="0.45"/><circle cx="378.6" cy="618.2" r="0.45"/><circle cx="369.5" cy="618.5" r="0.45"/><circle cx="387.7" cy="615.0" r="0.45"/><circle cx="379.6" cy="621.0" r="0.45"/><circle cx="367.7" cy="614.8" r="0.45"/><circle cx="376.1" cy="627.1" r="0.45"/><circle cx="388.1" cy="626.6" r="0.45"/><circle cx="390.6" cy="618.9" r="0.45"/><circle cx="369.7" cy="611.9" r="0.45"/><circle cx="353.6" cy="626.2" r="0.45"/><circle cx="363.2" cy="616.3" r="0.45"/><circle cx="384.7" cy="617.5" r="0.45"/><circle cx="363.2" cy="623.8" r="0.45"/><circle cx="395.2" cy="617.6" r="0.45"/><circle cx="371.2" cy="625.0" r="0.45"/><circle cx="354.5" cy="623.6" r="0.45"/><circle cx="374.4" cy="625.5" r="0.45"/><circle cx="362.4" cy="617.7" r="0.45"/><circle cx="375.0" cy="622.8" r="0.45"/><circle cx="362.0" cy="624.1" r="0.45"/><circle cx="372.9" cy="617.1" r="0.45"/><circle cx="363.7" cy="624.5" r="0.45"/><circle cx="380.1" cy="619.6" r="0.45"/><circle cx="379.6" cy="616.9" r="0.45"/><circle cx="367.5" cy="621.1" r="0.45"/><circle cx="387.0" cy="615.9" r="0.45"/><circle cx="385.2" cy="620.3" r="0.45"/><circle cx="381.3" cy="615.7" r="0.45"/><circle cx="368.4" cy="627.5" r="0.45"/><circle cx="375.5" cy="617.8" r="0.45"/><circle cx="380.0" cy="621.6" r="0.45"/><circle cx="386.7" cy="611.6" r="0.45"/><circle cx="378.6" cy="623.9" r="0.45"/><circle cx="370.8" cy="620.3" r="0.45"/><circle cx="365.9" cy="614.0" r="0.45"/><circle cx="363.1" cy="623.4" r="0.45"/><circle cx="377.6" cy="604.5" r="0.45"/><circle cx="374.5" cy="617.9" r="0.45"/><circle cx="359.8" cy="623.1" r="0.45"/><circle cx="370.7" cy="627.3" r="0.45"/><circle cx="367.9" cy="626.5" r="0.45"/><circle cx="362.6" cy="617.2" r="0.45"/><circle cx="393.2" cy="609.4" r="0.45"/><circle cx="370.5" cy="611.9" r="0.45"/><circle cx="381.6" cy="624.2" r="0.45"/><circle cx="374.0" cy="617.7" r="0.45"/><circle cx="376.6" cy="614.4" r="0.45"/><circle cx="363.0" cy="622.7" r="0.45"/><circle cx="371.4" cy="610.7" r="0.45"/><circle cx="363.7" cy="624.7" r="0.45"/><circle cx="388.0" cy="614.5" r="0.45"/><circle cx="367.1" cy="607.9" r="0.45"/><circle cx="396.7" cy="616.9" r="0.45"/><circle cx="367.3" cy="615.6" r="0.45"/><circle cx="380.4" cy="606.7" r="0.45"/><circle cx="387.2" cy="620.0" r="0.45"/><circle cx="362.1" cy="617.1" r="0.45"/><circle cx="397.6" cy="609.3" r="0.45"/><circle cx="379.1" cy="615.8" r="0.45"/><circle cx="395.6" cy="609.4" r="0.45"/><circle cx="369.5" cy="628.5" r="0.45"/><circle cx="359.7" cy="621.9" r="0.45"/><circle cx="359.6" cy="615.2" r="0.45"/><circle cx="366.5" cy="607.3" r="0.45"/><circle cx="363.6" cy="622.5" r="0.45"/><circle cx="367.4" cy="615.2" r="0.45"/><circle cx="407.5" cy="613.0" r="0.45"/><circle cx="373.2" cy="625.1" r="0.45"/><circle cx="385.3" cy="616.6" r="0.45"/><circle cx="385.7" cy="613.6" r="0.45"/><circle cx="373.6" cy="628.7" r="0.45"/><circle cx="380.7" cy="625.1" r="0.45"/><circle cx="353.0" cy="620.7" r="0.45"/><circle cx="367.1" cy="621.9" r="0.45"/><circle cx="378.3" cy="622.9" r="0.45"/><circle cx="383.5" cy="616.2" r="0.45"/><circle cx="384.7" cy="619.6" r="0.45"/><circle cx="377.2" cy="605.2" r="0.45"/><circle cx="372.9" cy="622.7" r="0.45"/><circle cx="375.0" cy="626.1" r="0.45"/><circle cx="371.7" cy="620.1" r="0.45"/><circle cx="368.0" cy="620.3" r="0.45"/><circle cx="392.5" cy="620.9" r="0.45"/><circle cx="388.7" cy="618.2" r="0.45"/><circle cx="377.1" cy="611.4" r="0.45"/><circle cx="383.9" cy="612.7" r="0.45"/><circle cx="380.7" cy="616.5" r="0.45"/><circle cx="386.5" cy="611.8" r="0.45"/><circle cx="386.8" cy="615.2" r="0.45"/><circle cx="396.3" cy="611.7" r="0.45"/><circle cx="373.0" cy="609.5" r="0.45"/><circle cx="387.8" cy="615.0" r="0.45"/><circle cx="352.6" cy="628.2" r="0.45"/><circle cx="382.7" cy="614.7" r="0.45"/><circle cx="392.5" cy="612.9" r="0.45"/><circle cx="376.4" cy="620.5" r="0.45"/><circle cx="365.3" cy="624.6" r="0.45"/><circle cx="368.0" cy="622.3" r="0.45"/><circle cx="389.8" cy="612.3" r="0.45"/><circle cx="372.6" cy="628.3" r="0.45"/><circle cx="379.5" cy="623.1" r="0.45"/><circle cx="385.2" cy="618.1" r="0.45"/><circle cx="394.1" cy="612.8" r="0.45"/><circle cx="359.5" cy="622.3" r="0.45"/><circle cx="369.1" cy="614.8" r="0.45"/><circle cx="373.6" cy="621.5" r="0.45"/><circle cx="383.6" cy="616.6" r="0.45"/><circle cx="376.2" cy="618.8" r="0.45"/><circle cx="371.3" cy="615.5" r="0.45"/><circle cx="379.9" cy="622.0" r="0.45"/><circle cx="369.4" cy="620.7" r="0.45"/><circle cx="384.3" cy="610.9" r="0.45"/><circle cx="382.4" cy="617.5" r="0.45"/><circle cx="388.4" cy="610.1" r="0.45"/><circle cx="375.0" cy="627.1" r="0.45"/><circle cx="402.4" cy="613.6" r="0.45"/><circle cx="392.9" cy="610.2" r="0.45"/><circle cx="390.0" cy="616.0" r="0.45"/><circle cx="384.1" cy="609.8" r="0.45"/><circle cx="380.8" cy="620.8" r="0.45"/><circle cx="391.6" cy="616.3" r="0.45"/><circle cx="384.4" cy="621.2" r="0.45"/><circle cx="395.9" cy="605.3" r="0.45"/><circle cx="356.7" cy="624.8" r="0.45"/><circle cx="399.6" cy="621.1" r="0.45"/><circle cx="385.3" cy="610.9" r="0.45"/><circle cx="384.2" cy="612.9" r="0.45"/><circle cx="387.8" cy="614.3" r="0.45"/><circle cx="396.4" cy="607.5" r="0.45"/><circle cx="394.2" cy="609.4" r="0.45"/><circle cx="386.7" cy="617.1" r="0.45"/><circle cx="360.1" cy="613.4" r="0.45"/><circle cx="375.7" cy="617.2" r="0.45"/><circle cx="372.3" cy="623.7" r="0.45"/><circle cx="382.5" cy="619.9" r="0.45"/><circle cx="365.9" cy="621.0" r="0.45"/><circle cx="377.7" cy="623.5" r="0.45"/><circle cx="392.1" cy="611.2" r="0.45"/><circle cx="374.3" cy="606.3" r="0.45"/><circle cx="402.3" cy="612.6" r="0.45"/><circle cx="384.6" cy="617.9" r="0.45"/><circle cx="373.6" cy="610.1" r="0.45"/><circle cx="366.2" cy="617.4" r="0.45"/><circle cx="373.7" cy="613.5" r="0.45"/><circle cx="381.4" cy="620.4" r="0.45"/><circle cx="380.3" cy="618.1" r="0.45"/><circle cx="404.3" cy="605.8" r="0.45"/><circle cx="371.6" cy="624.4" r="0.45"/><circle cx="376.4" cy="627.7" r="0.45"/><circle cx="370.2" cy="620.4" r="0.45"/><circle cx="395.7" cy="604.1" r="0.45"/><circle cx="390.7" cy="615.7" r="0.45"/><circle cx="382.7" cy="624.0" r="0.45"/><circle cx="372.1" cy="623.2" r="0.45"/><circle cx="374.2" cy="626.0" r="0.45"/><circle cx="363.6" cy="622.1" r="0.45"/><circle cx="370.2" cy="614.6" r="0.45"/><circle cx="389.1" cy="612.5" r="0.45"/><circle cx="381.3" cy="604.7" r="0.45"/><circle cx="364.6" cy="616.9" r="0.45"/><circle cx="379.8" cy="609.0" r="0.45"/><circle cx="383.3" cy="621.5" r="0.45"/><circle cx="379.1" cy="618.4" r="0.45"/><circle cx="372.1" cy="615.2" r="0.45"/><circle cx="377.8" cy="619.2" r="0.45"/><circle cx="395.5" cy="613.6" r="0.45"/><circle cx="370.7" cy="624.6" r="0.45"/><circle cx="362.8" cy="611.9" r="0.45"/><circle cx="373.9" cy="615.4" r="0.45"/><circle cx="385.0" cy="615.5" r="0.45"/><circle cx="361.4" cy="619.1" r="0.45"/><circle cx="361.5" cy="617.4" r="0.45"/><circle cx="394.3" cy="620.7" r="0.45"/><circle cx="375.7" cy="625.9" r="0.45"/><circle cx="375.3" cy="613.9" r="0.45"/><circle cx="377.8" cy="622.7" r="0.45"/><circle cx="394.5" cy="611.7" r="0.45"/><circle cx="362.7" cy="623.8" r="0.45"/><circle cx="371.3" cy="616.4" r="0.45"/><circle cx="382.9" cy="617.5" r="0.45"/><circle cx="362.4" cy="619.0" r="0.45"/><circle cx="393.7" cy="612.0" r="0.45"/><circle cx="395.1" cy="599.8" r="0.45"/><circle cx="365.0" cy="621.9" r="0.45"/><circle cx="366.4" cy="622.3" r="0.45"/><circle cx="376.5" cy="611.2" r="0.45"/><circle cx="401.5" cy="620.1" r="0.45"/><circle cx="357.5" cy="622.6" r="0.45"/><circle cx="361.7" cy="620.7" r="0.45"/><circle cx="371.9" cy="618.5" r="0.45"/><circle cx="392.5" cy="619.9" r="0.45"/><circle cx="374.5" cy="621.2" r="0.45"/><circle cx="383.1" cy="608.0" r="0.45"/><circle cx="377.0" cy="612.8" r="0.45"/><circle cx="393.0" cy="620.0" r="0.45"/><circle cx="383.5" cy="624.0" r="0.45"/><circle cx="373.2" cy="615.2" r="0.45"/><circle cx="393.5" cy="613.2" r="0.45"/><circle cx="379.5" cy="610.4" r="0.45"/><circle cx="386.0" cy="615.0" r="0.45"/><circle cx="374.4" cy="613.2" r="0.45"/><circle cx="368.0" cy="618.7" r="0.45"/><circle cx="381.3" cy="623.7" r="0.45"/><circle cx="355.0" cy="617.4" r="0.45"/><circle cx="365.2" cy="617.9" r="0.45"/><circle cx="366.0" cy="615.3" r="0.45"/><circle cx="370.3" cy="622.6" r="0.45"/><circle cx="371.3" cy="615.0" r="0.45"/><circle cx="384.8" cy="616.5" r="0.45"/><circle cx="367.8" cy="627.4" r="0.45"/><circle cx="368.3" cy="615.6" r="0.45"/><circle cx="380.6" cy="612.6" r="0.45"/><circle cx="367.7" cy="628.3" r="0.45"/><circle cx="370.6" cy="614.9" r="0.45"/><circle cx="379.4" cy="616.6" r="0.45"/><circle cx="353.8" cy="622.8" r="0.45"/><circle cx="382.5" cy="614.0" r="0.45"/><circle cx="380.9" cy="610.7" r="0.45"/><circle cx="386.8" cy="613.3" r="0.45"/><circle cx="366.9" cy="614.6" r="0.45"/><circle cx="388.3" cy="614.4" r="0.45"/><circle cx="373.3" cy="621.1" r="0.45"/><circle cx="375.1" cy="616.8" r="0.45"/><circle cx="380.7" cy="614.5" r="0.45"/><circle cx="391.6" cy="626.1" r="0.45"/><circle cx="357.5" cy="624.2" r="0.45"/><circle cx="373.4" cy="622.6" r="0.45"/><circle cx="389.8" cy="625.3" r="0.45"/><circle cx="389.3" cy="608.9" r="0.45"/><circle cx="378.0" cy="626.6" r="0.45"/><circle cx="389.6" cy="610.2" r="0.45"/><circle cx="382.6" cy="623.8" r="0.45"/><circle cx="392.3" cy="611.5" r="0.45"/><circle cx="383.1" cy="619.2" r="0.45"/><circle cx="374.6" cy="617.6" r="0.45"/><circle cx="389.1" cy="614.5" r="0.45"/><circle cx="378.6" cy="624.0" r="0.45"/><circle cx="392.1" cy="616.6" r="0.45"/><circle cx="371.6" cy="615.6" r="0.45"/><circle cx="363.8" cy="618.9" r="0.45"/><circle cx="379.4" cy="610.5" r="0.45"/><circle cx="366.1" cy="616.2" r="0.45"/><circle cx="379.3" cy="615.3" r="0.45"/><circle cx="397.6" cy="619.0" r="0.45"/><circle cx="378.1" cy="617.2" r="0.45"/><circle cx="389.1" cy="609.9" r="0.45"/><circle cx="387.1" cy="608.4" r="0.45"/><circle cx="373.8" cy="621.0" r="0.45"/><circle cx="376.9" cy="609.7" r="0.45"/><circle cx="368.4" cy="621.6" r="0.45"/><circle cx="369.7" cy="621.2" r="0.45"/><circle cx="410.1" cy="606.7" r="0.45"/><circle cx="381.9" cy="619.9" r="0.45"/><circle cx="374.5" cy="613.6" r="0.45"/><circle cx="360.0" cy="624.7" r="0.45"/><circle cx="377.2" cy="625.3" r="0.45"/><circle cx="380.9" cy="620.6" r="0.45"/><circle cx="364.9" cy="620.2" r="0.45"/><circle cx="382.2" cy="614.7" r="0.45"/><circle cx="385.0" cy="613.6" r="0.45"/><circle cx="375.0" cy="620.9" r="0.45"/><circle cx="395.4" cy="611.3" r="0.45"/><circle cx="384.1" cy="621.3" r="0.45"/><circle cx="383.0" cy="619.9" r="0.45"/><circle cx="374.6" cy="621.7" r="0.45"/><circle cx="369.6" cy="614.4" r="0.45"/><circle cx="376.3" cy="622.4" r="0.45"/><circle cx="381.8" cy="618.8" r="0.45"/><circle cx="373.4" cy="620.1" r="0.45"/><circle cx="368.2" cy="620.2" r="0.45"/><circle cx="377.6" cy="613.7" r="0.45"/><circle cx="392.4" cy="603.1" r="0.45"/><circle cx="384.8" cy="614.1" r="0.45"/><circle cx="388.9" cy="611.9" r="0.45"/><circle cx="386.4" cy="611.3" r="0.45"/><circle cx="368.3" cy="619.8" r="0.45"/><circle cx="376.6" cy="613.1" r="0.45"/><circle cx="389.9" cy="608.5" r="0.45"/><circle cx="375.0" cy="619.4" r="0.45"/><circle cx="377.6" cy="623.6" r="0.45"/><circle cx="368.1" cy="626.1" r="0.45"/><circle cx="391.0" cy="614.1" r="0.45"/><circle cx="398.2" cy="603.3" r="0.45"/><circle cx="368.5" cy="613.1" r="0.45"/><circle cx="379.2" cy="611.6" r="0.45"/><circle cx="361.5" cy="620.5" r="0.45"/><circle cx="373.4" cy="626.8" r="0.45"/><circle cx="380.8" cy="616.5" r="0.45"/><circle cx="387.9" cy="617.0" r="0.45"/><circle cx="382.9" cy="610.2" r="0.45"/><circle cx="378.0" cy="620.4" r="0.45"/></g>
<ellipse cx="376.50" cy="618.60" rx="11.8" ry="5.0" fill="#e8262b" fill-opacity="1.0" transform="rotate(-16 376.50 618.60)" filter="url(#fb)"/>
<ellipse cx="376.00" cy="619.00" rx="7.5" ry="3.4" fill="#e8262b" fill-opacity="1.0" transform="rotate(-15 376.00 619.00)" filter="url(#fb2)"/>
<line x1="351.40" y1="605.30" x2="395.50" y2="605.30" stroke="#8a8a8a" stroke-width="0.7"/>
<line x1="395.50" y1="597.20" x2="413.30" y2="597.20" stroke="#8a8a8a" stroke-width="0.7"/>
<line x1="395.50" y1="579.40" x2="395.50" y2="630.20" stroke="#8a8a8a" stroke-width="0.7"/>
<rect x="351.40" y="579.40" width="61.90" height="50.80" fill="none" stroke="#262626" stroke-width="1.25"/>
<text x="396.60" y="591.80" font-size="6.3" fill="#333" style="stroke-width:0.1px">Q2</text>
<text x="384.60" y="599.20" font-size="6.3" fill="#333" style="stroke-width:0.1px">Q1</text>
<text x="396.60" y="607.30" font-size="6.3" fill="#333" style="stroke-width:0.1px">Q4</text>
<text x="384.20" y="615.40" font-size="6.3" fill="#333" style="stroke-width:0.1px">Q3</text>
<g fill="#e8262b" fill-opacity="0.15"><circle cx="429.6" cy="582.2" r="0.45"/><circle cx="425.1" cy="596.9" r="0.45"/><circle cx="427.2" cy="583.2" r="0.45"/><circle cx="445.1" cy="582.3" r="0.45"/><circle cx="454.0" cy="594.7" r="0.45"/><circle cx="455.9" cy="596.5" r="0.45"/><circle cx="449.7" cy="585.6" r="0.45"/><circle cx="436.8" cy="588.2" r="0.45"/><circle cx="435.5" cy="600.9" r="0.45"/><circle cx="437.4" cy="598.2" r="0.45"/><circle cx="445.5" cy="581.2" r="0.45"/><circle cx="427.9" cy="593.0" r="0.45"/></g>
<g fill="#e8262b" fill-opacity="0.18"><circle cx="447.8" cy="592.5" r="0.45"/><circle cx="446.0" cy="600.9" r="0.45"/><circle cx="435.9" cy="597.3" r="0.45"/><circle cx="458.2" cy="592.9" r="0.45"/><circle cx="444.4" cy="600.5" r="0.45"/><circle cx="440.1" cy="595.9" r="0.45"/><circle cx="443.1" cy="597.1" r="0.45"/><circle cx="434.9" cy="587.6" r="0.45"/><circle cx="456.8" cy="592.0" r="0.45"/><circle cx="436.4" cy="600.2" r="0.45"/><circle cx="440.1" cy="594.9" r="0.45"/><circle cx="434.6" cy="594.5" r="0.45"/><circle cx="449.5" cy="601.1" r="0.45"/><circle cx="453.4" cy="589.9" r="0.45"/><circle cx="442.5" cy="599.2" r="0.45"/><circle cx="437.3" cy="591.4" r="0.45"/><circle cx="442.7" cy="601.4" r="0.45"/><circle cx="434.3" cy="599.9" r="0.45"/><circle cx="453.0" cy="592.7" r="0.45"/><circle cx="433.5" cy="594.5" r="0.45"/><circle cx="442.3" cy="592.8" r="0.45"/><circle cx="446.4" cy="607.3" r="0.45"/><circle cx="455.2" cy="602.0" r="0.45"/><circle cx="445.3" cy="601.8" r="0.45"/><circle cx="439.0" cy="597.1" r="0.45"/><circle cx="457.2" cy="607.2" r="0.45"/><circle cx="451.4" cy="596.7" r="0.45"/><circle cx="445.3" cy="591.2" r="0.45"/><circle cx="451.9" cy="604.1" r="0.45"/><circle cx="452.8" cy="595.6" r="0.45"/><circle cx="443.3" cy="591.2" r="0.45"/><circle cx="459.5" cy="595.9" r="0.45"/><circle cx="457.6" cy="591.5" r="0.45"/><circle cx="453.3" cy="600.0" r="0.45"/><circle cx="444.4" cy="593.2" r="0.45"/><circle cx="472.1" cy="604.1" r="0.45"/><circle cx="458.9" cy="592.7" r="0.45"/><circle cx="460.3" cy="599.0" r="0.45"/><circle cx="463.4" cy="595.4" r="0.45"/><circle cx="443.7" cy="590.7" r="0.45"/><circle cx="430.6" cy="587.6" r="0.45"/><circle cx="442.1" cy="596.0" r="0.45"/><circle cx="461.1" cy="605.8" r="0.45"/><circle cx="440.1" cy="584.7" r="0.45"/><circle cx="448.8" cy="597.9" r="0.45"/><circle cx="441.7" cy="591.2" r="0.45"/><circle cx="438.9" cy="596.8" r="0.45"/><circle cx="447.4" cy="587.3" r="0.45"/><circle cx="444.4" cy="590.8" r="0.45"/><circle cx="436.0" cy="596.3" r="0.45"/><circle cx="437.3" cy="597.0" r="0.45"/><circle cx="420.9" cy="598.5" r="0.45"/><circle cx="447.7" cy="593.4" r="0.45"/><circle cx="437.1" cy="587.9" r="0.45"/><circle cx="434.2" cy="604.7" r="0.45"/><circle cx="449.6" cy="595.3" r="0.45"/><circle cx="439.1" cy="592.5" r="0.45"/><circle cx="433.7" cy="597.3" r="0.45"/><circle cx="455.0" cy="590.5" r="0.45"/><circle cx="451.8" cy="593.6" r="0.45"/><circle cx="448.9" cy="591.2" r="0.45"/><circle cx="453.4" cy="604.2" r="0.45"/><circle cx="439.7" cy="594.3" r="0.45"/><circle cx="455.1" cy="592.4" r="0.45"/><circle cx="432.6" cy="583.1" r="0.45"/><circle cx="440.2" cy="601.5" r="0.45"/><circle cx="438.1" cy="594.8" r="0.45"/><circle cx="420.6" cy="593.2" r="0.45"/><circle cx="443.4" cy="592.3" r="0.45"/><circle cx="440.4" cy="589.7" r="0.45"/><circle cx="435.9" cy="601.5" r="0.45"/><circle cx="433.6" cy="602.1" r="0.45"/><circle cx="431.8" cy="602.0" r="0.45"/><circle cx="444.2" cy="598.9" r="0.45"/><circle cx="443.5" cy="598.3" r="0.45"/><circle cx="469.3" cy="584.3" r="0.45"/><circle cx="439.6" cy="597.9" r="0.45"/><circle cx="460.4" cy="589.4" r="0.45"/><circle cx="446.3" cy="600.3" r="0.45"/><circle cx="440.7" cy="596.0" r="0.45"/></g>
<g fill="#e8262b" fill-opacity="0.3"><circle cx="469.0" cy="609.8" r="0.45"/><circle cx="469.6" cy="604.4" r="0.45"/><circle cx="465.3" cy="596.3" r="0.45"/><circle cx="476.8" cy="589.4" r="0.45"/><circle cx="466.5" cy="594.7" r="0.45"/><circle cx="468.2" cy="592.8" r="0.45"/><circle cx="470.9" cy="594.1" r="0.45"/><circle cx="465.6" cy="587.0" r="0.45"/><circle cx="466.0" cy="586.6" r="0.45"/><circle cx="466.7" cy="605.3" r="0.45"/><circle cx="461.2" cy="617.7" r="0.45"/><circle cx="471.2" cy="602.7" r="0.45"/><circle cx="466.4" cy="610.0" r="0.45"/><circle cx="469.7" cy="597.0" r="0.45"/><circle cx="468.6" cy="602.0" r="0.45"/><circle cx="464.6" cy="613.2" r="0.45"/><circle cx="462.5" cy="604.8" r="0.45"/><circle cx="464.2" cy="600.3" r="0.45"/><circle cx="467.0" cy="602.4" r="0.45"/><circle cx="474.2" cy="596.7" r="0.45"/><circle cx="470.2" cy="604.5" r="0.45"/><circle cx="469.0" cy="590.5" r="0.45"/><circle cx="467.9" cy="586.0" r="0.45"/><circle cx="472.5" cy="614.3" r="0.45"/><circle cx="468.7" cy="605.7" r="0.45"/><circle cx="467.9" cy="584.5" r="0.45"/><circle cx="466.7" cy="609.4" r="0.45"/><circle cx="467.7" cy="593.5" r="0.45"/><circle cx="456.3" cy="610.5" r="0.45"/><circle cx="474.6" cy="616.7" r="0.45"/><circle cx="468.1" cy="607.0" r="0.45"/><circle cx="465.7" cy="603.1" r="0.45"/><circle cx="472.6" cy="595.7" r="0.45"/><circle cx="470.5" cy="592.2" r="0.45"/><circle cx="458.0" cy="601.2" r="0.45"/><circle cx="470.0" cy="605.6" r="0.45"/><circle cx="471.3" cy="591.6" r="0.45"/><circle cx="468.8" cy="588.8" r="0.45"/><circle cx="468.0" cy="589.9" r="0.45"/><circle cx="468.7" cy="608.8" r="0.45"/><circle cx="472.4" cy="596.0" r="0.45"/><circle cx="473.6" cy="603.6" r="0.45"/><circle cx="473.6" cy="600.5" r="0.45"/><circle cx="463.6" cy="601.5" r="0.45"/><circle cx="464.2" cy="591.9" r="0.45"/><circle cx="459.4" cy="602.4" r="0.45"/><circle cx="473.3" cy="590.7" r="0.45"/><circle cx="467.0" cy="586.8" r="0.45"/><circle cx="469.5" cy="610.9" r="0.45"/><circle cx="467.7" cy="607.1" r="0.45"/><circle cx="470.8" cy="599.0" r="0.45"/><circle cx="471.0" cy="585.3" r="0.45"/><circle cx="467.3" cy="602.1" r="0.45"/><circle cx="470.5" cy="612.6" r="0.45"/><circle cx="467.1" cy="592.8" r="0.45"/><circle cx="466.1" cy="597.9" r="0.45"/><circle cx="464.2" cy="587.9" r="0.45"/><circle cx="469.0" cy="589.7" r="0.45"/><circle cx="467.8" cy="600.7" r="0.45"/><circle cx="467.6" cy="610.1" r="0.45"/><circle cx="469.4" cy="602.5" r="0.45"/><circle cx="473.9" cy="597.4" r="0.45"/><circle cx="462.3" cy="595.7" r="0.45"/><circle cx="471.9" cy="591.6" r="0.45"/><circle cx="464.4" cy="605.0" r="0.45"/><circle cx="477.8" cy="596.9" r="0.45"/><circle cx="472.3" cy="614.6" r="0.45"/><circle cx="465.7" cy="594.5" r="0.45"/><circle cx="466.9" cy="594.2" r="0.45"/><circle cx="467.9" cy="589.5" r="0.45"/><circle cx="466.8" cy="599.4" r="0.45"/><circle cx="476.2" cy="588.2" r="0.45"/><circle cx="468.2" cy="593.5" r="0.45"/><circle cx="467.7" cy="596.6" r="0.45"/><circle cx="464.5" cy="598.6" r="0.45"/><circle cx="464.7" cy="602.3" r="0.45"/><circle cx="471.9" cy="605.1" r="0.45"/><circle cx="468.2" cy="606.6" r="0.45"/><circle cx="467.0" cy="605.0" r="0.45"/><circle cx="476.0" cy="607.5" r="0.45"/><circle cx="466.2" cy="603.2" r="0.45"/><circle cx="463.7" cy="605.6" r="0.45"/><circle cx="472.7" cy="604.9" r="0.45"/><circle cx="471.4" cy="601.3" r="0.45"/><circle cx="466.1" cy="584.2" r="0.45"/><circle cx="469.8" cy="609.3" r="0.45"/><circle cx="471.3" cy="598.5" r="0.45"/><circle cx="470.2" cy="605.6" r="0.45"/><circle cx="470.4" cy="594.8" r="0.45"/><circle cx="463.2" cy="582.7" r="0.45"/><circle cx="466.1" cy="596.9" r="0.45"/><circle cx="464.5" cy="602.0" r="0.45"/><circle cx="462.5" cy="602.6" r="0.45"/><circle cx="474.0" cy="598.9" r="0.45"/><circle cx="460.7" cy="600.1" r="0.45"/><circle cx="465.4" cy="600.7" r="0.45"/><circle cx="466.5" cy="594.7" r="0.45"/><circle cx="468.9" cy="609.7" r="0.45"/><circle cx="467.0" cy="601.2" r="0.45"/><circle cx="461.5" cy="618.6" r="0.45"/><circle cx="464.2" cy="600.5" r="0.45"/><circle cx="462.0" cy="604.7" r="0.45"/><circle cx="463.9" cy="600.8" r="0.45"/><circle cx="465.2" cy="597.5" r="0.45"/><circle cx="466.3" cy="592.4" r="0.45"/><circle cx="467.0" cy="593.0" r="0.45"/><circle cx="466.3" cy="596.5" r="0.45"/><circle cx="463.4" cy="602.0" r="0.45"/><circle cx="470.1" cy="601.4" r="0.45"/><circle cx="461.4" cy="604.8" r="0.45"/><circle cx="470.9" cy="584.9" r="0.45"/><circle cx="468.8" cy="605.9" r="0.45"/><circle cx="472.6" cy="613.2" r="0.45"/><circle cx="469.3" cy="608.3" r="0.45"/><circle cx="473.6" cy="616.1" r="0.45"/><circle cx="468.7" cy="607.4" r="0.45"/><circle cx="462.8" cy="593.2" r="0.45"/><circle cx="473.1" cy="603.8" r="0.45"/><circle cx="463.0" cy="598.9" r="0.45"/><circle cx="460.9" cy="599.4" r="0.45"/><circle cx="471.5" cy="584.9" r="0.45"/><circle cx="467.4" cy="603.3" r="0.45"/><circle cx="467.1" cy="601.4" r="0.45"/><circle cx="465.0" cy="593.2" r="0.45"/><circle cx="467.8" cy="584.0" r="0.45"/><circle cx="467.3" cy="587.2" r="0.45"/><circle cx="464.8" cy="613.6" r="0.45"/><circle cx="466.2" cy="596.1" r="0.45"/><circle cx="471.1" cy="593.5" r="0.45"/><circle cx="465.4" cy="599.8" r="0.45"/><circle cx="470.2" cy="592.1" r="0.45"/><circle cx="467.6" cy="583.7" r="0.45"/><circle cx="462.7" cy="599.6" r="0.45"/><circle cx="465.1" cy="602.5" r="0.45"/><circle cx="470.7" cy="581.7" r="0.45"/><circle cx="469.0" cy="601.5" r="0.45"/><circle cx="466.4" cy="601.7" r="0.45"/><circle cx="464.6" cy="604.1" r="0.45"/><circle cx="468.4" cy="616.5" r="0.45"/><circle cx="460.1" cy="591.0" r="0.45"/><circle cx="469.3" cy="609.3" r="0.45"/><circle cx="462.9" cy="590.6" r="0.45"/><circle cx="465.7" cy="603.5" r="0.45"/><circle cx="464.1" cy="608.7" r="0.45"/><circle cx="473.7" cy="598.3" r="0.45"/><circle cx="472.2" cy="586.9" r="0.45"/><circle cx="463.7" cy="605.6" r="0.45"/><circle cx="471.2" cy="588.5" r="0.45"/><circle cx="465.9" cy="604.4" r="0.45"/><circle cx="467.6" cy="593.6" r="0.45"/><circle cx="467.7" cy="607.8" r="0.45"/><circle cx="465.8" cy="589.0" r="0.45"/><circle cx="472.9" cy="596.4" r="0.45"/><circle cx="459.7" cy="602.9" r="0.45"/><circle cx="471.4" cy="610.2" r="0.45"/><circle cx="471.6" cy="600.4" r="0.45"/></g>
<g fill="#e8262b" fill-opacity="0.33"><circle cx="469.8" cy="589.3" r="0.45"/><circle cx="475.9" cy="588.4" r="0.45"/><circle cx="461.2" cy="593.3" r="0.45"/><circle cx="469.0" cy="585.1" r="0.45"/><circle cx="467.2" cy="591.6" r="0.45"/><circle cx="468.4" cy="588.2" r="0.45"/><circle cx="468.4" cy="592.9" r="0.45"/><circle cx="463.1" cy="589.0" r="0.45"/><circle cx="470.7" cy="586.2" r="0.45"/><circle cx="475.1" cy="597.8" r="0.45"/><circle cx="467.2" cy="595.0" r="0.45"/><circle cx="465.2" cy="600.5" r="0.45"/><circle cx="474.0" cy="582.8" r="0.45"/><circle cx="472.2" cy="590.3" r="0.45"/><circle cx="467.6" cy="593.4" r="0.45"/><circle cx="472.8" cy="589.2" r="0.45"/><circle cx="470.6" cy="580.3" r="0.45"/><circle cx="465.8" cy="587.4" r="0.45"/><circle cx="467.4" cy="579.4" r="0.45"/><circle cx="462.5" cy="594.5" r="0.45"/><circle cx="468.0" cy="589.2" r="0.45"/><circle cx="472.5" cy="588.6" r="0.45"/><circle cx="472.6" cy="581.0" r="0.45"/><circle cx="466.5" cy="588.5" r="0.45"/><circle cx="467.0" cy="595.5" r="0.45"/><circle cx="474.3" cy="581.3" r="0.45"/><circle cx="473.1" cy="585.1" r="0.45"/><circle cx="472.3" cy="589.2" r="0.45"/><circle cx="467.4" cy="588.3" r="0.45"/><circle cx="477.3" cy="594.0" r="0.45"/><circle cx="470.4" cy="584.2" r="0.45"/><circle cx="470.4" cy="591.6" r="0.45"/><circle cx="469.0" cy="591.2" r="0.45"/><circle cx="473.5" cy="588.0" r="0.45"/><circle cx="468.8" cy="583.8" r="0.45"/><circle cx="466.1" cy="586.7" r="0.45"/><circle cx="472.5" cy="580.4" r="0.45"/><circle cx="473.1" cy="595.1" r="0.45"/><circle cx="475.7" cy="591.6" r="0.45"/><circle cx="465.5" cy="600.6" r="0.45"/><circle cx="466.9" cy="597.7" r="0.45"/><circle cx="465.1" cy="586.7" r="0.45"/><circle cx="463.6" cy="586.9" r="0.45"/><circle cx="471.7" cy="593.8" r="0.45"/><circle cx="461.5" cy="584.3" r="0.45"/><circle cx="465.1" cy="594.7" r="0.45"/><circle cx="470.3" cy="594.6" r="0.45"/><circle cx="469.0" cy="598.8" r="0.45"/><circle cx="469.9" cy="591.9" r="0.45"/><circle cx="472.0" cy="589.0" r="0.45"/><circle cx="465.3" cy="585.2" r="0.45"/><circle cx="475.6" cy="596.7" r="0.45"/><circle cx="467.3" cy="591.0" r="0.45"/><circle cx="461.4" cy="594.5" r="0.45"/><circle cx="464.5" cy="584.7" r="0.45"/><circle cx="466.9" cy="586.5" r="0.45"/><circle cx="476.0" cy="579.8" r="0.45"/><circle cx="467.0" cy="595.2" r="0.45"/><circle cx="474.1" cy="600.5" r="0.45"/><circle cx="465.6" cy="586.2" r="0.45"/><circle cx="474.9" cy="585.5" r="0.45"/><circle cx="470.6" cy="599.7" r="0.45"/><circle cx="464.0" cy="579.5" r="0.45"/><circle cx="471.4" cy="582.3" r="0.45"/><circle cx="467.5" cy="595.5" r="0.45"/><circle cx="470.6" cy="596.9" r="0.45"/><circle cx="465.5" cy="587.2" r="0.45"/><circle cx="470.4" cy="589.4" r="0.45"/><circle cx="459.4" cy="579.4" r="0.45"/><circle cx="460.9" cy="581.4" r="0.45"/><circle cx="466.4" cy="592.4" r="0.45"/><circle cx="471.4" cy="583.4" r="0.45"/><circle cx="464.2" cy="580.2" r="0.45"/><circle cx="474.1" cy="589.4" r="0.45"/><circle cx="459.9" cy="593.8" r="0.45"/><circle cx="462.7" cy="589.5" r="0.45"/><circle cx="470.0" cy="582.1" r="0.45"/><circle cx="471.6" cy="597.2" r="0.45"/><circle cx="470.9" cy="583.0" r="0.45"/><circle cx="463.3" cy="584.1" r="0.45"/><circle cx="465.2" cy="599.0" r="0.45"/><circle cx="466.9" cy="598.4" r="0.45"/><circle cx="466.3" cy="588.6" r="0.45"/><circle cx="471.0" cy="585.6" r="0.45"/><circle cx="469.4" cy="587.5" r="0.45"/><circle cx="467.9" cy="587.8" r="0.45"/><circle cx="474.6" cy="600.3" r="0.45"/><circle cx="468.3" cy="597.6" r="0.45"/><circle cx="468.7" cy="587.6" r="0.45"/><circle cx="470.8" cy="586.7" r="0.45"/><circle cx="473.4" cy="584.3" r="0.45"/><circle cx="468.5" cy="588.7" r="0.45"/><circle cx="466.0" cy="581.8" r="0.45"/><circle cx="470.6" cy="593.3" r="0.45"/><circle cx="467.5" cy="580.3" r="0.45"/><circle cx="465.7" cy="584.8" r="0.45"/><circle cx="467.2" cy="585.8" r="0.45"/><circle cx="463.9" cy="582.9" r="0.45"/><circle cx="462.4" cy="593.5" r="0.45"/><circle cx="462.1" cy="581.3" r="0.45"/><circle cx="464.1" cy="589.0" r="0.45"/><circle cx="468.0" cy="582.1" r="0.45"/><circle cx="466.6" cy="590.8" r="0.45"/><circle cx="471.0" cy="599.9" r="0.45"/><circle cx="465.6" cy="597.1" r="0.45"/><circle cx="461.1" cy="588.8" r="0.45"/><circle cx="473.4" cy="592.4" r="0.45"/><circle cx="469.9" cy="581.1" r="0.45"/><circle cx="472.3" cy="590.3" r="0.45"/><circle cx="472.2" cy="588.9" r="0.45"/><circle cx="471.8" cy="583.6" r="0.45"/><circle cx="476.4" cy="593.8" r="0.45"/><circle cx="470.6" cy="579.6" r="0.45"/><circle cx="470.0" cy="582.6" r="0.45"/><circle cx="458.4" cy="598.6" r="0.45"/><circle cx="476.8" cy="586.0" r="0.45"/><circle cx="458.8" cy="585.9" r="0.45"/><circle cx="472.3" cy="580.6" r="0.45"/><circle cx="472.8" cy="593.6" r="0.45"/><circle cx="471.3" cy="591.2" r="0.45"/><circle cx="463.6" cy="583.0" r="0.45"/><circle cx="472.3" cy="584.6" r="0.45"/><circle cx="472.4" cy="584.7" r="0.45"/><circle cx="464.0" cy="596.1" r="0.45"/><circle cx="473.9" cy="585.2" r="0.45"/><circle cx="466.0" cy="595.4" r="0.45"/><circle cx="469.4" cy="586.0" r="0.45"/><circle cx="475.1" cy="596.5" r="0.45"/><circle cx="464.1" cy="583.6" r="0.45"/><circle cx="471.2" cy="591.5" r="0.45"/><circle cx="467.8" cy="586.5" r="0.45"/><circle cx="470.4" cy="586.4" r="0.45"/><circle cx="467.1" cy="598.7" r="0.45"/><circle cx="475.0" cy="582.4" r="0.45"/><circle cx="462.9" cy="594.3" r="0.45"/><circle cx="465.0" cy="585.2" r="0.45"/><circle cx="468.9" cy="583.2" r="0.45"/><circle cx="473.9" cy="592.1" r="0.45"/><circle cx="477.5" cy="590.6" r="0.45"/><circle cx="470.3" cy="593.9" r="0.45"/><circle cx="468.2" cy="594.5" r="0.45"/><circle cx="466.2" cy="583.4" r="0.45"/><circle cx="456.6" cy="581.4" r="0.45"/><circle cx="470.4" cy="590.5" r="0.45"/><circle cx="469.2" cy="589.6" r="0.45"/><circle cx="469.8" cy="586.0" r="0.45"/><circle cx="471.0" cy="600.5" r="0.45"/><circle cx="473.4" cy="593.2" r="0.45"/><circle cx="468.7" cy="590.5" r="0.45"/><circle cx="465.9" cy="582.2" r="0.45"/><circle cx="462.6" cy="579.4" r="0.45"/><circle cx="475.7" cy="588.8" r="0.45"/><circle cx="473.1" cy="585.6" r="0.45"/><circle cx="464.8" cy="583.7" r="0.45"/><circle cx="470.9" cy="583.1" r="0.45"/><circle cx="472.9" cy="591.4" r="0.45"/><circle cx="462.9" cy="589.6" r="0.45"/><circle cx="471.5" cy="601.9" r="0.45"/><circle cx="464.0" cy="585.0" r="0.45"/><circle cx="468.5" cy="584.5" r="0.45"/><circle cx="476.2" cy="580.2" r="0.45"/><circle cx="468.3" cy="594.2" r="0.45"/><circle cx="476.4" cy="589.5" r="0.45"/><circle cx="474.6" cy="584.9" r="0.45"/><circle cx="473.7" cy="585.4" r="0.45"/><circle cx="473.1" cy="583.0" r="0.45"/><circle cx="467.3" cy="586.4" r="0.45"/><circle cx="470.4" cy="585.6" r="0.45"/><circle cx="463.0" cy="581.9" r="0.45"/><circle cx="470.5" cy="592.3" r="0.45"/><circle cx="468.3" cy="587.4" r="0.45"/><circle cx="464.9" cy="590.5" r="0.45"/><circle cx="477.3" cy="581.9" r="0.45"/><circle cx="468.3" cy="596.1" r="0.45"/><circle cx="471.1" cy="591.4" r="0.45"/><circle cx="465.5" cy="582.5" r="0.45"/><circle cx="472.6" cy="582.8" r="0.45"/><circle cx="468.0" cy="584.0" r="0.45"/><circle cx="472.6" cy="585.1" r="0.45"/><circle cx="469.9" cy="588.2" r="0.45"/><circle cx="477.1" cy="589.1" r="0.45"/><circle cx="465.7" cy="579.8" r="0.45"/><circle cx="471.9" cy="593.0" r="0.45"/><circle cx="465.4" cy="586.5" r="0.45"/><circle cx="474.6" cy="579.8" r="0.45"/><circle cx="471.7" cy="594.9" r="0.45"/><circle cx="478.1" cy="584.8" r="0.45"/><circle cx="473.0" cy="589.0" r="0.45"/><circle cx="472.9" cy="596.1" r="0.45"/><circle cx="476.0" cy="593.0" r="0.45"/><circle cx="463.6" cy="579.8" r="0.45"/><circle cx="477.2" cy="581.7" r="0.45"/><circle cx="463.2" cy="584.1" r="0.45"/><circle cx="471.5" cy="587.3" r="0.45"/><circle cx="466.7" cy="579.8" r="0.45"/><circle cx="460.0" cy="590.6" r="0.45"/><circle cx="462.9" cy="593.9" r="0.45"/><circle cx="469.1" cy="596.0" r="0.45"/><circle cx="462.5" cy="588.4" r="0.45"/><circle cx="471.1" cy="588.8" r="0.45"/><circle cx="468.7" cy="598.8" r="0.45"/><circle cx="469.4" cy="579.8" r="0.45"/><circle cx="464.6" cy="581.9" r="0.45"/><circle cx="465.0" cy="585.2" r="0.45"/><circle cx="462.1" cy="601.1" r="0.45"/><circle cx="470.3" cy="584.1" r="0.45"/><circle cx="475.3" cy="596.0" r="0.45"/><circle cx="462.3" cy="590.0" r="0.45"/><circle cx="463.5" cy="580.7" r="0.45"/><circle cx="470.7" cy="584.2" r="0.45"/><circle cx="470.8" cy="582.3" r="0.45"/><circle cx="471.9" cy="589.2" r="0.45"/><circle cx="460.3" cy="585.3" r="0.45"/><circle cx="470.2" cy="592.8" r="0.45"/><circle cx="463.0" cy="582.3" r="0.45"/><circle cx="475.0" cy="593.7" r="0.45"/><circle cx="469.0" cy="583.9" r="0.45"/><circle cx="468.7" cy="585.8" r="0.45"/><circle cx="467.9" cy="589.4" r="0.45"/><circle cx="468.2" cy="596.3" r="0.45"/><circle cx="460.3" cy="583.8" r="0.45"/><circle cx="471.5" cy="595.1" r="0.45"/><circle cx="468.1" cy="588.5" r="0.45"/><circle cx="469.4" cy="589.6" r="0.45"/><circle cx="469.2" cy="588.1" r="0.45"/><circle cx="472.8" cy="585.5" r="0.45"/><circle cx="465.0" cy="586.1" r="0.45"/><circle cx="471.5" cy="584.9" r="0.45"/><circle cx="476.2" cy="583.5" r="0.45"/><circle cx="469.9" cy="584.1" r="0.45"/><circle cx="475.2" cy="585.7" r="0.45"/><circle cx="463.3" cy="582.2" r="0.45"/><circle cx="457.8" cy="592.3" r="0.45"/><circle cx="472.1" cy="593.2" r="0.45"/><circle cx="467.6" cy="582.3" r="0.45"/><circle cx="471.3" cy="590.5" r="0.45"/><circle cx="472.2" cy="586.4" r="0.45"/><circle cx="466.3" cy="590.5" r="0.45"/><circle cx="469.5" cy="587.6" r="0.45"/><circle cx="466.4" cy="588.0" r="0.45"/><circle cx="469.7" cy="592.4" r="0.45"/><circle cx="470.5" cy="590.0" r="0.45"/><circle cx="468.0" cy="605.5" r="0.45"/><circle cx="462.8" cy="591.0" r="0.45"/><circle cx="457.2" cy="582.0" r="0.45"/><circle cx="471.4" cy="582.1" r="0.45"/><circle cx="465.3" cy="582.6" r="0.45"/><circle cx="471.7" cy="584.0" r="0.45"/><circle cx="471.9" cy="586.5" r="0.45"/><circle cx="464.4" cy="596.2" r="0.45"/><circle cx="465.6" cy="584.4" r="0.45"/><circle cx="475.1" cy="596.7" r="0.45"/><circle cx="470.0" cy="594.6" r="0.45"/><circle cx="471.3" cy="579.6" r="0.45"/><circle cx="465.8" cy="587.1" r="0.45"/><circle cx="474.2" cy="582.8" r="0.45"/><circle cx="466.2" cy="580.4" r="0.45"/><circle cx="467.4" cy="579.9" r="0.45"/><circle cx="470.4" cy="592.4" r="0.45"/><circle cx="461.8" cy="585.6" r="0.45"/><circle cx="474.6" cy="582.4" r="0.45"/><circle cx="472.0" cy="585.7" r="0.45"/><circle cx="462.9" cy="582.5" r="0.45"/><circle cx="468.9" cy="587.6" r="0.45"/><circle cx="478.0" cy="589.4" r="0.45"/><circle cx="463.5" cy="592.2" r="0.45"/><circle cx="459.7" cy="591.6" r="0.45"/><circle cx="468.1" cy="579.7" r="0.45"/><circle cx="466.4" cy="582.8" r="0.45"/><circle cx="471.0" cy="585.1" r="0.45"/><circle cx="473.3" cy="581.9" r="0.45"/><circle cx="476.4" cy="602.6" r="0.45"/><circle cx="470.7" cy="596.5" r="0.45"/><circle cx="468.3" cy="590.2" r="0.45"/><circle cx="473.9" cy="579.9" r="0.45"/><circle cx="466.8" cy="583.3" r="0.45"/><circle cx="472.6" cy="586.4" r="0.45"/><circle cx="467.8" cy="585.3" r="0.45"/><circle cx="466.2" cy="594.3" r="0.45"/><circle cx="463.8" cy="587.7" r="0.45"/><circle cx="467.8" cy="587.4" r="0.45"/><circle cx="465.9" cy="581.3" r="0.45"/><circle cx="471.8" cy="590.9" r="0.45"/><circle cx="466.5" cy="588.3" r="0.45"/><circle cx="464.1" cy="579.8" r="0.45"/><circle cx="456.4" cy="588.4" r="0.45"/><circle cx="464.8" cy="592.8" r="0.45"/><circle cx="470.9" cy="587.2" r="0.45"/><circle cx="469.5" cy="590.7" r="0.45"/><circle cx="469.5" cy="589.5" r="0.45"/><circle cx="473.9" cy="582.0" r="0.45"/><circle cx="462.6" cy="587.1" r="0.45"/><circle cx="466.6" cy="600.2" r="0.45"/><circle cx="468.6" cy="586.5" r="0.45"/><circle cx="475.7" cy="589.0" r="0.45"/><circle cx="473.4" cy="588.0" r="0.45"/><circle cx="464.1" cy="585.7" r="0.45"/><circle cx="465.3" cy="602.4" r="0.45"/><circle cx="475.9" cy="583.2" r="0.45"/><circle cx="457.5" cy="582.5" r="0.45"/><circle cx="467.5" cy="581.7" r="0.45"/><circle cx="470.1" cy="589.5" r="0.45"/><circle cx="472.1" cy="590.7" r="0.45"/><circle cx="466.0" cy="583.5" r="0.45"/><circle cx="472.1" cy="589.6" r="0.45"/><circle cx="459.4" cy="590.3" r="0.45"/><circle cx="468.0" cy="599.5" r="0.45"/><circle cx="467.3" cy="595.6" r="0.45"/><circle cx="465.2" cy="585.4" r="0.45"/><circle cx="465.0" cy="585.1" r="0.45"/><circle cx="469.5" cy="581.6" r="0.45"/><circle cx="469.1" cy="582.1" r="0.45"/><circle cx="473.4" cy="586.9" r="0.45"/><circle cx="473.3" cy="579.8" r="0.45"/><circle cx="468.4" cy="594.8" r="0.45"/><circle cx="465.2" cy="595.5" r="0.45"/><circle cx="467.8" cy="590.6" r="0.45"/><circle cx="469.8" cy="586.5" r="0.45"/><circle cx="471.1" cy="591.1" r="0.45"/><circle cx="465.6" cy="594.2" r="0.45"/><circle cx="465.8" cy="586.6" r="0.45"/><circle cx="469.7" cy="590.4" r="0.45"/><circle cx="472.7" cy="591.9" r="0.45"/><circle cx="469.2" cy="600.5" r="0.45"/><circle cx="472.7" cy="581.9" r="0.45"/><circle cx="470.6" cy="589.5" r="0.45"/><circle cx="468.2" cy="584.0" r="0.45"/></g>
<ellipse cx="468.50" cy="585.50" rx="4.6" ry="6.6" fill="#e8262b" fill-opacity="0.75" transform="rotate(0 468.50 585.50)" filter="url(#fb)"/>
<g fill="#e8262b" fill-opacity="0.22"><circle cx="428.3" cy="617.7" r="0.45"/><circle cx="451.1" cy="617.2" r="0.45"/><circle cx="446.4" cy="624.1" r="0.45"/><circle cx="454.9" cy="607.8" r="0.45"/><circle cx="442.7" cy="619.9" r="0.45"/><circle cx="435.8" cy="620.6" r="0.45"/><circle cx="442.5" cy="624.7" r="0.45"/><circle cx="427.3" cy="612.9" r="0.45"/><circle cx="460.1" cy="616.8" r="0.45"/><circle cx="439.9" cy="617.8" r="0.45"/><circle cx="453.8" cy="618.9" r="0.45"/><circle cx="435.8" cy="628.6" r="0.45"/><circle cx="461.5" cy="612.1" r="0.45"/><circle cx="455.6" cy="613.1" r="0.45"/><circle cx="429.6" cy="624.6" r="0.45"/><circle cx="459.4" cy="619.1" r="0.45"/><circle cx="439.0" cy="614.5" r="0.45"/><circle cx="428.7" cy="617.9" r="0.45"/><circle cx="457.4" cy="609.0" r="0.45"/><circle cx="448.6" cy="616.9" r="0.45"/><circle cx="451.5" cy="616.7" r="0.45"/><circle cx="455.5" cy="610.1" r="0.45"/><circle cx="444.8" cy="613.8" r="0.45"/><circle cx="443.2" cy="622.6" r="0.45"/><circle cx="448.9" cy="619.3" r="0.45"/><circle cx="457.6" cy="623.6" r="0.45"/><circle cx="419.4" cy="624.0" r="0.45"/><circle cx="457.2" cy="614.5" r="0.45"/><circle cx="458.7" cy="624.9" r="0.45"/><circle cx="456.5" cy="619.4" r="0.45"/><circle cx="447.0" cy="615.8" r="0.45"/><circle cx="444.2" cy="626.8" r="0.45"/><circle cx="466.1" cy="618.5" r="0.45"/><circle cx="441.8" cy="612.7" r="0.45"/><circle cx="444.4" cy="616.0" r="0.45"/><circle cx="451.3" cy="611.2" r="0.45"/><circle cx="440.6" cy="620.5" r="0.45"/><circle cx="442.5" cy="618.0" r="0.45"/><circle cx="435.5" cy="620.1" r="0.45"/><circle cx="433.8" cy="625.1" r="0.45"/><circle cx="436.3" cy="614.0" r="0.45"/><circle cx="439.5" cy="623.5" r="0.45"/><circle cx="444.3" cy="617.0" r="0.45"/><circle cx="425.4" cy="620.3" r="0.45"/><circle cx="441.8" cy="618.8" r="0.45"/><circle cx="460.6" cy="617.8" r="0.45"/><circle cx="445.9" cy="610.9" r="0.45"/><circle cx="463.0" cy="612.4" r="0.45"/><circle cx="445.2" cy="621.3" r="0.45"/><circle cx="441.9" cy="620.5" r="0.45"/><circle cx="429.2" cy="620.7" r="0.45"/><circle cx="452.4" cy="623.4" r="0.45"/><circle cx="425.5" cy="626.3" r="0.45"/><circle cx="447.0" cy="608.7" r="0.45"/><circle cx="441.1" cy="617.6" r="0.45"/><circle cx="426.5" cy="620.7" r="0.45"/><circle cx="449.4" cy="622.3" r="0.45"/><circle cx="434.0" cy="621.5" r="0.45"/><circle cx="453.5" cy="618.3" r="0.45"/><circle cx="427.0" cy="629.0" r="0.45"/><circle cx="467.7" cy="610.8" r="0.45"/><circle cx="469.1" cy="601.6" r="0.45"/><circle cx="426.6" cy="623.7" r="0.45"/><circle cx="464.0" cy="614.5" r="0.45"/><circle cx="448.7" cy="613.3" r="0.45"/><circle cx="439.2" cy="618.9" r="0.45"/><circle cx="455.5" cy="613.3" r="0.45"/><circle cx="435.8" cy="622.5" r="0.45"/><circle cx="462.4" cy="603.6" r="0.45"/><circle cx="432.1" cy="626.1" r="0.45"/><circle cx="441.9" cy="627.9" r="0.45"/><circle cx="424.4" cy="617.8" r="0.45"/><circle cx="458.8" cy="615.2" r="0.45"/><circle cx="446.6" cy="618.0" r="0.45"/><circle cx="434.4" cy="618.2" r="0.45"/><circle cx="452.7" cy="619.4" r="0.45"/><circle cx="452.2" cy="615.6" r="0.45"/><circle cx="419.8" cy="628.1" r="0.45"/><circle cx="446.2" cy="619.0" r="0.45"/><circle cx="428.9" cy="619.0" r="0.45"/><circle cx="467.7" cy="614.2" r="0.45"/><circle cx="443.8" cy="611.8" r="0.45"/><circle cx="427.1" cy="622.1" r="0.45"/><circle cx="455.9" cy="613.3" r="0.45"/><circle cx="450.5" cy="616.9" r="0.45"/><circle cx="455.3" cy="608.4" r="0.45"/><circle cx="447.3" cy="621.8" r="0.45"/><circle cx="467.2" cy="615.6" r="0.45"/><circle cx="466.1" cy="617.3" r="0.45"/><circle cx="450.0" cy="601.8" r="0.45"/><circle cx="463.0" cy="619.6" r="0.45"/><circle cx="449.6" cy="618.6" r="0.45"/><circle cx="447.2" cy="615.6" r="0.45"/><circle cx="436.5" cy="605.4" r="0.45"/><circle cx="431.2" cy="623.5" r="0.45"/><circle cx="456.7" cy="610.4" r="0.45"/><circle cx="462.7" cy="612.5" r="0.45"/><circle cx="440.6" cy="620.6" r="0.45"/><circle cx="458.7" cy="608.8" r="0.45"/><circle cx="458.0" cy="621.1" r="0.45"/><circle cx="444.0" cy="624.8" r="0.45"/><circle cx="447.3" cy="619.9" r="0.45"/><circle cx="425.2" cy="626.5" r="0.45"/><circle cx="435.2" cy="611.4" r="0.45"/><circle cx="460.2" cy="609.3" r="0.45"/><circle cx="446.7" cy="627.6" r="0.45"/><circle cx="442.6" cy="616.7" r="0.45"/><circle cx="471.6" cy="611.7" r="0.45"/><circle cx="458.5" cy="624.3" r="0.45"/><circle cx="455.7" cy="613.6" r="0.45"/><circle cx="439.1" cy="620.1" r="0.45"/><circle cx="466.8" cy="616.9" r="0.45"/><circle cx="436.3" cy="618.4" r="0.45"/><circle cx="446.3" cy="620.3" r="0.45"/><circle cx="443.8" cy="614.8" r="0.45"/><circle cx="466.8" cy="615.4" r="0.45"/><circle cx="441.9" cy="622.7" r="0.45"/><circle cx="432.5" cy="620.4" r="0.45"/><circle cx="430.1" cy="622.3" r="0.45"/><circle cx="434.2" cy="620.9" r="0.45"/><circle cx="448.7" cy="623.1" r="0.45"/><circle cx="431.2" cy="624.3" r="0.45"/><circle cx="436.2" cy="627.8" r="0.45"/><circle cx="450.1" cy="615.9" r="0.45"/><circle cx="463.1" cy="613.2" r="0.45"/><circle cx="435.4" cy="626.4" r="0.45"/><circle cx="441.4" cy="615.6" r="0.45"/><circle cx="461.1" cy="616.9" r="0.45"/><circle cx="457.5" cy="614.4" r="0.45"/><circle cx="457.0" cy="612.5" r="0.45"/><circle cx="434.1" cy="614.8" r="0.45"/><circle cx="443.7" cy="611.2" r="0.45"/><circle cx="434.1" cy="614.1" r="0.45"/><circle cx="431.5" cy="618.7" r="0.45"/><circle cx="435.2" cy="618.0" r="0.45"/><circle cx="448.2" cy="622.7" r="0.45"/><circle cx="430.8" cy="619.6" r="0.45"/><circle cx="453.0" cy="618.6" r="0.45"/><circle cx="443.9" cy="616.1" r="0.45"/><circle cx="438.1" cy="621.1" r="0.45"/><circle cx="476.5" cy="616.0" r="0.45"/><circle cx="431.7" cy="625.0" r="0.45"/><circle cx="451.0" cy="618.3" r="0.45"/><circle cx="455.0" cy="613.5" r="0.45"/><circle cx="435.2" cy="621.4" r="0.45"/><circle cx="446.7" cy="615.6" r="0.45"/><circle cx="442.1" cy="622.9" r="0.45"/><circle cx="439.2" cy="609.5" r="0.45"/><circle cx="434.1" cy="623.8" r="0.45"/><circle cx="448.6" cy="616.4" r="0.45"/><circle cx="443.7" cy="614.4" r="0.45"/><circle cx="451.4" cy="614.5" r="0.45"/><circle cx="458.6" cy="606.9" r="0.45"/><circle cx="441.7" cy="623.1" r="0.45"/><circle cx="440.2" cy="618.6" r="0.45"/><circle cx="433.9" cy="619.9" r="0.45"/><circle cx="440.5" cy="617.9" r="0.45"/><circle cx="439.2" cy="616.5" r="0.45"/><circle cx="425.2" cy="620.8" r="0.45"/><circle cx="450.7" cy="621.1" r="0.45"/><circle cx="437.5" cy="612.9" r="0.45"/><circle cx="446.1" cy="617.5" r="0.45"/><circle cx="436.0" cy="624.7" r="0.45"/><circle cx="453.7" cy="611.8" r="0.45"/><circle cx="441.3" cy="622.6" r="0.45"/><circle cx="433.9" cy="623.8" r="0.45"/><circle cx="461.7" cy="614.6" r="0.45"/><circle cx="452.7" cy="612.8" r="0.45"/><circle cx="473.3" cy="606.2" r="0.45"/><circle cx="442.8" cy="615.9" r="0.45"/><circle cx="437.7" cy="624.7" r="0.45"/><circle cx="448.4" cy="608.6" r="0.45"/><circle cx="446.2" cy="615.5" r="0.45"/><circle cx="436.8" cy="627.4" r="0.45"/><circle cx="427.3" cy="627.9" r="0.45"/><circle cx="466.6" cy="612.4" r="0.45"/><circle cx="458.9" cy="609.9" r="0.45"/><circle cx="434.5" cy="628.6" r="0.45"/><circle cx="451.7" cy="625.7" r="0.45"/><circle cx="447.1" cy="611.1" r="0.45"/><circle cx="441.9" cy="611.3" r="0.45"/><circle cx="444.0" cy="607.3" r="0.45"/><circle cx="442.3" cy="607.6" r="0.45"/><circle cx="442.2" cy="617.4" r="0.45"/><circle cx="455.6" cy="626.8" r="0.45"/><circle cx="466.9" cy="617.8" r="0.45"/><circle cx="441.8" cy="616.7" r="0.45"/><circle cx="457.3" cy="609.3" r="0.45"/><circle cx="447.7" cy="622.7" r="0.45"/><circle cx="434.7" cy="615.0" r="0.45"/><circle cx="421.4" cy="620.6" r="0.45"/><circle cx="467.0" cy="609.7" r="0.45"/><circle cx="435.8" cy="623.1" r="0.45"/><circle cx="431.5" cy="622.8" r="0.45"/><circle cx="440.8" cy="618.0" r="0.45"/><circle cx="443.2" cy="621.5" r="0.45"/><circle cx="452.6" cy="619.6" r="0.45"/><circle cx="422.0" cy="623.3" r="0.45"/><circle cx="439.6" cy="624.5" r="0.45"/><circle cx="457.9" cy="622.9" r="0.45"/><circle cx="422.9" cy="625.7" r="0.45"/><circle cx="461.7" cy="624.4" r="0.45"/><circle cx="451.6" cy="618.2" r="0.45"/><circle cx="448.7" cy="617.4" r="0.45"/><circle cx="456.5" cy="617.4" r="0.45"/><circle cx="448.9" cy="603.6" r="0.45"/><circle cx="426.8" cy="628.4" r="0.45"/><circle cx="461.4" cy="617.0" r="0.45"/><circle cx="451.2" cy="625.2" r="0.45"/><circle cx="443.8" cy="620.3" r="0.45"/><circle cx="435.8" cy="622.7" r="0.45"/><circle cx="442.6" cy="619.4" r="0.45"/><circle cx="436.4" cy="622.9" r="0.45"/><circle cx="434.7" cy="627.6" r="0.45"/><circle cx="441.3" cy="613.6" r="0.45"/><circle cx="435.4" cy="623.6" r="0.45"/><circle cx="426.6" cy="618.7" r="0.45"/><circle cx="445.2" cy="621.4" r="0.45"/><circle cx="440.0" cy="616.1" r="0.45"/><circle cx="442.7" cy="612.5" r="0.45"/><circle cx="454.3" cy="618.6" r="0.45"/><circle cx="464.3" cy="608.6" r="0.45"/><circle cx="465.6" cy="612.0" r="0.45"/><circle cx="452.9" cy="611.7" r="0.45"/><circle cx="451.2" cy="614.0" r="0.45"/><circle cx="475.4" cy="604.1" r="0.45"/><circle cx="453.8" cy="603.5" r="0.45"/><circle cx="434.1" cy="614.6" r="0.45"/><circle cx="460.8" cy="619.5" r="0.45"/><circle cx="468.5" cy="617.6" r="0.45"/><circle cx="449.8" cy="606.8" r="0.45"/><circle cx="442.1" cy="615.2" r="0.45"/><circle cx="431.4" cy="619.1" r="0.45"/><circle cx="454.5" cy="610.6" r="0.45"/><circle cx="428.6" cy="628.3" r="0.45"/><circle cx="445.1" cy="611.1" r="0.45"/><circle cx="433.0" cy="628.2" r="0.45"/><circle cx="438.4" cy="619.6" r="0.45"/><circle cx="443.9" cy="622.1" r="0.45"/><circle cx="437.9" cy="620.7" r="0.45"/><circle cx="443.5" cy="611.9" r="0.45"/><circle cx="458.4" cy="621.0" r="0.45"/><circle cx="444.3" cy="617.5" r="0.45"/><circle cx="440.8" cy="613.8" r="0.45"/><circle cx="464.3" cy="605.6" r="0.45"/><circle cx="425.8" cy="618.0" r="0.45"/><circle cx="454.1" cy="624.1" r="0.45"/><circle cx="435.2" cy="613.1" r="0.45"/><circle cx="435.7" cy="622.7" r="0.45"/><circle cx="439.2" cy="622.7" r="0.45"/><circle cx="432.1" cy="615.7" r="0.45"/><circle cx="426.3" cy="617.8" r="0.45"/><circle cx="442.1" cy="626.8" r="0.45"/><circle cx="447.1" cy="610.7" r="0.45"/><circle cx="449.7" cy="621.2" r="0.45"/><circle cx="441.2" cy="624.2" r="0.45"/><circle cx="437.8" cy="616.1" r="0.45"/><circle cx="455.6" cy="628.2" r="0.45"/><circle cx="438.7" cy="621.8" r="0.45"/><circle cx="470.2" cy="616.2" r="0.45"/><circle cx="448.9" cy="617.8" r="0.45"/><circle cx="432.7" cy="619.3" r="0.45"/><circle cx="455.3" cy="616.7" r="0.45"/><circle cx="437.2" cy="619.4" r="0.45"/><circle cx="438.2" cy="623.7" r="0.45"/><circle cx="425.0" cy="620.0" r="0.45"/><circle cx="444.6" cy="618.0" r="0.45"/><circle cx="464.3" cy="618.7" r="0.45"/><circle cx="431.2" cy="623.2" r="0.45"/><circle cx="449.3" cy="614.2" r="0.45"/><circle cx="422.2" cy="626.9" r="0.45"/><circle cx="442.3" cy="617.6" r="0.45"/><circle cx="445.4" cy="629.4" r="0.45"/><circle cx="433.6" cy="618.6" r="0.45"/><circle cx="455.1" cy="611.6" r="0.45"/><circle cx="450.4" cy="614.1" r="0.45"/><circle cx="433.9" cy="618.6" r="0.45"/><circle cx="462.3" cy="613.6" r="0.45"/><circle cx="432.9" cy="622.0" r="0.45"/><circle cx="440.2" cy="625.3" r="0.45"/><circle cx="419.2" cy="616.0" r="0.45"/><circle cx="436.2" cy="608.5" r="0.45"/><circle cx="443.4" cy="620.4" r="0.45"/><circle cx="459.8" cy="622.8" r="0.45"/><circle cx="462.4" cy="618.8" r="0.45"/><circle cx="465.7" cy="611.8" r="0.45"/><circle cx="435.7" cy="621.8" r="0.45"/><circle cx="447.5" cy="614.9" r="0.45"/><circle cx="458.2" cy="614.9" r="0.45"/><circle cx="440.4" cy="620.0" r="0.45"/><circle cx="431.3" cy="624.1" r="0.45"/><circle cx="435.9" cy="617.1" r="0.45"/><circle cx="445.7" cy="614.5" r="0.45"/><circle cx="440.3" cy="619.7" r="0.45"/><circle cx="442.0" cy="619.6" r="0.45"/><circle cx="434.5" cy="618.0" r="0.45"/><circle cx="456.7" cy="612.4" r="0.45"/><circle cx="456.7" cy="623.0" r="0.45"/><circle cx="433.0" cy="626.8" r="0.45"/><circle cx="440.6" cy="614.6" r="0.45"/><circle cx="440.0" cy="619.9" r="0.45"/><circle cx="442.8" cy="621.3" r="0.45"/><circle cx="429.8" cy="623.5" r="0.45"/><circle cx="448.2" cy="622.7" r="0.45"/><circle cx="474.5" cy="610.5" r="0.45"/><circle cx="450.2" cy="613.6" r="0.45"/><circle cx="463.9" cy="612.4" r="0.45"/><circle cx="433.3" cy="622.0" r="0.45"/><circle cx="434.3" cy="612.2" r="0.45"/><circle cx="445.7" cy="612.7" r="0.45"/><circle cx="449.3" cy="614.7" r="0.45"/><circle cx="449.0" cy="602.7" r="0.45"/><circle cx="451.5" cy="617.6" r="0.45"/><circle cx="433.7" cy="614.8" r="0.45"/><circle cx="445.9" cy="619.3" r="0.45"/><circle cx="475.7" cy="602.2" r="0.45"/><circle cx="447.5" cy="616.9" r="0.45"/><circle cx="442.0" cy="613.7" r="0.45"/><circle cx="437.8" cy="624.3" r="0.45"/><circle cx="439.4" cy="615.1" r="0.45"/><circle cx="445.9" cy="619.6" r="0.45"/><circle cx="456.9" cy="616.8" r="0.45"/><circle cx="439.5" cy="613.4" r="0.45"/><circle cx="468.5" cy="609.0" r="0.45"/><circle cx="455.0" cy="611.5" r="0.45"/><circle cx="424.7" cy="624.1" r="0.45"/><circle cx="438.2" cy="618.3" r="0.45"/><circle cx="430.4" cy="621.4" r="0.45"/><circle cx="429.7" cy="623.6" r="0.45"/><circle cx="427.0" cy="623.8" r="0.45"/><circle cx="442.1" cy="622.5" r="0.45"/><circle cx="464.7" cy="612.5" r="0.45"/><circle cx="445.1" cy="613.9" r="0.45"/><circle cx="443.2" cy="622.7" r="0.45"/><circle cx="453.5" cy="616.5" r="0.45"/><circle cx="469.9" cy="603.4" r="0.45"/><circle cx="459.4" cy="616.5" r="0.45"/><circle cx="453.3" cy="615.4" r="0.45"/><circle cx="473.0" cy="611.9" r="0.45"/><circle cx="419.2" cy="618.6" r="0.45"/><circle cx="465.8" cy="617.5" r="0.45"/><circle cx="421.0" cy="620.5" r="0.45"/><circle cx="443.2" cy="620.5" r="0.45"/><circle cx="435.4" cy="617.9" r="0.45"/><circle cx="448.7" cy="620.2" r="0.45"/><circle cx="459.4" cy="618.4" r="0.45"/><circle cx="444.3" cy="616.6" r="0.45"/><circle cx="455.0" cy="625.1" r="0.45"/><circle cx="446.6" cy="625.5" r="0.45"/><circle cx="455.4" cy="624.8" r="0.45"/><circle cx="439.0" cy="619.4" r="0.45"/><circle cx="436.3" cy="628.3" r="0.45"/><circle cx="445.3" cy="621.5" r="0.45"/><circle cx="442.1" cy="620.3" r="0.45"/><circle cx="450.0" cy="618.1" r="0.45"/><circle cx="452.9" cy="612.9" r="0.45"/><circle cx="439.7" cy="610.2" r="0.45"/><circle cx="452.5" cy="615.8" r="0.45"/><circle cx="432.8" cy="611.4" r="0.45"/><circle cx="443.5" cy="617.6" r="0.45"/><circle cx="452.5" cy="608.4" r="0.45"/><circle cx="440.8" cy="619.1" r="0.45"/><circle cx="445.4" cy="618.9" r="0.45"/><circle cx="427.5" cy="621.6" r="0.45"/><circle cx="464.7" cy="618.8" r="0.45"/><circle cx="438.7" cy="622.2" r="0.45"/><circle cx="435.0" cy="619.6" r="0.45"/><circle cx="446.9" cy="621.8" r="0.45"/><circle cx="444.7" cy="616.4" r="0.45"/><circle cx="445.4" cy="621.5" r="0.45"/><circle cx="432.6" cy="615.4" r="0.45"/><circle cx="437.9" cy="622.2" r="0.45"/><circle cx="472.8" cy="611.8" r="0.45"/><circle cx="440.2" cy="619.0" r="0.45"/><circle cx="426.5" cy="616.5" r="0.45"/><circle cx="456.1" cy="627.8" r="0.45"/><circle cx="452.0" cy="621.7" r="0.45"/><circle cx="424.1" cy="626.2" r="0.45"/><circle cx="441.0" cy="615.5" r="0.45"/><circle cx="431.0" cy="624.5" r="0.45"/><circle cx="440.8" cy="623.1" r="0.45"/><circle cx="467.0" cy="625.9" r="0.45"/><circle cx="450.2" cy="615.7" r="0.45"/><circle cx="455.3" cy="615.4" r="0.45"/><circle cx="443.1" cy="613.2" r="0.45"/><circle cx="431.4" cy="623.9" r="0.45"/><circle cx="459.1" cy="615.7" r="0.45"/><circle cx="436.2" cy="618.1" r="0.45"/><circle cx="450.8" cy="610.8" r="0.45"/><circle cx="428.7" cy="617.0" r="0.45"/><circle cx="441.9" cy="615.9" r="0.45"/><circle cx="456.0" cy="608.7" r="0.45"/><circle cx="442.7" cy="610.5" r="0.45"/><circle cx="436.7" cy="609.3" r="0.45"/><circle cx="443.0" cy="623.9" r="0.45"/><circle cx="472.4" cy="597.3" r="0.45"/><circle cx="440.9" cy="617.0" r="0.45"/><circle cx="442.1" cy="626.2" r="0.45"/><circle cx="455.3" cy="615.8" r="0.45"/><circle cx="431.3" cy="612.2" r="0.45"/><circle cx="453.8" cy="626.6" r="0.45"/><circle cx="447.0" cy="622.1" r="0.45"/><circle cx="437.9" cy="617.4" r="0.45"/><circle cx="463.5" cy="613.7" r="0.45"/><circle cx="461.2" cy="616.8" r="0.45"/><circle cx="456.9" cy="619.0" r="0.45"/><circle cx="453.5" cy="612.7" r="0.45"/><circle cx="454.5" cy="626.8" r="0.45"/><circle cx="455.4" cy="612.5" r="0.45"/><circle cx="442.2" cy="615.5" r="0.45"/><circle cx="452.9" cy="616.7" r="0.45"/><circle cx="424.6" cy="619.5" r="0.45"/><circle cx="448.9" cy="619.9" r="0.45"/><circle cx="442.3" cy="623.6" r="0.45"/><circle cx="432.4" cy="629.3" r="0.45"/><circle cx="425.5" cy="614.7" r="0.45"/><circle cx="434.4" cy="626.8" r="0.45"/><circle cx="447.6" cy="621.4" r="0.45"/><circle cx="454.3" cy="612.4" r="0.45"/><circle cx="438.5" cy="624.6" r="0.45"/><circle cx="430.7" cy="620.6" r="0.45"/><circle cx="462.9" cy="612.9" r="0.45"/><circle cx="435.3" cy="627.1" r="0.45"/><circle cx="455.5" cy="624.5" r="0.45"/><circle cx="442.9" cy="624.6" r="0.45"/><circle cx="453.4" cy="617.2" r="0.45"/><circle cx="441.0" cy="623.8" r="0.45"/><circle cx="439.2" cy="618.4" r="0.45"/><circle cx="440.4" cy="626.5" r="0.45"/><circle cx="427.4" cy="622.6" r="0.45"/><circle cx="449.5" cy="621.1" r="0.45"/><circle cx="444.1" cy="602.5" r="0.45"/><circle cx="447.1" cy="620.0" r="0.45"/><circle cx="472.1" cy="597.4" r="0.45"/><circle cx="420.0" cy="619.8" r="0.45"/><circle cx="446.6" cy="618.5" r="0.45"/><circle cx="450.0" cy="612.0" r="0.45"/><circle cx="462.4" cy="619.3" r="0.45"/><circle cx="452.2" cy="616.5" r="0.45"/><circle cx="440.5" cy="611.1" r="0.45"/><circle cx="426.8" cy="623.6" r="0.45"/><circle cx="435.4" cy="619.3" r="0.45"/><circle cx="435.4" cy="627.7" r="0.45"/><circle cx="448.9" cy="627.1" r="0.45"/><circle cx="458.1" cy="610.9" r="0.45"/><circle cx="450.2" cy="620.9" r="0.45"/><circle cx="431.7" cy="619.7" r="0.45"/><circle cx="442.3" cy="620.2" r="0.45"/><circle cx="435.7" cy="624.9" r="0.45"/><circle cx="474.5" cy="620.1" r="0.45"/><circle cx="444.9" cy="604.8" r="0.45"/><circle cx="446.6" cy="626.4" r="0.45"/><circle cx="441.0" cy="615.9" r="0.45"/><circle cx="426.2" cy="619.6" r="0.45"/><circle cx="429.9" cy="619.5" r="0.45"/><circle cx="445.0" cy="623.0" r="0.45"/><circle cx="439.3" cy="626.2" r="0.45"/><circle cx="437.2" cy="622.9" r="0.45"/><circle cx="449.3" cy="615.4" r="0.45"/><circle cx="448.5" cy="621.3" r="0.45"/><circle cx="452.8" cy="616.4" r="0.45"/><circle cx="428.0" cy="618.3" r="0.45"/><circle cx="452.7" cy="622.2" r="0.45"/><circle cx="429.7" cy="616.6" r="0.45"/><circle cx="433.3" cy="613.9" r="0.45"/><circle cx="450.0" cy="618.7" r="0.45"/><circle cx="440.2" cy="614.3" r="0.45"/><circle cx="436.4" cy="612.8" r="0.45"/><circle cx="444.4" cy="610.4" r="0.45"/><circle cx="435.6" cy="616.1" r="0.45"/><circle cx="447.9" cy="613.4" r="0.45"/><circle cx="436.3" cy="627.4" r="0.45"/><circle cx="451.9" cy="616.2" r="0.45"/><circle cx="443.2" cy="621.7" r="0.45"/><circle cx="434.3" cy="616.9" r="0.45"/><circle cx="432.6" cy="623.2" r="0.45"/><circle cx="434.5" cy="627.2" r="0.45"/><circle cx="453.2" cy="621.4" r="0.45"/><circle cx="454.4" cy="621.0" r="0.45"/><circle cx="431.2" cy="623.0" r="0.45"/><circle cx="447.3" cy="624.6" r="0.45"/><circle cx="455.3" cy="614.4" r="0.45"/><circle cx="428.6" cy="627.7" r="0.45"/><circle cx="422.4" cy="625.8" r="0.45"/><circle cx="450.2" cy="614.5" r="0.45"/><circle cx="429.9" cy="623.2" r="0.45"/><circle cx="427.5" cy="626.1" r="0.45"/><circle cx="448.8" cy="621.7" r="0.45"/><circle cx="446.0" cy="624.2" r="0.45"/><circle cx="441.0" cy="624.1" r="0.45"/><circle cx="459.6" cy="611.7" r="0.45"/><circle cx="442.4" cy="621.8" r="0.45"/><circle cx="431.2" cy="617.4" r="0.45"/><circle cx="440.4" cy="619.4" r="0.45"/><circle cx="424.8" cy="618.9" r="0.45"/><circle cx="426.1" cy="621.2" r="0.45"/><circle cx="437.8" cy="625.1" r="0.45"/><circle cx="445.2" cy="627.8" r="0.45"/><circle cx="441.5" cy="613.0" r="0.45"/><circle cx="433.6" cy="621.9" r="0.45"/><circle cx="447.4" cy="617.7" r="0.45"/><circle cx="433.7" cy="620.3" r="0.45"/><circle cx="450.7" cy="603.5" r="0.45"/><circle cx="425.6" cy="620.2" r="0.45"/><circle cx="420.9" cy="629.4" r="0.45"/><circle cx="455.2" cy="616.4" r="0.45"/><circle cx="440.7" cy="616.9" r="0.45"/><circle cx="455.1" cy="615.9" r="0.45"/><circle cx="433.0" cy="612.2" r="0.45"/><circle cx="452.2" cy="623.2" r="0.45"/><circle cx="456.5" cy="608.4" r="0.45"/><circle cx="433.2" cy="617.5" r="0.45"/><circle cx="446.6" cy="622.5" r="0.45"/><circle cx="433.8" cy="620.3" r="0.45"/><circle cx="440.1" cy="616.3" r="0.45"/><circle cx="437.2" cy="618.5" r="0.45"/><circle cx="431.0" cy="612.6" r="0.45"/><circle cx="453.0" cy="612.7" r="0.45"/><circle cx="449.7" cy="615.9" r="0.45"/><circle cx="436.8" cy="624.0" r="0.45"/><circle cx="441.1" cy="621.1" r="0.45"/><circle cx="434.9" cy="627.4" r="0.45"/><circle cx="442.4" cy="613.6" r="0.45"/><circle cx="459.4" cy="610.5" r="0.45"/><circle cx="439.7" cy="609.9" r="0.45"/><circle cx="434.0" cy="622.6" r="0.45"/><circle cx="432.5" cy="615.1" r="0.45"/><circle cx="463.5" cy="615.6" r="0.45"/><circle cx="447.0" cy="617.7" r="0.45"/><circle cx="455.8" cy="613.5" r="0.45"/><circle cx="454.6" cy="613.5" r="0.45"/><circle cx="427.2" cy="626.4" r="0.45"/><circle cx="442.2" cy="623.3" r="0.45"/><circle cx="436.6" cy="617.1" r="0.45"/><circle cx="454.4" cy="616.5" r="0.45"/><circle cx="458.6" cy="609.1" r="0.45"/><circle cx="455.3" cy="620.4" r="0.45"/><circle cx="437.2" cy="619.1" r="0.45"/><circle cx="455.0" cy="602.4" r="0.45"/><circle cx="429.8" cy="615.3" r="0.45"/><circle cx="436.9" cy="623.5" r="0.45"/><circle cx="429.9" cy="613.4" r="0.45"/><circle cx="442.5" cy="616.4" r="0.45"/><circle cx="470.9" cy="610.6" r="0.45"/><circle cx="439.9" cy="616.8" r="0.45"/><circle cx="447.6" cy="620.3" r="0.45"/><circle cx="445.4" cy="611.9" r="0.45"/><circle cx="451.6" cy="616.4" r="0.45"/><circle cx="438.5" cy="624.1" r="0.45"/><circle cx="454.4" cy="608.3" r="0.45"/><circle cx="440.3" cy="613.8" r="0.45"/><circle cx="444.0" cy="624.4" r="0.45"/><circle cx="460.4" cy="619.6" r="0.45"/><circle cx="430.6" cy="619.0" r="0.45"/><circle cx="448.0" cy="615.7" r="0.45"/><circle cx="439.4" cy="618.5" r="0.45"/><circle cx="445.6" cy="626.4" r="0.45"/><circle cx="447.3" cy="623.1" r="0.45"/><circle cx="437.4" cy="624.2" r="0.45"/><circle cx="437.7" cy="616.5" r="0.45"/><circle cx="461.1" cy="617.5" r="0.45"/><circle cx="431.3" cy="623.1" r="0.45"/><circle cx="437.2" cy="622.3" r="0.45"/><circle cx="459.4" cy="620.6" r="0.45"/><circle cx="440.8" cy="623.7" r="0.45"/><circle cx="451.3" cy="624.1" r="0.45"/><circle cx="436.6" cy="614.2" r="0.45"/><circle cx="457.5" cy="615.8" r="0.45"/><circle cx="437.8" cy="622.6" r="0.45"/><circle cx="442.0" cy="614.1" r="0.45"/><circle cx="450.6" cy="611.7" r="0.45"/><circle cx="448.4" cy="628.6" r="0.45"/><circle cx="455.3" cy="617.4" r="0.45"/><circle cx="440.7" cy="622.0" r="0.45"/><circle cx="436.2" cy="617.9" r="0.45"/><circle cx="468.4" cy="607.3" r="0.45"/><circle cx="452.2" cy="617.4" r="0.45"/><circle cx="432.2" cy="615.2" r="0.45"/><circle cx="446.8" cy="623.0" r="0.45"/><circle cx="472.6" cy="609.1" r="0.45"/><circle cx="433.1" cy="628.7" r="0.45"/><circle cx="461.4" cy="612.2" r="0.45"/><circle cx="426.7" cy="620.3" r="0.45"/><circle cx="447.1" cy="617.0" r="0.45"/><circle cx="447.9" cy="619.1" r="0.45"/><circle cx="440.1" cy="615.1" r="0.45"/><circle cx="432.2" cy="619.1" r="0.45"/><circle cx="432.7" cy="622.9" r="0.45"/><circle cx="461.3" cy="609.7" r="0.45"/><circle cx="460.7" cy="616.6" r="0.45"/><circle cx="454.7" cy="613.6" r="0.45"/><circle cx="447.1" cy="619.3" r="0.45"/><circle cx="432.0" cy="621.4" r="0.45"/><circle cx="425.3" cy="622.2" r="0.45"/><circle cx="429.2" cy="626.5" r="0.45"/><circle cx="429.6" cy="619.4" r="0.45"/><circle cx="435.4" cy="621.2" r="0.45"/><circle cx="443.7" cy="627.2" r="0.45"/><circle cx="449.2" cy="616.4" r="0.45"/><circle cx="457.4" cy="616.8" r="0.45"/><circle cx="466.8" cy="608.0" r="0.45"/><circle cx="449.1" cy="624.8" r="0.45"/><circle cx="465.4" cy="616.8" r="0.45"/><circle cx="472.6" cy="615.7" r="0.45"/><circle cx="438.4" cy="624.4" r="0.45"/><circle cx="441.3" cy="622.1" r="0.45"/><circle cx="439.5" cy="623.3" r="0.45"/><circle cx="458.0" cy="616.0" r="0.45"/><circle cx="452.3" cy="608.5" r="0.45"/><circle cx="437.7" cy="620.2" r="0.45"/><circle cx="435.1" cy="622.8" r="0.45"/><circle cx="419.9" cy="629.1" r="0.45"/><circle cx="451.0" cy="623.2" r="0.45"/><circle cx="431.2" cy="624.1" r="0.45"/><circle cx="470.4" cy="616.1" r="0.45"/><circle cx="450.2" cy="614.8" r="0.45"/><circle cx="451.8" cy="612.1" r="0.45"/><circle cx="449.7" cy="613.6" r="0.45"/><circle cx="442.0" cy="620.8" r="0.45"/><circle cx="447.4" cy="622.8" r="0.45"/><circle cx="456.5" cy="602.8" r="0.45"/><circle cx="443.8" cy="621.8" r="0.45"/><circle cx="473.9" cy="620.6" r="0.45"/><circle cx="437.6" cy="621.4" r="0.45"/><circle cx="440.3" cy="626.2" r="0.45"/><circle cx="431.9" cy="617.9" r="0.45"/><circle cx="444.4" cy="613.0" r="0.45"/><circle cx="452.2" cy="609.5" r="0.45"/><circle cx="439.1" cy="619.0" r="0.45"/><circle cx="441.0" cy="623.9" r="0.45"/><circle cx="459.5" cy="606.4" r="0.45"/><circle cx="436.2" cy="613.5" r="0.45"/><circle cx="445.7" cy="619.2" r="0.45"/><circle cx="456.7" cy="617.9" r="0.45"/><circle cx="459.5" cy="618.6" r="0.45"/><circle cx="442.1" cy="622.8" r="0.45"/><circle cx="450.3" cy="607.8" r="0.45"/><circle cx="430.1" cy="624.1" r="0.45"/><circle cx="458.0" cy="619.6" r="0.45"/><circle cx="440.4" cy="608.7" r="0.45"/><circle cx="451.2" cy="607.9" r="0.45"/><circle cx="456.9" cy="626.6" r="0.45"/><circle cx="452.4" cy="618.6" r="0.45"/><circle cx="424.5" cy="622.6" r="0.45"/><circle cx="431.4" cy="617.1" r="0.45"/><circle cx="439.7" cy="614.9" r="0.45"/><circle cx="454.1" cy="617.1" r="0.45"/><circle cx="425.4" cy="620.6" r="0.45"/><circle cx="432.1" cy="626.5" r="0.45"/><circle cx="452.6" cy="610.3" r="0.45"/><circle cx="431.7" cy="623.5" r="0.45"/><circle cx="454.5" cy="619.0" r="0.45"/><circle cx="458.3" cy="613.6" r="0.45"/><circle cx="426.8" cy="626.1" r="0.45"/><circle cx="447.5" cy="623.8" r="0.45"/><circle cx="446.4" cy="624.9" r="0.45"/><circle cx="421.7" cy="625.3" r="0.45"/><circle cx="443.2" cy="614.1" r="0.45"/><circle cx="459.9" cy="613.7" r="0.45"/><circle cx="438.9" cy="622.6" r="0.45"/><circle cx="455.7" cy="615.9" r="0.45"/><circle cx="435.7" cy="618.7" r="0.45"/><circle cx="455.0" cy="620.1" r="0.45"/><circle cx="450.8" cy="619.7" r="0.45"/><circle cx="424.1" cy="625.2" r="0.45"/><circle cx="435.9" cy="628.5" r="0.45"/><circle cx="441.9" cy="622.3" r="0.45"/><circle cx="446.9" cy="610.6" r="0.45"/><circle cx="430.5" cy="615.6" r="0.45"/><circle cx="439.4" cy="620.3" r="0.45"/><circle cx="454.7" cy="621.2" r="0.45"/><circle cx="441.8" cy="618.4" r="0.45"/><circle cx="437.6" cy="609.0" r="0.45"/><circle cx="421.5" cy="619.1" r="0.45"/><circle cx="423.4" cy="625.9" r="0.45"/><circle cx="459.5" cy="615.4" r="0.45"/><circle cx="441.0" cy="610.3" r="0.45"/><circle cx="454.5" cy="613.2" r="0.45"/><circle cx="464.3" cy="615.5" r="0.45"/><circle cx="473.2" cy="608.9" r="0.45"/><circle cx="445.5" cy="617.7" r="0.45"/><circle cx="429.3" cy="612.3" r="0.45"/><circle cx="440.5" cy="627.2" r="0.45"/><circle cx="433.0" cy="619.4" r="0.45"/><circle cx="448.5" cy="616.5" r="0.45"/><circle cx="455.9" cy="623.3" r="0.45"/><circle cx="443.6" cy="612.9" r="0.45"/><circle cx="448.8" cy="614.9" r="0.45"/><circle cx="444.5" cy="620.4" r="0.45"/><circle cx="448.4" cy="613.7" r="0.45"/><circle cx="431.9" cy="618.7" r="0.45"/><circle cx="434.1" cy="620.9" r="0.45"/><circle cx="462.1" cy="620.2" r="0.45"/><circle cx="433.7" cy="623.9" r="0.45"/><circle cx="440.1" cy="619.8" r="0.45"/><circle cx="442.3" cy="614.6" r="0.45"/><circle cx="440.6" cy="623.8" r="0.45"/><circle cx="464.0" cy="615.3" r="0.45"/><circle cx="430.5" cy="614.6" r="0.45"/><circle cx="420.2" cy="628.1" r="0.45"/><circle cx="432.3" cy="626.4" r="0.45"/><circle cx="447.0" cy="613.8" r="0.45"/><circle cx="432.8" cy="623.4" r="0.45"/><circle cx="475.7" cy="614.1" r="0.45"/><circle cx="454.2" cy="608.1" r="0.45"/><circle cx="471.2" cy="611.6" r="0.45"/><circle cx="465.2" cy="621.1" r="0.45"/><circle cx="442.6" cy="620.1" r="0.45"/><circle cx="443.8" cy="617.8" r="0.45"/><circle cx="446.3" cy="615.7" r="0.45"/><circle cx="445.4" cy="617.1" r="0.45"/><circle cx="459.0" cy="620.3" r="0.45"/><circle cx="427.1" cy="618.7" r="0.45"/><circle cx="456.7" cy="620.1" r="0.45"/><circle cx="455.2" cy="607.6" r="0.45"/><circle cx="453.4" cy="609.3" r="0.45"/><circle cx="448.4" cy="611.7" r="0.45"/><circle cx="427.6" cy="625.2" r="0.45"/><circle cx="446.5" cy="615.1" r="0.45"/><circle cx="443.3" cy="629.4" r="0.45"/><circle cx="445.3" cy="621.3" r="0.45"/><circle cx="450.3" cy="602.6" r="0.45"/><circle cx="446.8" cy="619.3" r="0.45"/><circle cx="427.7" cy="623.6" r="0.45"/><circle cx="432.3" cy="616.5" r="0.45"/><circle cx="438.3" cy="621.0" r="0.45"/><circle cx="436.3" cy="626.1" r="0.45"/><circle cx="458.4" cy="614.1" r="0.45"/><circle cx="431.3" cy="616.5" r="0.45"/><circle cx="428.9" cy="618.1" r="0.45"/><circle cx="451.5" cy="619.2" r="0.45"/><circle cx="449.5" cy="622.8" r="0.45"/><circle cx="447.9" cy="618.9" r="0.45"/><circle cx="443.2" cy="617.3" r="0.45"/><circle cx="453.5" cy="617.4" r="0.45"/><circle cx="433.8" cy="626.2" r="0.45"/><circle cx="425.1" cy="620.0" r="0.45"/><circle cx="452.0" cy="614.6" r="0.45"/><circle cx="432.8" cy="624.0" r="0.45"/><circle cx="452.0" cy="623.0" r="0.45"/><circle cx="448.3" cy="614.6" r="0.45"/><circle cx="447.3" cy="619.9" r="0.45"/><circle cx="439.4" cy="618.3" r="0.45"/><circle cx="452.3" cy="615.7" r="0.45"/><circle cx="428.8" cy="626.0" r="0.45"/><circle cx="468.3" cy="609.7" r="0.45"/></g>
<ellipse cx="443.50" cy="619.40" rx="12.2" ry="5.0" fill="#e8262b" fill-opacity="1.0" transform="rotate(-16 443.50 619.40)" filter="url(#fb)"/>
<ellipse cx="443.00" cy="619.80" rx="7.8" ry="3.4" fill="#e8262b" fill-opacity="1.0" transform="rotate(-15 443.00 619.80)" filter="url(#fb2)"/>
<line x1="418.30" y1="604.30" x2="461.40" y2="604.30" stroke="#8a8a8a" stroke-width="0.7"/>
<line x1="461.40" y1="596.30" x2="479.00" y2="596.30" stroke="#8a8a8a" stroke-width="0.7"/>
<line x1="461.40" y1="578.40" x2="461.40" y2="630.20" stroke="#8a8a8a" stroke-width="0.7"/>
<rect x="418.30" y="578.40" width="60.70" height="51.80" fill="none" stroke="#262626" stroke-width="1.25"/>
<text x="463.10" y="590.50" font-size="6.3" fill="#333" style="stroke-width:0.1px">Q2</text>
<text x="450.60" y="598.60" font-size="6.3" fill="#333" style="stroke-width:0.1px">Q1</text>
<text x="463.50" y="607.00" font-size="6.3" fill="#333" style="stroke-width:0.1px">Q4</text>
<text x="450.60" y="614.70" font-size="6.3" fill="#333" style="stroke-width:0.1px">Q3</text>
<g fill="#e8262b" fill-opacity="0.12"><circle cx="367.7" cy="668.0" r="0.45"/><circle cx="378.8" cy="664.5" r="0.45"/><circle cx="366.1" cy="659.8" r="0.45"/><circle cx="384.7" cy="668.8" r="0.45"/><circle cx="390.1" cy="659.1" r="0.45"/><circle cx="355.8" cy="662.1" r="0.45"/><circle cx="357.8" cy="667.3" r="0.45"/><circle cx="394.9" cy="665.7" r="0.45"/><circle cx="356.9" cy="659.1" r="0.45"/><circle cx="380.6" cy="663.6" r="0.45"/><circle cx="390.8" cy="647.4" r="0.45"/><circle cx="361.1" cy="644.3" r="0.45"/><circle cx="396.3" cy="656.2" r="0.45"/><circle cx="378.9" cy="665.8" r="0.45"/><circle cx="360.6" cy="652.3" r="0.45"/><circle cx="381.4" cy="652.7" r="0.45"/><circle cx="385.4" cy="654.3" r="0.45"/><circle cx="378.3" cy="657.8" r="0.45"/><circle cx="369.2" cy="668.3" r="0.45"/><circle cx="389.1" cy="651.2" r="0.45"/></g>
<g fill="#e8262b" fill-opacity="0.28"><circle cx="402.2" cy="648.5" r="0.45"/><circle cx="402.5" cy="658.9" r="0.45"/><circle cx="398.5" cy="657.5" r="0.45"/><circle cx="410.6" cy="646.1" r="0.45"/><circle cx="401.0" cy="652.5" r="0.45"/><circle cx="406.3" cy="656.9" r="0.45"/><circle cx="406.1" cy="665.2" r="0.45"/><circle cx="408.0" cy="646.8" r="0.45"/><circle cx="400.6" cy="661.7" r="0.45"/><circle cx="403.0" cy="654.9" r="0.45"/><circle cx="400.6" cy="666.4" r="0.45"/><circle cx="406.3" cy="651.8" r="0.45"/><circle cx="403.0" cy="659.9" r="0.45"/><circle cx="409.9" cy="646.5" r="0.45"/><circle cx="398.3" cy="664.3" r="0.45"/><circle cx="402.0" cy="648.4" r="0.45"/><circle cx="395.5" cy="658.9" r="0.45"/><circle cx="410.1" cy="651.3" r="0.45"/><circle cx="404.3" cy="660.0" r="0.45"/><circle cx="398.0" cy="662.3" r="0.45"/><circle cx="402.1" cy="646.3" r="0.45"/><circle cx="397.2" cy="662.0" r="0.45"/><circle cx="409.1" cy="645.1" r="0.45"/><circle cx="405.2" cy="652.5" r="0.45"/><circle cx="405.7" cy="650.1" r="0.45"/><circle cx="400.8" cy="650.7" r="0.45"/><circle cx="404.4" cy="658.4" r="0.45"/><circle cx="405.0" cy="651.7" r="0.45"/><circle cx="403.1" cy="654.5" r="0.45"/><circle cx="404.5" cy="657.5" r="0.45"/><circle cx="400.3" cy="659.3" r="0.45"/><circle cx="400.1" cy="652.8" r="0.45"/><circle cx="403.5" cy="655.3" r="0.45"/><circle cx="407.3" cy="662.6" r="0.45"/><circle cx="398.7" cy="673.4" r="0.45"/><circle cx="401.8" cy="655.5" r="0.45"/><circle cx="404.0" cy="652.1" r="0.45"/><circle cx="399.5" cy="664.9" r="0.45"/><circle cx="402.5" cy="656.1" r="0.45"/><circle cx="405.5" cy="648.3" r="0.45"/><circle cx="407.1" cy="653.6" r="0.45"/><circle cx="403.0" cy="660.4" r="0.45"/><circle cx="407.8" cy="648.9" r="0.45"/><circle cx="398.6" cy="658.6" r="0.45"/><circle cx="398.9" cy="647.5" r="0.45"/><circle cx="409.5" cy="644.7" r="0.45"/><circle cx="401.0" cy="678.5" r="0.45"/><circle cx="410.6" cy="655.9" r="0.45"/><circle cx="411.6" cy="651.2" r="0.45"/><circle cx="403.5" cy="647.4" r="0.45"/><circle cx="404.5" cy="651.9" r="0.45"/><circle cx="404.6" cy="651.0" r="0.45"/><circle cx="406.8" cy="651.6" r="0.45"/><circle cx="397.4" cy="666.8" r="0.45"/><circle cx="403.6" cy="658.9" r="0.45"/><circle cx="396.7" cy="651.7" r="0.45"/><circle cx="406.0" cy="654.1" r="0.45"/><circle cx="406.1" cy="655.4" r="0.45"/><circle cx="410.3" cy="646.6" r="0.45"/><circle cx="396.1" cy="658.3" r="0.45"/><circle cx="395.4" cy="663.2" r="0.45"/><circle cx="404.1" cy="651.6" r="0.45"/><circle cx="407.2" cy="657.3" r="0.45"/><circle cx="390.6" cy="672.1" r="0.45"/><circle cx="406.5" cy="658.4" r="0.45"/><circle cx="407.8" cy="646.9" r="0.45"/><circle cx="406.6" cy="646.1" r="0.45"/><circle cx="403.3" cy="657.3" r="0.45"/><circle cx="403.6" cy="645.8" r="0.45"/><circle cx="403.1" cy="650.2" r="0.45"/><circle cx="404.7" cy="657.7" r="0.45"/><circle cx="409.3" cy="649.1" r="0.45"/><circle cx="404.4" cy="650.2" r="0.45"/><circle cx="403.1" cy="657.1" r="0.45"/><circle cx="407.1" cy="654.7" r="0.45"/><circle cx="401.9" cy="655.3" r="0.45"/><circle cx="393.0" cy="658.6" r="0.45"/><circle cx="404.0" cy="654.4" r="0.45"/><circle cx="398.1" cy="658.4" r="0.45"/><circle cx="403.1" cy="655.7" r="0.45"/><circle cx="406.8" cy="645.5" r="0.45"/><circle cx="405.9" cy="650.7" r="0.45"/><circle cx="408.0" cy="649.2" r="0.45"/><circle cx="411.6" cy="655.4" r="0.45"/><circle cx="404.9" cy="658.8" r="0.45"/><circle cx="405.3" cy="660.7" r="0.45"/><circle cx="403.3" cy="661.9" r="0.45"/><circle cx="398.0" cy="661.4" r="0.45"/><circle cx="402.2" cy="657.4" r="0.45"/><circle cx="411.1" cy="657.2" r="0.45"/><circle cx="397.6" cy="660.3" r="0.45"/><circle cx="404.9" cy="655.9" r="0.45"/><circle cx="401.4" cy="649.5" r="0.45"/><circle cx="408.0" cy="652.2" r="0.45"/><circle cx="398.2" cy="660.2" r="0.45"/><circle cx="405.4" cy="662.2" r="0.45"/><circle cx="404.5" cy="648.4" r="0.45"/><circle cx="403.5" cy="661.6" r="0.45"/><circle cx="404.6" cy="652.1" r="0.45"/><circle cx="395.0" cy="667.0" r="0.45"/><circle cx="404.2" cy="661.7" r="0.45"/><circle cx="399.3" cy="665.7" r="0.45"/><circle cx="409.9" cy="653.7" r="0.45"/><circle cx="411.2" cy="652.7" r="0.45"/><circle cx="399.1" cy="669.6" r="0.45"/><circle cx="406.9" cy="652.4" r="0.45"/><circle cx="408.4" cy="656.2" r="0.45"/><circle cx="401.4" cy="652.0" r="0.45"/><circle cx="402.4" cy="656.9" r="0.45"/><circle cx="399.8" cy="648.3" r="0.45"/><circle cx="405.3" cy="652.6" r="0.45"/><circle cx="403.7" cy="649.2" r="0.45"/><circle cx="400.7" cy="657.3" r="0.45"/><circle cx="407.0" cy="657.1" r="0.45"/><circle cx="401.4" cy="667.5" r="0.45"/><circle cx="401.2" cy="651.6" r="0.45"/><circle cx="404.8" cy="656.9" r="0.45"/><circle cx="403.1" cy="658.8" r="0.45"/><circle cx="404.3" cy="659.8" r="0.45"/><circle cx="402.2" cy="649.7" r="0.45"/><circle cx="399.1" cy="657.4" r="0.45"/><circle cx="406.1" cy="658.3" r="0.45"/><circle cx="404.8" cy="652.4" r="0.45"/><circle cx="400.5" cy="659.9" r="0.45"/><circle cx="404.8" cy="655.9" r="0.45"/><circle cx="406.5" cy="645.1" r="0.45"/><circle cx="407.7" cy="659.7" r="0.45"/><circle cx="411.4" cy="645.5" r="0.45"/><circle cx="400.2" cy="657.3" r="0.45"/><circle cx="405.9" cy="656.9" r="0.45"/><circle cx="411.1" cy="655.6" r="0.45"/><circle cx="400.9" cy="669.4" r="0.45"/><circle cx="406.1" cy="655.6" r="0.45"/><circle cx="401.5" cy="657.0" r="0.45"/><circle cx="404.9" cy="654.2" r="0.45"/><circle cx="399.3" cy="656.4" r="0.45"/><circle cx="406.5" cy="649.6" r="0.45"/><circle cx="399.5" cy="655.2" r="0.45"/><circle cx="394.9" cy="654.5" r="0.45"/><circle cx="400.1" cy="670.0" r="0.45"/><circle cx="403.0" cy="645.0" r="0.45"/><circle cx="409.6" cy="648.7" r="0.45"/><circle cx="401.7" cy="662.7" r="0.45"/><circle cx="400.3" cy="653.0" r="0.45"/><circle cx="405.5" cy="656.0" r="0.45"/><circle cx="401.0" cy="661.9" r="0.45"/><circle cx="403.6" cy="655.0" r="0.45"/><circle cx="402.9" cy="659.5" r="0.45"/><circle cx="403.0" cy="650.8" r="0.45"/><circle cx="405.1" cy="653.3" r="0.45"/><circle cx="407.2" cy="646.2" r="0.45"/><circle cx="407.7" cy="648.7" r="0.45"/><circle cx="407.4" cy="652.5" r="0.45"/><circle cx="401.7" cy="670.0" r="0.45"/><circle cx="395.0" cy="657.6" r="0.45"/><circle cx="413.2" cy="647.7" r="0.45"/><circle cx="402.0" cy="668.1" r="0.45"/><circle cx="402.4" cy="665.2" r="0.45"/><circle cx="400.3" cy="661.9" r="0.45"/><circle cx="402.4" cy="658.1" r="0.45"/><circle cx="399.7" cy="648.2" r="0.45"/><circle cx="401.4" cy="657.5" r="0.45"/><circle cx="408.1" cy="648.5" r="0.45"/><circle cx="404.6" cy="655.9" r="0.45"/><circle cx="409.2" cy="655.4" r="0.45"/><circle cx="398.9" cy="685.7" r="0.45"/><circle cx="406.8" cy="645.9" r="0.45"/><circle cx="399.5" cy="658.1" r="0.45"/><circle cx="401.0" cy="672.5" r="0.45"/><circle cx="399.4" cy="667.7" r="0.45"/><circle cx="412.8" cy="651.3" r="0.45"/><circle cx="402.8" cy="654.3" r="0.45"/><circle cx="404.9" cy="651.6" r="0.45"/><circle cx="399.9" cy="656.3" r="0.45"/><circle cx="411.7" cy="650.7" r="0.45"/><circle cx="403.9" cy="662.4" r="0.45"/><circle cx="405.4" cy="648.4" r="0.45"/><circle cx="404.2" cy="652.3" r="0.45"/><circle cx="403.0" cy="656.5" r="0.45"/><circle cx="407.7" cy="646.8" r="0.45"/><circle cx="396.0" cy="660.0" r="0.45"/><circle cx="404.3" cy="649.2" r="0.45"/><circle cx="404.2" cy="664.2" r="0.45"/><circle cx="393.9" cy="671.2" r="0.45"/><circle cx="409.8" cy="647.4" r="0.45"/><circle cx="403.8" cy="655.8" r="0.45"/><circle cx="401.1" cy="648.7" r="0.45"/><circle cx="405.1" cy="659.9" r="0.45"/><circle cx="399.0" cy="659.5" r="0.45"/><circle cx="404.0" cy="647.7" r="0.45"/><circle cx="406.3" cy="648.2" r="0.45"/><circle cx="408.5" cy="644.5" r="0.45"/><circle cx="403.6" cy="646.5" r="0.45"/><circle cx="408.8" cy="657.4" r="0.45"/><circle cx="401.3" cy="649.6" r="0.45"/><circle cx="400.7" cy="662.9" r="0.45"/><circle cx="399.8" cy="656.9" r="0.45"/><circle cx="408.4" cy="651.5" r="0.45"/><circle cx="403.2" cy="654.4" r="0.45"/><circle cx="400.8" cy="658.9" r="0.45"/><circle cx="401.7" cy="656.4" r="0.45"/><circle cx="400.4" cy="660.8" r="0.45"/><circle cx="400.1" cy="654.5" r="0.45"/><circle cx="400.7" cy="653.9" r="0.45"/><circle cx="400.6" cy="650.8" r="0.45"/><circle cx="390.2" cy="670.1" r="0.45"/><circle cx="403.8" cy="659.1" r="0.45"/><circle cx="397.0" cy="656.1" r="0.45"/><circle cx="404.5" cy="653.5" r="0.45"/><circle cx="412.6" cy="654.1" r="0.45"/><circle cx="395.6" cy="662.4" r="0.45"/><circle cx="400.5" cy="665.8" r="0.45"/><circle cx="405.5" cy="646.8" r="0.45"/><circle cx="407.1" cy="651.0" r="0.45"/><circle cx="401.8" cy="664.4" r="0.45"/><circle cx="405.2" cy="652.2" r="0.45"/><circle cx="406.0" cy="648.4" r="0.45"/><circle cx="401.5" cy="651.0" r="0.45"/><circle cx="408.0" cy="645.6" r="0.45"/><circle cx="408.2" cy="647.4" r="0.45"/><circle cx="408.4" cy="652.9" r="0.45"/><circle cx="403.0" cy="660.9" r="0.45"/><circle cx="411.0" cy="651.5" r="0.45"/><circle cx="402.2" cy="657.2" r="0.45"/><circle cx="403.7" cy="660.8" r="0.45"/><circle cx="411.0" cy="644.4" r="0.45"/><circle cx="409.8" cy="653.4" r="0.45"/><circle cx="402.2" cy="663.4" r="0.45"/><circle cx="401.9" cy="658.0" r="0.45"/><circle cx="403.8" cy="661.9" r="0.45"/><circle cx="408.9" cy="653.0" r="0.45"/><circle cx="403.6" cy="652.4" r="0.45"/><circle cx="407.8" cy="654.5" r="0.45"/><circle cx="402.9" cy="651.0" r="0.45"/><circle cx="408.9" cy="652.4" r="0.45"/><circle cx="410.1" cy="645.8" r="0.45"/><circle cx="412.0" cy="644.3" r="0.45"/><circle cx="398.8" cy="660.9" r="0.45"/><circle cx="402.4" cy="648.8" r="0.45"/><circle cx="406.5" cy="645.8" r="0.45"/><circle cx="401.4" cy="667.3" r="0.45"/><circle cx="402.8" cy="661.4" r="0.45"/><circle cx="405.5" cy="652.0" r="0.45"/><circle cx="407.1" cy="654.1" r="0.45"/><circle cx="410.9" cy="646.7" r="0.45"/><circle cx="399.5" cy="646.4" r="0.45"/><circle cx="392.3" cy="668.6" r="0.45"/><circle cx="408.7" cy="644.4" r="0.45"/><circle cx="397.9" cy="653.7" r="0.45"/><circle cx="405.7" cy="656.8" r="0.45"/><circle cx="396.9" cy="662.8" r="0.45"/><circle cx="411.1" cy="650.5" r="0.45"/><circle cx="401.8" cy="668.8" r="0.45"/><circle cx="410.8" cy="654.7" r="0.45"/><circle cx="396.5" cy="666.9" r="0.45"/><circle cx="404.0" cy="662.8" r="0.45"/><circle cx="398.4" cy="662.5" r="0.45"/><circle cx="404.7" cy="646.9" r="0.45"/><circle cx="401.6" cy="658.9" r="0.45"/><circle cx="404.0" cy="658.5" r="0.45"/><circle cx="401.3" cy="646.7" r="0.45"/><circle cx="399.5" cy="660.2" r="0.45"/><circle cx="401.3" cy="667.5" r="0.45"/><circle cx="401.9" cy="660.1" r="0.45"/><circle cx="407.3" cy="652.4" r="0.45"/><circle cx="394.9" cy="666.6" r="0.45"/><circle cx="401.7" cy="659.7" r="0.45"/><circle cx="397.1" cy="662.5" r="0.45"/><circle cx="405.4" cy="649.8" r="0.45"/><circle cx="405.9" cy="649.2" r="0.45"/><circle cx="406.4" cy="651.4" r="0.45"/><circle cx="401.7" cy="663.6" r="0.45"/><circle cx="409.0" cy="647.7" r="0.45"/><circle cx="401.7" cy="656.4" r="0.45"/><circle cx="406.6" cy="647.0" r="0.45"/><circle cx="403.6" cy="655.4" r="0.45"/><circle cx="402.2" cy="658.9" r="0.45"/><circle cx="404.4" cy="658.4" r="0.45"/><circle cx="410.3" cy="646.6" r="0.45"/><circle cx="410.3" cy="650.4" r="0.45"/><circle cx="400.3" cy="652.7" r="0.45"/><circle cx="406.3" cy="648.3" r="0.45"/><circle cx="398.8" cy="665.5" r="0.45"/><circle cx="406.2" cy="645.0" r="0.45"/><circle cx="396.2" cy="657.7" r="0.45"/><circle cx="404.0" cy="657.5" r="0.45"/><circle cx="392.2" cy="670.5" r="0.45"/><circle cx="401.0" cy="659.7" r="0.45"/><circle cx="406.2" cy="644.3" r="0.45"/><circle cx="405.5" cy="655.2" r="0.45"/><circle cx="404.4" cy="659.9" r="0.45"/><circle cx="408.6" cy="658.5" r="0.45"/><circle cx="405.8" cy="644.7" r="0.45"/></g>
<ellipse cx="405.50" cy="652.00" rx="2.8" ry="8.5" fill="#e8262b" fill-opacity="0.8" transform="rotate(25 405.50 652.00)" filter="url(#fb2)"/>
<g fill="#e8262b" fill-opacity="0.2"><circle cx="402.8" cy="675.5" r="0.45"/><circle cx="406.0" cy="669.4" r="0.45"/><circle cx="402.1" cy="678.4" r="0.45"/><circle cx="396.9" cy="668.6" r="0.45"/><circle cx="400.7" cy="671.2" r="0.45"/><circle cx="408.3" cy="677.8" r="0.45"/><circle cx="404.7" cy="663.3" r="0.45"/><circle cx="404.3" cy="684.2" r="0.45"/><circle cx="398.3" cy="672.5" r="0.45"/><circle cx="406.5" cy="673.5" r="0.45"/><circle cx="404.2" cy="661.4" r="0.45"/><circle cx="403.9" cy="665.9" r="0.45"/><circle cx="403.0" cy="684.0" r="0.45"/><circle cx="408.8" cy="664.4" r="0.45"/><circle cx="396.5" cy="669.9" r="0.45"/><circle cx="409.4" cy="673.0" r="0.45"/><circle cx="403.7" cy="675.7" r="0.45"/><circle cx="399.1" cy="675.8" r="0.45"/><circle cx="402.8" cy="676.0" r="0.45"/><circle cx="405.1" cy="665.4" r="0.45"/><circle cx="398.2" cy="675.8" r="0.45"/><circle cx="399.2" cy="661.0" r="0.45"/><circle cx="401.6" cy="674.1" r="0.45"/><circle cx="407.0" cy="675.7" r="0.45"/><circle cx="402.6" cy="673.7" r="0.45"/><circle cx="399.0" cy="670.4" r="0.45"/><circle cx="405.1" cy="669.4" r="0.45"/><circle cx="399.1" cy="682.9" r="0.45"/><circle cx="402.2" cy="669.0" r="0.45"/><circle cx="401.7" cy="674.7" r="0.45"/><circle cx="401.9" cy="663.3" r="0.45"/><circle cx="402.1" cy="672.3" r="0.45"/><circle cx="400.7" cy="671.7" r="0.45"/><circle cx="400.9" cy="671.6" r="0.45"/><circle cx="408.6" cy="677.6" r="0.45"/><circle cx="399.0" cy="664.2" r="0.45"/><circle cx="402.5" cy="670.9" r="0.45"/><circle cx="405.3" cy="671.7" r="0.45"/><circle cx="405.5" cy="672.9" r="0.45"/><circle cx="405.6" cy="675.1" r="0.45"/><circle cx="401.7" cy="665.4" r="0.45"/><circle cx="394.4" cy="674.0" r="0.45"/><circle cx="395.7" cy="674.5" r="0.45"/><circle cx="401.8" cy="666.2" r="0.45"/><circle cx="404.3" cy="668.8" r="0.45"/><circle cx="405.0" cy="684.4" r="0.45"/><circle cx="400.9" cy="677.2" r="0.45"/><circle cx="399.5" cy="660.4" r="0.45"/><circle cx="395.8" cy="667.0" r="0.45"/><circle cx="401.8" cy="663.9" r="0.45"/></g>
<g fill="#e8262b" fill-opacity="0.22"><circle cx="372.9" cy="683.7" r="0.45"/><circle cx="386.2" cy="678.0" r="0.45"/><circle cx="396.3" cy="671.5" r="0.45"/><circle cx="378.0" cy="687.5" r="0.45"/><circle cx="382.2" cy="674.0" r="0.45"/><circle cx="384.1" cy="678.7" r="0.45"/><circle cx="386.2" cy="684.4" r="0.45"/><circle cx="360.1" cy="692.0" r="0.45"/><circle cx="377.8" cy="686.8" r="0.45"/><circle cx="368.0" cy="689.7" r="0.45"/><circle cx="391.0" cy="662.2" r="0.45"/><circle cx="371.0" cy="687.3" r="0.45"/><circle cx="381.7" cy="683.6" r="0.45"/><circle cx="388.8" cy="680.4" r="0.45"/><circle cx="383.7" cy="688.2" r="0.45"/><circle cx="388.8" cy="669.1" r="0.45"/><circle cx="388.7" cy="672.9" r="0.45"/><circle cx="410.3" cy="668.6" r="0.45"/><circle cx="381.3" cy="689.0" r="0.45"/><circle cx="377.1" cy="688.8" r="0.45"/><circle cx="381.7" cy="680.8" r="0.45"/><circle cx="389.1" cy="679.1" r="0.45"/><circle cx="381.9" cy="674.8" r="0.45"/><circle cx="385.1" cy="690.9" r="0.45"/><circle cx="387.2" cy="690.8" r="0.45"/><circle cx="365.5" cy="684.0" r="0.45"/><circle cx="382.4" cy="676.2" r="0.45"/><circle cx="365.0" cy="681.2" r="0.45"/><circle cx="393.9" cy="673.0" r="0.45"/><circle cx="395.0" cy="679.5" r="0.45"/><circle cx="394.1" cy="671.8" r="0.45"/><circle cx="394.9" cy="686.0" r="0.45"/><circle cx="379.8" cy="680.9" r="0.45"/><circle cx="393.2" cy="684.0" r="0.45"/><circle cx="381.8" cy="684.1" r="0.45"/><circle cx="393.5" cy="666.7" r="0.45"/><circle cx="389.6" cy="678.4" r="0.45"/><circle cx="385.5" cy="680.7" r="0.45"/><circle cx="380.0" cy="678.2" r="0.45"/><circle cx="377.5" cy="679.3" r="0.45"/><circle cx="378.1" cy="678.4" r="0.45"/><circle cx="376.7" cy="684.8" r="0.45"/><circle cx="384.9" cy="681.4" r="0.45"/><circle cx="390.3" cy="679.3" r="0.45"/><circle cx="371.0" cy="678.3" r="0.45"/><circle cx="390.1" cy="682.6" r="0.45"/><circle cx="352.6" cy="695.0" r="0.45"/><circle cx="383.6" cy="685.6" r="0.45"/><circle cx="378.4" cy="687.6" r="0.45"/><circle cx="405.6" cy="667.9" r="0.45"/><circle cx="399.6" cy="676.6" r="0.45"/><circle cx="378.1" cy="687.0" r="0.45"/><circle cx="384.8" cy="677.4" r="0.45"/><circle cx="390.4" cy="679.4" r="0.45"/><circle cx="382.4" cy="679.3" r="0.45"/><circle cx="397.1" cy="675.9" r="0.45"/><circle cx="386.8" cy="670.8" r="0.45"/><circle cx="378.8" cy="675.2" r="0.45"/><circle cx="399.6" cy="684.7" r="0.45"/><circle cx="392.2" cy="681.1" r="0.45"/><circle cx="399.0" cy="671.4" r="0.45"/><circle cx="377.7" cy="682.8" r="0.45"/><circle cx="370.0" cy="686.6" r="0.45"/><circle cx="384.8" cy="680.2" r="0.45"/><circle cx="372.1" cy="686.5" r="0.45"/><circle cx="375.3" cy="683.3" r="0.45"/><circle cx="395.0" cy="687.1" r="0.45"/><circle cx="368.0" cy="686.2" r="0.45"/><circle cx="385.7" cy="681.9" r="0.45"/><circle cx="371.7" cy="684.3" r="0.45"/><circle cx="385.7" cy="677.9" r="0.45"/><circle cx="399.4" cy="666.1" r="0.45"/><circle cx="395.1" cy="677.9" r="0.45"/><circle cx="365.2" cy="693.1" r="0.45"/><circle cx="384.0" cy="681.5" r="0.45"/><circle cx="388.9" cy="675.4" r="0.45"/><circle cx="370.6" cy="694.6" r="0.45"/><circle cx="379.6" cy="686.5" r="0.45"/><circle cx="384.9" cy="681.9" r="0.45"/><circle cx="388.1" cy="679.8" r="0.45"/><circle cx="375.3" cy="679.6" r="0.45"/><circle cx="387.3" cy="678.2" r="0.45"/><circle cx="387.1" cy="683.9" r="0.45"/><circle cx="378.5" cy="684.8" r="0.45"/><circle cx="370.6" cy="691.4" r="0.45"/><circle cx="365.8" cy="681.7" r="0.45"/><circle cx="384.6" cy="678.1" r="0.45"/><circle cx="394.5" cy="663.3" r="0.45"/><circle cx="389.6" cy="677.5" r="0.45"/><circle cx="377.7" cy="680.8" r="0.45"/><circle cx="388.1" cy="674.1" r="0.45"/><circle cx="380.3" cy="687.1" r="0.45"/><circle cx="387.5" cy="679.8" r="0.45"/><circle cx="402.9" cy="682.6" r="0.45"/><circle cx="382.6" cy="681.6" r="0.45"/><circle cx="375.6" cy="672.6" r="0.45"/><circle cx="383.2" cy="679.7" r="0.45"/><circle cx="385.3" cy="679.5" r="0.45"/><circle cx="390.1" cy="684.3" r="0.45"/><circle cx="386.5" cy="675.2" r="0.45"/><circle cx="382.0" cy="682.2" r="0.45"/><circle cx="396.3" cy="671.7" r="0.45"/><circle cx="387.2" cy="679.1" r="0.45"/><circle cx="392.5" cy="683.3" r="0.45"/><circle cx="389.7" cy="687.9" r="0.45"/><circle cx="359.6" cy="680.2" r="0.45"/><circle cx="383.6" cy="689.7" r="0.45"/><circle cx="398.5" cy="674.0" r="0.45"/><circle cx="386.0" cy="693.2" r="0.45"/><circle cx="363.5" cy="693.9" r="0.45"/><circle cx="376.2" cy="694.2" r="0.45"/><circle cx="405.1" cy="672.0" r="0.45"/><circle cx="370.3" cy="685.6" r="0.45"/><circle cx="391.9" cy="685.0" r="0.45"/><circle cx="384.5" cy="693.8" r="0.45"/><circle cx="384.8" cy="687.1" r="0.45"/><circle cx="374.7" cy="685.0" r="0.45"/><circle cx="389.4" cy="680.0" r="0.45"/><circle cx="364.4" cy="687.0" r="0.45"/><circle cx="362.6" cy="689.0" r="0.45"/><circle cx="378.9" cy="690.7" r="0.45"/><circle cx="406.4" cy="669.0" r="0.45"/><circle cx="384.0" cy="677.8" r="0.45"/><circle cx="410.1" cy="668.1" r="0.45"/><circle cx="385.4" cy="681.4" r="0.45"/><circle cx="383.7" cy="694.0" r="0.45"/><circle cx="365.5" cy="691.3" r="0.45"/><circle cx="382.2" cy="686.0" r="0.45"/><circle cx="360.6" cy="684.0" r="0.45"/><circle cx="369.2" cy="679.3" r="0.45"/><circle cx="392.4" cy="679.0" r="0.45"/><circle cx="405.7" cy="668.7" r="0.45"/><circle cx="366.3" cy="688.6" r="0.45"/><circle cx="383.9" cy="678.9" r="0.45"/><circle cx="401.6" cy="673.7" r="0.45"/><circle cx="371.3" cy="682.3" r="0.45"/><circle cx="358.6" cy="682.8" r="0.45"/><circle cx="367.5" cy="691.5" r="0.45"/><circle cx="369.2" cy="690.4" r="0.45"/><circle cx="390.4" cy="694.4" r="0.45"/><circle cx="401.0" cy="672.8" r="0.45"/><circle cx="374.9" cy="688.1" r="0.45"/><circle cx="388.2" cy="681.3" r="0.45"/><circle cx="366.3" cy="683.8" r="0.45"/><circle cx="387.5" cy="678.0" r="0.45"/><circle cx="402.5" cy="666.9" r="0.45"/><circle cx="383.6" cy="673.8" r="0.45"/><circle cx="382.4" cy="689.5" r="0.45"/><circle cx="384.8" cy="675.9" r="0.45"/><circle cx="387.9" cy="669.8" r="0.45"/><circle cx="377.8" cy="680.8" r="0.45"/><circle cx="378.1" cy="683.5" r="0.45"/><circle cx="384.6" cy="683.8" r="0.45"/><circle cx="387.8" cy="685.8" r="0.45"/><circle cx="385.8" cy="686.7" r="0.45"/><circle cx="374.0" cy="687.8" r="0.45"/><circle cx="400.5" cy="690.5" r="0.45"/><circle cx="401.7" cy="689.0" r="0.45"/><circle cx="368.7" cy="692.7" r="0.45"/><circle cx="383.0" cy="680.0" r="0.45"/><circle cx="390.9" cy="675.2" r="0.45"/><circle cx="390.7" cy="681.7" r="0.45"/><circle cx="382.5" cy="677.2" r="0.45"/><circle cx="393.2" cy="668.5" r="0.45"/><circle cx="389.3" cy="673.0" r="0.45"/><circle cx="376.3" cy="675.0" r="0.45"/><circle cx="398.6" cy="665.0" r="0.45"/><circle cx="393.4" cy="677.3" r="0.45"/><circle cx="362.2" cy="682.6" r="0.45"/><circle cx="381.8" cy="680.2" r="0.45"/><circle cx="384.5" cy="677.8" r="0.45"/><circle cx="376.6" cy="680.2" r="0.45"/><circle cx="385.2" cy="677.3" r="0.45"/><circle cx="393.2" cy="681.7" r="0.45"/><circle cx="377.9" cy="687.3" r="0.45"/><circle cx="411.0" cy="667.5" r="0.45"/><circle cx="366.9" cy="679.9" r="0.45"/><circle cx="371.3" cy="683.4" r="0.45"/><circle cx="373.4" cy="687.3" r="0.45"/><circle cx="404.2" cy="674.5" r="0.45"/><circle cx="365.1" cy="687.2" r="0.45"/><circle cx="362.7" cy="694.9" r="0.45"/><circle cx="382.2" cy="673.8" r="0.45"/><circle cx="377.7" cy="674.1" r="0.45"/><circle cx="389.7" cy="668.0" r="0.45"/><circle cx="370.9" cy="687.5" r="0.45"/><circle cx="380.2" cy="677.8" r="0.45"/><circle cx="385.9" cy="682.5" r="0.45"/><circle cx="383.6" cy="681.4" r="0.45"/><circle cx="392.5" cy="675.3" r="0.45"/><circle cx="391.5" cy="676.6" r="0.45"/><circle cx="368.5" cy="689.2" r="0.45"/><circle cx="384.2" cy="690.3" r="0.45"/><circle cx="374.5" cy="691.7" r="0.45"/><circle cx="399.4" cy="681.9" r="0.45"/><circle cx="401.0" cy="675.6" r="0.45"/><circle cx="381.6" cy="684.6" r="0.45"/><circle cx="376.6" cy="685.7" r="0.45"/><circle cx="369.5" cy="695.2" r="0.45"/><circle cx="386.3" cy="680.9" r="0.45"/><circle cx="375.9" cy="684.6" r="0.45"/><circle cx="366.9" cy="683.3" r="0.45"/><circle cx="367.6" cy="694.9" r="0.45"/><circle cx="366.9" cy="684.8" r="0.45"/><circle cx="393.6" cy="674.5" r="0.45"/><circle cx="377.8" cy="689.0" r="0.45"/><circle cx="378.2" cy="685.4" r="0.45"/><circle cx="397.8" cy="671.0" r="0.45"/><circle cx="390.0" cy="671.7" r="0.45"/><circle cx="385.9" cy="679.1" r="0.45"/><circle cx="382.4" cy="681.4" r="0.45"/><circle cx="389.3" cy="678.6" r="0.45"/><circle cx="392.0" cy="683.9" r="0.45"/><circle cx="363.4" cy="681.8" r="0.45"/><circle cx="354.5" cy="694.5" r="0.45"/><circle cx="381.6" cy="684.7" r="0.45"/><circle cx="380.1" cy="687.8" r="0.45"/><circle cx="354.1" cy="689.8" r="0.45"/><circle cx="385.9" cy="674.2" r="0.45"/><circle cx="397.2" cy="679.8" r="0.45"/><circle cx="372.1" cy="678.1" r="0.45"/><circle cx="389.7" cy="680.4" r="0.45"/><circle cx="364.7" cy="687.5" r="0.45"/><circle cx="405.3" cy="667.7" r="0.45"/><circle cx="377.5" cy="678.3" r="0.45"/><circle cx="377.6" cy="678.1" r="0.45"/><circle cx="391.7" cy="685.9" r="0.45"/><circle cx="372.3" cy="685.2" r="0.45"/><circle cx="390.9" cy="683.7" r="0.45"/><circle cx="367.4" cy="680.1" r="0.45"/><circle cx="383.1" cy="682.7" r="0.45"/><circle cx="389.6" cy="683.6" r="0.45"/><circle cx="373.7" cy="689.5" r="0.45"/><circle cx="389.9" cy="688.6" r="0.45"/><circle cx="371.4" cy="683.2" r="0.45"/><circle cx="367.7" cy="691.4" r="0.45"/><circle cx="370.2" cy="693.8" r="0.45"/><circle cx="379.9" cy="685.1" r="0.45"/><circle cx="383.9" cy="682.6" r="0.45"/><circle cx="384.9" cy="674.0" r="0.45"/><circle cx="371.1" cy="684.2" r="0.45"/><circle cx="364.4" cy="688.7" r="0.45"/><circle cx="381.3" cy="685.9" r="0.45"/><circle cx="393.0" cy="681.4" r="0.45"/><circle cx="373.1" cy="679.0" r="0.45"/><circle cx="391.1" cy="683.9" r="0.45"/><circle cx="396.0" cy="680.4" r="0.45"/><circle cx="393.8" cy="676.8" r="0.45"/><circle cx="365.3" cy="687.2" r="0.45"/><circle cx="382.2" cy="689.4" r="0.45"/><circle cx="372.8" cy="688.4" r="0.45"/><circle cx="366.2" cy="692.7" r="0.45"/><circle cx="373.0" cy="694.4" r="0.45"/><circle cx="391.8" cy="674.2" r="0.45"/><circle cx="380.4" cy="669.6" r="0.45"/><circle cx="387.4" cy="672.7" r="0.45"/><circle cx="391.9" cy="676.0" r="0.45"/><circle cx="386.4" cy="682.5" r="0.45"/><circle cx="390.1" cy="679.0" r="0.45"/><circle cx="382.7" cy="685.7" r="0.45"/><circle cx="383.9" cy="684.6" r="0.45"/><circle cx="366.5" cy="686.5" r="0.45"/><circle cx="379.4" cy="671.9" r="0.45"/><circle cx="373.8" cy="690.2" r="0.45"/><circle cx="369.7" cy="692.3" r="0.45"/><circle cx="370.2" cy="685.8" r="0.45"/><circle cx="391.0" cy="673.6" r="0.45"/><circle cx="373.0" cy="686.6" r="0.45"/><circle cx="373.0" cy="691.9" r="0.45"/><circle cx="391.3" cy="670.3" r="0.45"/><circle cx="387.7" cy="680.5" r="0.45"/><circle cx="380.1" cy="689.0" r="0.45"/><circle cx="384.0" cy="693.9" r="0.45"/><circle cx="384.9" cy="678.9" r="0.45"/><circle cx="387.2" cy="684.4" r="0.45"/><circle cx="382.9" cy="685.3" r="0.45"/><circle cx="407.4" cy="676.1" r="0.45"/><circle cx="370.2" cy="693.8" r="0.45"/><circle cx="400.0" cy="665.1" r="0.45"/><circle cx="378.1" cy="677.8" r="0.45"/><circle cx="373.1" cy="687.1" r="0.45"/><circle cx="390.1" cy="689.0" r="0.45"/><circle cx="371.0" cy="692.9" r="0.45"/><circle cx="390.5" cy="685.4" r="0.45"/><circle cx="394.3" cy="685.1" r="0.45"/><circle cx="377.7" cy="683.7" r="0.45"/><circle cx="404.8" cy="680.4" r="0.45"/><circle cx="375.0" cy="684.3" r="0.45"/><circle cx="391.0" cy="680.5" r="0.45"/><circle cx="388.4" cy="678.4" r="0.45"/><circle cx="393.4" cy="669.3" r="0.45"/><circle cx="396.0" cy="679.0" r="0.45"/><circle cx="382.0" cy="683.7" r="0.45"/><circle cx="389.0" cy="674.4" r="0.45"/><circle cx="388.4" cy="680.6" r="0.45"/><circle cx="382.4" cy="677.2" r="0.45"/><circle cx="373.7" cy="690.8" r="0.45"/><circle cx="375.0" cy="689.6" r="0.45"/><circle cx="374.3" cy="685.4" r="0.45"/><circle cx="380.6" cy="681.1" r="0.45"/><circle cx="395.4" cy="676.7" r="0.45"/><circle cx="367.4" cy="688.9" r="0.45"/><circle cx="384.4" cy="685.1" r="0.45"/><circle cx="390.1" cy="681.1" r="0.45"/><circle cx="394.8" cy="681.2" r="0.45"/><circle cx="379.9" cy="682.3" r="0.45"/><circle cx="380.2" cy="678.3" r="0.45"/><circle cx="394.5" cy="676.6" r="0.45"/><circle cx="379.6" cy="685.0" r="0.45"/><circle cx="383.0" cy="677.7" r="0.45"/><circle cx="379.4" cy="683.8" r="0.45"/><circle cx="377.4" cy="682.2" r="0.45"/><circle cx="381.6" cy="683.3" r="0.45"/><circle cx="376.7" cy="693.8" r="0.45"/><circle cx="378.9" cy="685.5" r="0.45"/><circle cx="399.2" cy="674.8" r="0.45"/><circle cx="380.3" cy="674.4" r="0.45"/><circle cx="398.4" cy="688.2" r="0.45"/><circle cx="387.2" cy="672.7" r="0.45"/><circle cx="370.2" cy="691.5" r="0.45"/><circle cx="391.6" cy="677.3" r="0.45"/><circle cx="399.6" cy="673.7" r="0.45"/><circle cx="374.1" cy="688.0" r="0.45"/><circle cx="371.7" cy="677.0" r="0.45"/><circle cx="373.9" cy="686.3" r="0.45"/><circle cx="365.6" cy="693.4" r="0.45"/><circle cx="391.5" cy="673.7" r="0.45"/><circle cx="365.1" cy="686.6" r="0.45"/><circle cx="380.3" cy="676.9" r="0.45"/><circle cx="385.7" cy="681.9" r="0.45"/><circle cx="381.0" cy="692.6" r="0.45"/><circle cx="355.1" cy="686.0" r="0.45"/><circle cx="390.5" cy="677.6" r="0.45"/><circle cx="388.2" cy="672.6" r="0.45"/><circle cx="386.9" cy="671.7" r="0.45"/><circle cx="356.9" cy="692.3" r="0.45"/><circle cx="384.6" cy="679.1" r="0.45"/><circle cx="397.2" cy="672.8" r="0.45"/><circle cx="382.2" cy="683.1" r="0.45"/><circle cx="399.0" cy="676.9" r="0.45"/><circle cx="364.9" cy="690.0" r="0.45"/><circle cx="371.7" cy="685.4" r="0.45"/><circle cx="380.3" cy="687.2" r="0.45"/><circle cx="370.2" cy="692.2" r="0.45"/><circle cx="404.4" cy="682.4" r="0.45"/><circle cx="376.6" cy="683.6" r="0.45"/><circle cx="380.9" cy="686.1" r="0.45"/><circle cx="372.3" cy="682.4" r="0.45"/><circle cx="372.2" cy="690.0" r="0.45"/><circle cx="400.0" cy="684.0" r="0.45"/><circle cx="388.4" cy="682.4" r="0.45"/><circle cx="355.5" cy="686.5" r="0.45"/><circle cx="396.6" cy="678.7" r="0.45"/><circle cx="373.5" cy="677.7" r="0.45"/><circle cx="379.4" cy="675.9" r="0.45"/><circle cx="395.6" cy="673.2" r="0.45"/><circle cx="382.2" cy="692.4" r="0.45"/><circle cx="391.4" cy="683.4" r="0.45"/><circle cx="383.5" cy="683.6" r="0.45"/><circle cx="361.1" cy="683.8" r="0.45"/><circle cx="380.0" cy="687.4" r="0.45"/><circle cx="370.8" cy="680.0" r="0.45"/><circle cx="364.3" cy="686.3" r="0.45"/><circle cx="394.5" cy="678.8" r="0.45"/><circle cx="390.9" cy="677.2" r="0.45"/><circle cx="387.9" cy="678.1" r="0.45"/><circle cx="386.5" cy="684.3" r="0.45"/><circle cx="359.3" cy="693.9" r="0.45"/><circle cx="377.1" cy="674.1" r="0.45"/><circle cx="357.5" cy="685.0" r="0.45"/><circle cx="385.6" cy="677.4" r="0.45"/><circle cx="382.8" cy="683.3" r="0.45"/><circle cx="379.1" cy="687.4" r="0.45"/><circle cx="371.6" cy="686.4" r="0.45"/><circle cx="376.2" cy="684.1" r="0.45"/><circle cx="383.4" cy="687.4" r="0.45"/><circle cx="384.4" cy="674.0" r="0.45"/><circle cx="397.7" cy="672.1" r="0.45"/><circle cx="393.4" cy="675.6" r="0.45"/><circle cx="384.3" cy="685.9" r="0.45"/><circle cx="398.5" cy="672.5" r="0.45"/><circle cx="359.3" cy="689.9" r="0.45"/><circle cx="381.4" cy="681.4" r="0.45"/><circle cx="384.8" cy="683.5" r="0.45"/><circle cx="375.9" cy="687.1" r="0.45"/><circle cx="375.9" cy="679.5" r="0.45"/><circle cx="378.3" cy="675.3" r="0.45"/><circle cx="378.4" cy="684.9" r="0.45"/><circle cx="377.4" cy="686.5" r="0.45"/><circle cx="383.1" cy="692.1" r="0.45"/><circle cx="407.2" cy="673.1" r="0.45"/><circle cx="390.4" cy="674.7" r="0.45"/><circle cx="369.4" cy="680.3" r="0.45"/><circle cx="373.9" cy="686.7" r="0.45"/><circle cx="390.8" cy="671.5" r="0.45"/><circle cx="379.8" cy="681.7" r="0.45"/><circle cx="397.9" cy="686.2" r="0.45"/><circle cx="377.3" cy="679.5" r="0.45"/><circle cx="385.2" cy="687.7" r="0.45"/><circle cx="379.0" cy="691.0" r="0.45"/><circle cx="384.5" cy="684.7" r="0.45"/><circle cx="401.0" cy="677.3" r="0.45"/><circle cx="374.5" cy="686.0" r="0.45"/><circle cx="375.4" cy="688.6" r="0.45"/><circle cx="374.1" cy="695.0" r="0.45"/><circle cx="362.0" cy="690.1" r="0.45"/><circle cx="395.5" cy="676.0" r="0.45"/><circle cx="388.6" cy="679.1" r="0.45"/><circle cx="369.7" cy="679.7" r="0.45"/><circle cx="401.5" cy="675.7" r="0.45"/><circle cx="368.9" cy="692.7" r="0.45"/><circle cx="363.9" cy="682.6" r="0.45"/><circle cx="395.0" cy="679.0" r="0.45"/><circle cx="395.3" cy="673.5" r="0.45"/><circle cx="370.3" cy="689.8" r="0.45"/><circle cx="379.8" cy="685.9" r="0.45"/><circle cx="393.7" cy="686.4" r="0.45"/><circle cx="384.9" cy="689.4" r="0.45"/><circle cx="378.5" cy="693.8" r="0.45"/><circle cx="404.0" cy="672.1" r="0.45"/><circle cx="379.9" cy="676.9" r="0.45"/><circle cx="368.2" cy="682.7" r="0.45"/><circle cx="385.9" cy="687.4" r="0.45"/><circle cx="392.3" cy="686.3" r="0.45"/><circle cx="400.6" cy="679.2" r="0.45"/><circle cx="370.6" cy="673.8" r="0.45"/><circle cx="376.4" cy="684.2" r="0.45"/><circle cx="377.4" cy="678.5" r="0.45"/><circle cx="387.5" cy="681.9" r="0.45"/><circle cx="366.6" cy="694.8" r="0.45"/><circle cx="390.9" cy="676.7" r="0.45"/><circle cx="400.9" cy="671.8" r="0.45"/><circle cx="374.4" cy="690.9" r="0.45"/><circle cx="384.9" cy="680.4" r="0.45"/><circle cx="383.8" cy="682.0" r="0.45"/><circle cx="387.6" cy="674.4" r="0.45"/><circle cx="383.9" cy="670.7" r="0.45"/><circle cx="360.7" cy="686.2" r="0.45"/><circle cx="367.4" cy="686.7" r="0.45"/><circle cx="381.2" cy="677.3" r="0.45"/><circle cx="371.6" cy="689.9" r="0.45"/><circle cx="358.4" cy="688.8" r="0.45"/><circle cx="378.2" cy="683.4" r="0.45"/><circle cx="396.0" cy="679.5" r="0.45"/><circle cx="375.0" cy="685.1" r="0.45"/><circle cx="385.2" cy="682.9" r="0.45"/><circle cx="380.3" cy="687.9" r="0.45"/><circle cx="373.1" cy="679.0" r="0.45"/><circle cx="390.4" cy="682.5" r="0.45"/><circle cx="363.5" cy="691.6" r="0.45"/><circle cx="371.5" cy="690.3" r="0.45"/><circle cx="386.0" cy="681.4" r="0.45"/><circle cx="371.1" cy="676.7" r="0.45"/><circle cx="377.0" cy="677.7" r="0.45"/><circle cx="380.9" cy="680.1" r="0.45"/><circle cx="381.5" cy="681.1" r="0.45"/><circle cx="368.0" cy="685.0" r="0.45"/><circle cx="367.2" cy="694.9" r="0.45"/><circle cx="379.9" cy="675.9" r="0.45"/><circle cx="377.0" cy="684.0" r="0.45"/><circle cx="382.5" cy="683.1" r="0.45"/><circle cx="373.8" cy="689.4" r="0.45"/><circle cx="386.1" cy="685.3" r="0.45"/><circle cx="386.7" cy="682.0" r="0.45"/><circle cx="353.2" cy="695.3" r="0.45"/><circle cx="367.9" cy="680.5" r="0.45"/><circle cx="396.0" cy="677.9" r="0.45"/><circle cx="404.6" cy="670.1" r="0.45"/><circle cx="391.6" cy="680.0" r="0.45"/><circle cx="382.0" cy="686.7" r="0.45"/><circle cx="387.2" cy="684.3" r="0.45"/><circle cx="390.6" cy="682.8" r="0.45"/><circle cx="404.0" cy="669.7" r="0.45"/><circle cx="380.6" cy="671.3" r="0.45"/><circle cx="384.1" cy="689.6" r="0.45"/><circle cx="381.2" cy="688.5" r="0.45"/><circle cx="400.7" cy="677.0" r="0.45"/><circle cx="375.7" cy="688.3" r="0.45"/><circle cx="369.1" cy="688.0" r="0.45"/><circle cx="396.9" cy="692.4" r="0.45"/><circle cx="375.1" cy="683.2" r="0.45"/><circle cx="398.8" cy="684.5" r="0.45"/><circle cx="388.4" cy="679.8" r="0.45"/><circle cx="369.8" cy="686.7" r="0.45"/><circle cx="392.4" cy="685.8" r="0.45"/><circle cx="379.0" cy="692.4" r="0.45"/><circle cx="366.9" cy="684.4" r="0.45"/><circle cx="377.2" cy="686.1" r="0.45"/><circle cx="384.3" cy="681.4" r="0.45"/><circle cx="390.3" cy="684.2" r="0.45"/><circle cx="393.8" cy="674.4" r="0.45"/><circle cx="379.3" cy="686.3" r="0.45"/><circle cx="385.7" cy="689.6" r="0.45"/><circle cx="411.6" cy="668.7" r="0.45"/><circle cx="405.4" cy="665.1" r="0.45"/><circle cx="381.1" cy="685.5" r="0.45"/><circle cx="379.6" cy="683.1" r="0.45"/><circle cx="357.9" cy="692.7" r="0.45"/><circle cx="381.6" cy="687.3" r="0.45"/><circle cx="385.6" cy="688.9" r="0.45"/><circle cx="372.2" cy="684.1" r="0.45"/><circle cx="383.6" cy="675.5" r="0.45"/><circle cx="378.8" cy="684.7" r="0.45"/><circle cx="370.7" cy="689.4" r="0.45"/><circle cx="397.8" cy="686.1" r="0.45"/><circle cx="384.9" cy="677.8" r="0.45"/><circle cx="391.1" cy="688.6" r="0.45"/><circle cx="353.7" cy="695.2" r="0.45"/><circle cx="396.0" cy="673.0" r="0.45"/><circle cx="375.7" cy="692.0" r="0.45"/><circle cx="358.7" cy="686.8" r="0.45"/><circle cx="379.7" cy="689.9" r="0.45"/><circle cx="379.5" cy="689.7" r="0.45"/><circle cx="405.7" cy="674.1" r="0.45"/><circle cx="402.9" cy="686.9" r="0.45"/><circle cx="383.1" cy="682.7" r="0.45"/><circle cx="376.9" cy="690.2" r="0.45"/><circle cx="403.1" cy="665.2" r="0.45"/><circle cx="391.7" cy="683.2" r="0.45"/><circle cx="384.1" cy="690.0" r="0.45"/><circle cx="385.3" cy="686.0" r="0.45"/><circle cx="358.5" cy="694.1" r="0.45"/><circle cx="396.8" cy="674.1" r="0.45"/><circle cx="378.6" cy="680.1" r="0.45"/><circle cx="369.6" cy="691.7" r="0.45"/><circle cx="383.1" cy="685.9" r="0.45"/><circle cx="397.7" cy="676.5" r="0.45"/><circle cx="368.2" cy="686.5" r="0.45"/><circle cx="366.4" cy="681.3" r="0.45"/><circle cx="383.2" cy="690.9" r="0.45"/><circle cx="381.7" cy="678.7" r="0.45"/><circle cx="382.7" cy="679.4" r="0.45"/><circle cx="382.9" cy="687.2" r="0.45"/><circle cx="369.8" cy="685.5" r="0.45"/><circle cx="358.8" cy="695.0" r="0.45"/><circle cx="394.9" cy="684.2" r="0.45"/><circle cx="385.2" cy="682.1" r="0.45"/><circle cx="387.5" cy="677.8" r="0.45"/><circle cx="378.5" cy="668.7" r="0.45"/><circle cx="362.4" cy="683.0" r="0.45"/><circle cx="400.3" cy="673.3" r="0.45"/><circle cx="388.4" cy="671.6" r="0.45"/><circle cx="386.3" cy="676.8" r="0.45"/><circle cx="373.7" cy="677.3" r="0.45"/><circle cx="382.8" cy="680.2" r="0.45"/><circle cx="380.5" cy="674.0" r="0.45"/><circle cx="377.0" cy="687.7" r="0.45"/><circle cx="395.1" cy="682.6" r="0.45"/><circle cx="412.4" cy="671.7" r="0.45"/><circle cx="387.4" cy="682.7" r="0.45"/><circle cx="379.8" cy="682.7" r="0.45"/><circle cx="372.7" cy="681.3" r="0.45"/><circle cx="363.7" cy="682.7" r="0.45"/><circle cx="355.8" cy="694.2" r="0.45"/><circle cx="390.3" cy="685.6" r="0.45"/><circle cx="396.8" cy="674.6" r="0.45"/><circle cx="372.5" cy="686.8" r="0.45"/><circle cx="379.6" cy="687.2" r="0.45"/><circle cx="369.6" cy="692.3" r="0.45"/><circle cx="382.3" cy="683.7" r="0.45"/><circle cx="366.8" cy="685.2" r="0.45"/><circle cx="377.0" cy="686.7" r="0.45"/><circle cx="390.1" cy="682.0" r="0.45"/><circle cx="384.2" cy="679.8" r="0.45"/><circle cx="385.4" cy="682.7" r="0.45"/><circle cx="396.7" cy="678.9" r="0.45"/><circle cx="357.8" cy="690.6" r="0.45"/><circle cx="384.5" cy="677.8" r="0.45"/><circle cx="366.9" cy="691.9" r="0.45"/><circle cx="384.0" cy="682.2" r="0.45"/><circle cx="377.3" cy="687.9" r="0.45"/><circle cx="372.8" cy="688.5" r="0.45"/><circle cx="372.7" cy="685.3" r="0.45"/><circle cx="398.5" cy="685.8" r="0.45"/><circle cx="389.5" cy="674.1" r="0.45"/><circle cx="374.4" cy="691.6" r="0.45"/><circle cx="387.8" cy="675.3" r="0.45"/><circle cx="379.8" cy="686.2" r="0.45"/><circle cx="395.4" cy="677.0" r="0.45"/><circle cx="375.8" cy="681.0" r="0.45"/><circle cx="388.1" cy="680.1" r="0.45"/><circle cx="391.7" cy="681.9" r="0.45"/><circle cx="362.5" cy="692.4" r="0.45"/><circle cx="376.5" cy="684.4" r="0.45"/><circle cx="371.2" cy="683.9" r="0.45"/><circle cx="382.8" cy="676.1" r="0.45"/><circle cx="408.8" cy="666.2" r="0.45"/><circle cx="368.7" cy="683.9" r="0.45"/><circle cx="373.7" cy="689.5" r="0.45"/><circle cx="379.6" cy="676.2" r="0.45"/><circle cx="377.4" cy="679.8" r="0.45"/><circle cx="360.7" cy="694.0" r="0.45"/><circle cx="373.0" cy="688.2" r="0.45"/><circle cx="364.8" cy="691.5" r="0.45"/><circle cx="375.4" cy="682.8" r="0.45"/><circle cx="391.8" cy="683.8" r="0.45"/><circle cx="386.9" cy="677.8" r="0.45"/><circle cx="385.4" cy="677.4" r="0.45"/><circle cx="375.7" cy="681.6" r="0.45"/><circle cx="388.2" cy="675.4" r="0.45"/><circle cx="383.4" cy="680.7" r="0.45"/><circle cx="365.5" cy="686.2" r="0.45"/><circle cx="382.0" cy="683.4" r="0.45"/><circle cx="369.1" cy="692.6" r="0.45"/><circle cx="369.8" cy="691.9" r="0.45"/><circle cx="390.2" cy="682.0" r="0.45"/><circle cx="368.4" cy="682.7" r="0.45"/><circle cx="376.4" cy="694.5" r="0.45"/><circle cx="383.6" cy="682.4" r="0.45"/><circle cx="380.6" cy="684.0" r="0.45"/><circle cx="380.3" cy="681.7" r="0.45"/><circle cx="357.6" cy="691.2" r="0.45"/><circle cx="378.7" cy="672.9" r="0.45"/><circle cx="390.4" cy="686.7" r="0.45"/><circle cx="374.8" cy="685.3" r="0.45"/><circle cx="382.7" cy="679.8" r="0.45"/><circle cx="368.7" cy="689.5" r="0.45"/><circle cx="380.2" cy="686.3" r="0.45"/><circle cx="377.7" cy="684.9" r="0.45"/><circle cx="388.6" cy="679.2" r="0.45"/><circle cx="390.3" cy="685.6" r="0.45"/><circle cx="354.8" cy="693.2" r="0.45"/><circle cx="388.9" cy="692.6" r="0.45"/><circle cx="377.5" cy="679.7" r="0.45"/><circle cx="364.1" cy="676.7" r="0.45"/><circle cx="400.8" cy="671.4" r="0.45"/><circle cx="378.3" cy="684.7" r="0.45"/><circle cx="379.8" cy="688.0" r="0.45"/><circle cx="384.7" cy="677.7" r="0.45"/><circle cx="375.2" cy="676.0" r="0.45"/><circle cx="365.9" cy="693.7" r="0.45"/><circle cx="387.0" cy="673.6" r="0.45"/><circle cx="357.3" cy="692.8" r="0.45"/><circle cx="373.6" cy="679.3" r="0.45"/><circle cx="391.8" cy="669.0" r="0.45"/><circle cx="363.7" cy="693.3" r="0.45"/><circle cx="405.0" cy="676.6" r="0.45"/><circle cx="403.6" cy="685.6" r="0.45"/><circle cx="381.2" cy="682.9" r="0.45"/><circle cx="381.0" cy="685.1" r="0.45"/><circle cx="367.3" cy="682.0" r="0.45"/><circle cx="395.0" cy="681.3" r="0.45"/><circle cx="374.0" cy="687.4" r="0.45"/><circle cx="383.0" cy="685.1" r="0.45"/><circle cx="373.1" cy="682.3" r="0.45"/><circle cx="378.7" cy="683.8" r="0.45"/><circle cx="374.1" cy="677.2" r="0.45"/><circle cx="353.0" cy="694.9" r="0.45"/><circle cx="401.3" cy="667.5" r="0.45"/><circle cx="407.6" cy="671.3" r="0.45"/><circle cx="401.5" cy="677.9" r="0.45"/><circle cx="395.6" cy="673.5" r="0.45"/><circle cx="369.4" cy="684.1" r="0.45"/><circle cx="375.7" cy="690.0" r="0.45"/><circle cx="382.9" cy="674.0" r="0.45"/><circle cx="371.9" cy="694.4" r="0.45"/><circle cx="378.9" cy="680.3" r="0.45"/><circle cx="396.5" cy="686.7" r="0.45"/><circle cx="387.5" cy="683.3" r="0.45"/><circle cx="380.8" cy="679.3" r="0.45"/><circle cx="367.3" cy="676.4" r="0.45"/><circle cx="366.6" cy="688.3" r="0.45"/><circle cx="392.4" cy="691.9" r="0.45"/><circle cx="380.9" cy="677.9" r="0.45"/><circle cx="355.5" cy="691.4" r="0.45"/><circle cx="371.6" cy="689.7" r="0.45"/><circle cx="357.8" cy="692.1" r="0.45"/><circle cx="379.7" cy="680.6" r="0.45"/><circle cx="357.1" cy="694.8" r="0.45"/><circle cx="359.3" cy="678.8" r="0.45"/><circle cx="373.6" cy="680.4" r="0.45"/><circle cx="387.2" cy="686.5" r="0.45"/><circle cx="375.7" cy="680.2" r="0.45"/><circle cx="379.7" cy="683.9" r="0.45"/><circle cx="382.6" cy="680.4" r="0.45"/><circle cx="371.4" cy="687.4" r="0.45"/><circle cx="376.8" cy="683.5" r="0.45"/><circle cx="394.0" cy="683.2" r="0.45"/><circle cx="376.1" cy="684.3" r="0.45"/><circle cx="365.1" cy="682.3" r="0.45"/><circle cx="374.4" cy="679.5" r="0.45"/><circle cx="395.0" cy="681.1" r="0.45"/><circle cx="370.6" cy="691.0" r="0.45"/><circle cx="385.3" cy="682.1" r="0.45"/><circle cx="365.9" cy="687.8" r="0.45"/><circle cx="373.2" cy="685.3" r="0.45"/><circle cx="381.9" cy="684.9" r="0.45"/><circle cx="381.7" cy="678.4" r="0.45"/><circle cx="386.0" cy="692.0" r="0.45"/><circle cx="392.4" cy="683.0" r="0.45"/><circle cx="397.7" cy="668.4" r="0.45"/><circle cx="392.3" cy="680.3" r="0.45"/><circle cx="381.2" cy="691.6" r="0.45"/><circle cx="389.5" cy="674.0" r="0.45"/><circle cx="381.3" cy="679.8" r="0.45"/><circle cx="390.1" cy="685.8" r="0.45"/><circle cx="367.3" cy="684.7" r="0.45"/><circle cx="394.8" cy="693.7" r="0.45"/><circle cx="383.8" cy="674.7" r="0.45"/><circle cx="380.6" cy="673.9" r="0.45"/><circle cx="370.8" cy="685.6" r="0.45"/><circle cx="366.7" cy="682.1" r="0.45"/><circle cx="380.8" cy="685.0" r="0.45"/><circle cx="370.2" cy="687.0" r="0.45"/><circle cx="391.6" cy="667.5" r="0.45"/><circle cx="411.6" cy="673.4" r="0.45"/><circle cx="397.1" cy="679.6" r="0.45"/><circle cx="383.6" cy="681.3" r="0.45"/><circle cx="412.6" cy="674.7" r="0.45"/><circle cx="372.2" cy="694.0" r="0.45"/><circle cx="374.6" cy="682.2" r="0.45"/><circle cx="390.9" cy="680.0" r="0.45"/><circle cx="386.6" cy="678.6" r="0.45"/><circle cx="387.9" cy="693.5" r="0.45"/><circle cx="363.9" cy="689.9" r="0.45"/><circle cx="380.5" cy="687.1" r="0.45"/><circle cx="358.3" cy="689.7" r="0.45"/><circle cx="389.1" cy="687.0" r="0.45"/><circle cx="363.7" cy="689.5" r="0.45"/><circle cx="377.7" cy="693.9" r="0.45"/><circle cx="395.2" cy="687.6" r="0.45"/><circle cx="384.6" cy="676.6" r="0.45"/><circle cx="382.9" cy="689.3" r="0.45"/><circle cx="369.5" cy="680.2" r="0.45"/><circle cx="363.8" cy="683.7" r="0.45"/><circle cx="367.5" cy="688.4" r="0.45"/><circle cx="389.2" cy="679.7" r="0.45"/><circle cx="358.1" cy="690.3" r="0.45"/><circle cx="393.2" cy="674.0" r="0.45"/><circle cx="370.4" cy="685.9" r="0.45"/><circle cx="383.3" cy="677.5" r="0.45"/><circle cx="375.7" cy="679.8" r="0.45"/><circle cx="393.7" cy="682.6" r="0.45"/><circle cx="381.3" cy="683.6" r="0.45"/><circle cx="365.7" cy="685.9" r="0.45"/><circle cx="392.6" cy="666.3" r="0.45"/><circle cx="373.4" cy="690.0" r="0.45"/><circle cx="384.6" cy="693.8" r="0.45"/><circle cx="384.2" cy="687.8" r="0.45"/><circle cx="381.0" cy="681.5" r="0.45"/><circle cx="394.2" cy="673.0" r="0.45"/><circle cx="368.1" cy="687.3" r="0.45"/><circle cx="394.8" cy="691.4" r="0.45"/><circle cx="385.5" cy="688.6" r="0.45"/><circle cx="380.4" cy="687.1" r="0.45"/><circle cx="361.2" cy="690.9" r="0.45"/><circle cx="386.8" cy="682.7" r="0.45"/><circle cx="373.5" cy="685.7" r="0.45"/><circle cx="370.2" cy="684.7" r="0.45"/><circle cx="401.6" cy="680.1" r="0.45"/><circle cx="386.1" cy="674.0" r="0.45"/><circle cx="390.0" cy="677.3" r="0.45"/><circle cx="377.0" cy="679.0" r="0.45"/><circle cx="375.1" cy="690.5" r="0.45"/><circle cx="383.7" cy="679.0" r="0.45"/><circle cx="369.1" cy="676.2" r="0.45"/><circle cx="368.1" cy="677.7" r="0.45"/><circle cx="362.2" cy="686.1" r="0.45"/><circle cx="365.2" cy="681.4" r="0.45"/><circle cx="393.5" cy="675.0" r="0.45"/><circle cx="381.2" cy="687.4" r="0.45"/><circle cx="362.7" cy="682.7" r="0.45"/><circle cx="383.9" cy="687.4" r="0.45"/><circle cx="372.9" cy="680.0" r="0.45"/><circle cx="398.1" cy="678.8" r="0.45"/><circle cx="398.9" cy="679.6" r="0.45"/><circle cx="394.7" cy="678.1" r="0.45"/><circle cx="372.6" cy="685.7" r="0.45"/><circle cx="376.5" cy="687.8" r="0.45"/><circle cx="403.2" cy="661.1" r="0.45"/><circle cx="402.8" cy="670.6" r="0.45"/><circle cx="357.3" cy="685.7" r="0.45"/><circle cx="390.1" cy="679.1" r="0.45"/><circle cx="399.2" cy="678.4" r="0.45"/><circle cx="368.7" cy="693.4" r="0.45"/><circle cx="375.3" cy="691.5" r="0.45"/><circle cx="378.3" cy="684.6" r="0.45"/><circle cx="384.2" cy="679.5" r="0.45"/><circle cx="390.3" cy="689.2" r="0.45"/><circle cx="392.3" cy="683.6" r="0.45"/><circle cx="396.3" cy="675.4" r="0.45"/><circle cx="375.4" cy="686.5" r="0.45"/><circle cx="374.6" cy="673.4" r="0.45"/><circle cx="377.1" cy="680.4" r="0.45"/><circle cx="357.5" cy="684.1" r="0.45"/><circle cx="386.7" cy="692.1" r="0.45"/><circle cx="401.9" cy="672.1" r="0.45"/><circle cx="387.9" cy="689.5" r="0.45"/><circle cx="383.7" cy="675.0" r="0.45"/><circle cx="405.4" cy="676.1" r="0.45"/><circle cx="383.8" cy="676.1" r="0.45"/><circle cx="383.2" cy="689.2" r="0.45"/><circle cx="400.1" cy="666.2" r="0.45"/><circle cx="400.7" cy="672.8" r="0.45"/><circle cx="374.1" cy="685.1" r="0.45"/><circle cx="375.4" cy="687.4" r="0.45"/><circle cx="356.1" cy="685.7" r="0.45"/><circle cx="391.4" cy="663.9" r="0.45"/><circle cx="387.6" cy="681.3" r="0.45"/><circle cx="377.1" cy="679.9" r="0.45"/><circle cx="388.4" cy="681.9" r="0.45"/><circle cx="371.7" cy="690.8" r="0.45"/><circle cx="390.3" cy="671.9" r="0.45"/><circle cx="391.7" cy="676.5" r="0.45"/><circle cx="386.8" cy="666.7" r="0.45"/><circle cx="395.3" cy="673.8" r="0.45"/><circle cx="399.7" cy="679.3" r="0.45"/><circle cx="360.5" cy="687.2" r="0.45"/><circle cx="387.7" cy="674.2" r="0.45"/><circle cx="363.6" cy="687.9" r="0.45"/><circle cx="372.7" cy="687.8" r="0.45"/><circle cx="406.0" cy="674.0" r="0.45"/><circle cx="383.6" cy="681.5" r="0.45"/><circle cx="362.9" cy="687.5" r="0.45"/><circle cx="367.3" cy="679.2" r="0.45"/><circle cx="370.8" cy="688.3" r="0.45"/><circle cx="386.6" cy="685.3" r="0.45"/><circle cx="392.0" cy="680.1" r="0.45"/><circle cx="385.0" cy="680.1" r="0.45"/><circle cx="385.4" cy="686.5" r="0.45"/><circle cx="374.4" cy="682.5" r="0.45"/><circle cx="375.4" cy="682.4" r="0.45"/><circle cx="389.7" cy="690.1" r="0.45"/><circle cx="400.7" cy="665.0" r="0.45"/><circle cx="389.7" cy="683.4" r="0.45"/><circle cx="386.6" cy="684.1" r="0.45"/><circle cx="384.0" cy="676.3" r="0.45"/><circle cx="382.3" cy="688.5" r="0.45"/><circle cx="362.0" cy="688.9" r="0.45"/><circle cx="391.5" cy="670.6" r="0.45"/><circle cx="389.3" cy="684.3" r="0.45"/><circle cx="375.7" cy="670.8" r="0.45"/><circle cx="370.1" cy="695.1" r="0.45"/><circle cx="389.9" cy="693.7" r="0.45"/><circle cx="355.0" cy="692.2" r="0.45"/><circle cx="403.1" cy="691.7" r="0.45"/><circle cx="375.8" cy="686.0" r="0.45"/><circle cx="372.3" cy="691.1" r="0.45"/><circle cx="392.9" cy="669.5" r="0.45"/><circle cx="377.4" cy="692.9" r="0.45"/><circle cx="391.6" cy="679.8" r="0.45"/><circle cx="377.8" cy="679.4" r="0.45"/><circle cx="379.7" cy="684.1" r="0.45"/><circle cx="374.1" cy="684.3" r="0.45"/><circle cx="372.4" cy="687.8" r="0.45"/><circle cx="384.0" cy="681.1" r="0.45"/><circle cx="381.3" cy="687.7" r="0.45"/><circle cx="396.3" cy="672.5" r="0.45"/><circle cx="386.8" cy="668.9" r="0.45"/><circle cx="392.1" cy="682.7" r="0.45"/><circle cx="398.4" cy="682.3" r="0.45"/></g>
<ellipse cx="380.50" cy="683.60" rx="12.2" ry="5.4" fill="#e8262b" fill-opacity="1.0" transform="rotate(-22 380.50 683.60)" filter="url(#fb)"/>
<ellipse cx="379.50" cy="684.50" rx="7.8" ry="3.6" fill="#e8262b" fill-opacity="1.0" transform="rotate(-22 379.50 684.50)" filter="url(#fb2)"/>
<line x1="351.40" y1="670.30" x2="397.50" y2="670.30" stroke="#8a8a8a" stroke-width="0.7"/>
<line x1="397.50" y1="662.50" x2="414.00" y2="662.50" stroke="#8a8a8a" stroke-width="0.7"/>
<line x1="397.50" y1="643.40" x2="397.50" y2="696.10" stroke="#8a8a8a" stroke-width="0.7"/>
<rect x="351.40" y="643.40" width="62.60" height="52.70" fill="none" stroke="#262626" stroke-width="1.25"/>
<text x="399.10" y="656.20" font-size="6.3" fill="#333" style="stroke-width:0.1px">Q2</text>
<text x="387.00" y="664.20" font-size="6.3" fill="#333" style="stroke-width:0.1px">Q1</text>
<text x="399.10" y="672.30" font-size="6.3" fill="#333" style="stroke-width:0.1px">Q4</text>
<text x="387.00" y="679.00" font-size="6.3" fill="#333" style="stroke-width:0.1px">Q3</text>
<g fill="#e8262b" fill-opacity="0.1"><circle cx="439.3" cy="665.2" r="0.45"/><circle cx="447.7" cy="667.7" r="0.45"/><circle cx="450.7" cy="648.1" r="0.45"/><circle cx="428.3" cy="649.6" r="0.45"/><circle cx="430.1" cy="658.6" r="0.45"/><circle cx="445.2" cy="660.0" r="0.45"/><circle cx="429.9" cy="661.4" r="0.45"/><circle cx="455.2" cy="662.0" r="0.45"/><circle cx="462.1" cy="656.5" r="0.45"/><circle cx="422.5" cy="664.1" r="0.45"/><circle cx="420.6" cy="663.0" r="0.45"/><circle cx="449.1" cy="663.3" r="0.45"/><circle cx="443.1" cy="652.4" r="0.45"/><circle cx="441.3" cy="658.2" r="0.45"/><circle cx="433.0" cy="661.6" r="0.45"/></g>
<g fill="#e8262b" fill-opacity="0.2"><circle cx="452.5" cy="682.9" r="0.45"/><circle cx="450.4" cy="679.2" r="0.45"/><circle cx="449.3" cy="686.5" r="0.45"/><circle cx="450.4" cy="685.6" r="0.45"/><circle cx="447.6" cy="689.2" r="0.45"/><circle cx="441.0" cy="684.0" r="0.45"/><circle cx="450.1" cy="681.0" r="0.45"/><circle cx="444.2" cy="683.5" r="0.45"/><circle cx="457.1" cy="684.1" r="0.45"/><circle cx="453.0" cy="681.7" r="0.45"/><circle cx="443.6" cy="686.5" r="0.45"/><circle cx="442.6" cy="683.8" r="0.45"/><circle cx="448.8" cy="683.3" r="0.45"/><circle cx="459.3" cy="678.3" r="0.45"/><circle cx="455.1" cy="674.5" r="0.45"/><circle cx="442.5" cy="683.0" r="0.45"/><circle cx="455.7" cy="681.3" r="0.45"/><circle cx="442.3" cy="678.7" r="0.45"/><circle cx="451.5" cy="680.8" r="0.45"/><circle cx="448.9" cy="684.8" r="0.45"/><circle cx="450.7" cy="687.2" r="0.45"/><circle cx="444.9" cy="687.3" r="0.45"/><circle cx="444.1" cy="681.8" r="0.45"/><circle cx="448.9" cy="683.4" r="0.45"/><circle cx="452.8" cy="683.8" r="0.45"/><circle cx="456.5" cy="682.8" r="0.45"/><circle cx="457.6" cy="684.6" r="0.45"/><circle cx="453.7" cy="679.6" r="0.45"/><circle cx="447.4" cy="677.0" r="0.45"/><circle cx="457.6" cy="678.7" r="0.45"/><circle cx="453.3" cy="689.1" r="0.45"/><circle cx="448.0" cy="679.1" r="0.45"/><circle cx="452.2" cy="684.8" r="0.45"/><circle cx="451.2" cy="684.9" r="0.45"/><circle cx="454.3" cy="681.0" r="0.45"/><circle cx="443.5" cy="685.8" r="0.45"/><circle cx="450.2" cy="683.3" r="0.45"/><circle cx="450.8" cy="683.3" r="0.45"/><circle cx="449.8" cy="680.4" r="0.45"/><circle cx="446.6" cy="677.7" r="0.45"/><circle cx="447.5" cy="684.8" r="0.45"/><circle cx="455.9" cy="687.4" r="0.45"/><circle cx="452.4" cy="676.3" r="0.45"/><circle cx="452.4" cy="680.5" r="0.45"/><circle cx="453.8" cy="685.9" r="0.45"/><circle cx="452.1" cy="679.9" r="0.45"/><circle cx="451.3" cy="681.2" r="0.45"/><circle cx="447.9" cy="685.1" r="0.45"/><circle cx="451.7" cy="680.3" r="0.45"/><circle cx="453.5" cy="681.0" r="0.45"/><circle cx="438.1" cy="686.2" r="0.45"/><circle cx="455.1" cy="684.5" r="0.45"/><circle cx="448.5" cy="686.3" r="0.45"/><circle cx="454.1" cy="678.3" r="0.45"/><circle cx="448.0" cy="682.3" r="0.45"/><circle cx="456.0" cy="684.3" r="0.45"/><circle cx="451.3" cy="679.4" r="0.45"/><circle cx="450.2" cy="682.6" r="0.45"/><circle cx="455.2" cy="676.4" r="0.45"/><circle cx="451.8" cy="683.5" r="0.45"/><circle cx="454.4" cy="683.4" r="0.45"/><circle cx="462.1" cy="683.5" r="0.45"/><circle cx="455.5" cy="680.1" r="0.45"/><circle cx="457.7" cy="678.0" r="0.45"/><circle cx="450.9" cy="686.6" r="0.45"/><circle cx="460.0" cy="682.3" r="0.45"/><circle cx="453.9" cy="685.7" r="0.45"/><circle cx="459.1" cy="684.9" r="0.45"/><circle cx="446.2" cy="687.6" r="0.45"/><circle cx="457.3" cy="685.3" r="0.45"/></g>
<g fill="#e8262b" fill-opacity="0.3"><circle cx="472.4" cy="668.4" r="0.45"/><circle cx="464.9" cy="680.8" r="0.45"/><circle cx="465.6" cy="667.3" r="0.45"/><circle cx="466.6" cy="676.3" r="0.45"/><circle cx="475.4" cy="675.6" r="0.45"/><circle cx="472.5" cy="660.8" r="0.45"/><circle cx="467.9" cy="658.9" r="0.45"/><circle cx="467.2" cy="658.9" r="0.45"/><circle cx="471.4" cy="660.2" r="0.45"/><circle cx="466.8" cy="657.5" r="0.45"/><circle cx="470.1" cy="662.3" r="0.45"/><circle cx="472.9" cy="649.1" r="0.45"/><circle cx="473.9" cy="666.1" r="0.45"/><circle cx="471.6" cy="664.4" r="0.45"/><circle cx="466.1" cy="663.4" r="0.45"/><circle cx="470.4" cy="675.7" r="0.45"/><circle cx="466.4" cy="661.2" r="0.45"/><circle cx="464.3" cy="661.2" r="0.45"/><circle cx="470.4" cy="648.4" r="0.45"/><circle cx="475.3" cy="657.7" r="0.45"/><circle cx="472.5" cy="661.4" r="0.45"/><circle cx="471.2" cy="667.6" r="0.45"/><circle cx="463.5" cy="660.8" r="0.45"/><circle cx="465.8" cy="666.4" r="0.45"/><circle cx="472.2" cy="650.5" r="0.45"/><circle cx="469.2" cy="662.8" r="0.45"/><circle cx="472.2" cy="670.8" r="0.45"/><circle cx="471.4" cy="661.1" r="0.45"/><circle cx="468.3" cy="673.7" r="0.45"/><circle cx="472.1" cy="678.5" r="0.45"/><circle cx="469.8" cy="655.0" r="0.45"/><circle cx="468.7" cy="663.0" r="0.45"/><circle cx="470.8" cy="674.0" r="0.45"/><circle cx="467.8" cy="667.9" r="0.45"/><circle cx="466.3" cy="658.7" r="0.45"/><circle cx="477.1" cy="664.4" r="0.45"/><circle cx="474.1" cy="662.8" r="0.45"/><circle cx="467.1" cy="664.9" r="0.45"/><circle cx="470.4" cy="664.2" r="0.45"/><circle cx="465.9" cy="665.2" r="0.45"/><circle cx="473.4" cy="654.6" r="0.45"/><circle cx="467.4" cy="668.2" r="0.45"/><circle cx="468.2" cy="670.5" r="0.45"/><circle cx="475.4" cy="648.8" r="0.45"/><circle cx="474.0" cy="681.7" r="0.45"/><circle cx="468.9" cy="664.8" r="0.45"/><circle cx="466.3" cy="665.5" r="0.45"/><circle cx="473.6" cy="657.5" r="0.45"/><circle cx="465.7" cy="666.2" r="0.45"/><circle cx="471.6" cy="654.4" r="0.45"/><circle cx="477.2" cy="660.5" r="0.45"/><circle cx="471.1" cy="664.9" r="0.45"/><circle cx="469.2" cy="666.4" r="0.45"/><circle cx="471.3" cy="657.5" r="0.45"/><circle cx="465.5" cy="663.8" r="0.45"/><circle cx="456.2" cy="647.0" r="0.45"/><circle cx="467.0" cy="668.8" r="0.45"/><circle cx="465.8" cy="646.3" r="0.45"/><circle cx="470.0" cy="656.5" r="0.45"/><circle cx="475.4" cy="674.9" r="0.45"/><circle cx="474.4" cy="670.5" r="0.45"/><circle cx="472.4" cy="678.0" r="0.45"/><circle cx="476.4" cy="681.2" r="0.45"/><circle cx="465.9" cy="663.7" r="0.45"/><circle cx="473.6" cy="662.6" r="0.45"/><circle cx="468.2" cy="658.8" r="0.45"/><circle cx="474.8" cy="670.3" r="0.45"/><circle cx="469.8" cy="672.7" r="0.45"/><circle cx="473.9" cy="664.2" r="0.45"/><circle cx="469.5" cy="674.7" r="0.45"/><circle cx="472.9" cy="664.9" r="0.45"/><circle cx="471.6" cy="653.2" r="0.45"/><circle cx="466.7" cy="665.7" r="0.45"/><circle cx="467.2" cy="661.1" r="0.45"/><circle cx="469.2" cy="663.0" r="0.45"/><circle cx="470.4" cy="650.5" r="0.45"/><circle cx="472.6" cy="662.2" r="0.45"/><circle cx="469.1" cy="655.2" r="0.45"/><circle cx="464.9" cy="673.1" r="0.45"/><circle cx="472.5" cy="671.3" r="0.45"/><circle cx="471.3" cy="662.7" r="0.45"/><circle cx="471.3" cy="681.8" r="0.45"/><circle cx="475.9" cy="659.3" r="0.45"/><circle cx="475.1" cy="658.7" r="0.45"/><circle cx="471.5" cy="662.7" r="0.45"/><circle cx="469.8" cy="669.9" r="0.45"/><circle cx="468.4" cy="664.3" r="0.45"/><circle cx="467.2" cy="647.3" r="0.45"/><circle cx="463.1" cy="663.7" r="0.45"/><circle cx="474.0" cy="666.1" r="0.45"/><circle cx="470.5" cy="654.5" r="0.45"/><circle cx="468.1" cy="673.6" r="0.45"/><circle cx="471.1" cy="654.5" r="0.45"/><circle cx="467.2" cy="661.9" r="0.45"/><circle cx="470.4" cy="655.8" r="0.45"/><circle cx="470.8" cy="667.0" r="0.45"/><circle cx="462.2" cy="669.3" r="0.45"/><circle cx="467.6" cy="665.1" r="0.45"/><circle cx="466.7" cy="663.3" r="0.45"/><circle cx="458.7" cy="654.9" r="0.45"/><circle cx="471.4" cy="680.3" r="0.45"/><circle cx="469.9" cy="660.2" r="0.45"/><circle cx="474.3" cy="668.2" r="0.45"/><circle cx="465.8" cy="661.5" r="0.45"/><circle cx="473.7" cy="669.2" r="0.45"/><circle cx="474.9" cy="657.5" r="0.45"/><circle cx="467.0" cy="668.3" r="0.45"/><circle cx="471.2" cy="665.7" r="0.45"/><circle cx="462.2" cy="664.9" r="0.45"/><circle cx="469.9" cy="668.5" r="0.45"/><circle cx="472.2" cy="656.8" r="0.45"/><circle cx="468.3" cy="662.8" r="0.45"/><circle cx="468.3" cy="669.1" r="0.45"/><circle cx="476.6" cy="678.2" r="0.45"/><circle cx="470.9" cy="655.9" r="0.45"/><circle cx="470.0" cy="662.2" r="0.45"/><circle cx="472.4" cy="658.4" r="0.45"/><circle cx="474.2" cy="665.6" r="0.45"/><circle cx="468.5" cy="661.4" r="0.45"/><circle cx="468.0" cy="658.1" r="0.45"/><circle cx="473.0" cy="648.9" r="0.45"/><circle cx="468.2" cy="655.3" r="0.45"/><circle cx="472.7" cy="661.6" r="0.45"/><circle cx="471.7" cy="675.5" r="0.45"/><circle cx="474.0" cy="664.5" r="0.45"/><circle cx="465.3" cy="659.9" r="0.45"/><circle cx="464.3" cy="663.4" r="0.45"/><circle cx="468.1" cy="665.4" r="0.45"/><circle cx="466.3" cy="658.3" r="0.45"/><circle cx="473.5" cy="668.6" r="0.45"/><circle cx="474.3" cy="663.3" r="0.45"/><circle cx="460.7" cy="657.6" r="0.45"/><circle cx="466.5" cy="678.4" r="0.45"/><circle cx="469.1" cy="675.8" r="0.45"/><circle cx="466.2" cy="655.6" r="0.45"/><circle cx="463.1" cy="656.7" r="0.45"/><circle cx="472.4" cy="659.9" r="0.45"/><circle cx="467.7" cy="660.2" r="0.45"/><circle cx="469.9" cy="664.7" r="0.45"/><circle cx="476.2" cy="651.0" r="0.45"/><circle cx="473.4" cy="665.8" r="0.45"/><circle cx="467.6" cy="674.0" r="0.45"/><circle cx="473.1" cy="661.7" r="0.45"/><circle cx="471.8" cy="665.8" r="0.45"/><circle cx="468.6" cy="663.9" r="0.45"/><circle cx="463.2" cy="652.6" r="0.45"/><circle cx="474.1" cy="655.9" r="0.45"/><circle cx="468.3" cy="668.8" r="0.45"/><circle cx="469.4" cy="670.6" r="0.45"/><circle cx="469.8" cy="653.2" r="0.45"/><circle cx="467.7" cy="666.6" r="0.45"/><circle cx="472.6" cy="649.6" r="0.45"/><circle cx="469.3" cy="651.0" r="0.45"/><circle cx="460.1" cy="667.6" r="0.45"/><circle cx="466.6" cy="661.5" r="0.45"/><circle cx="469.0" cy="668.0" r="0.45"/><circle cx="463.1" cy="659.9" r="0.45"/><circle cx="469.3" cy="673.8" r="0.45"/><circle cx="469.7" cy="661.4" r="0.45"/><circle cx="461.5" cy="657.9" r="0.45"/><circle cx="477.7" cy="668.9" r="0.45"/><circle cx="457.4" cy="655.3" r="0.45"/><circle cx="472.2" cy="646.7" r="0.45"/><circle cx="465.8" cy="649.7" r="0.45"/><circle cx="474.5" cy="673.6" r="0.45"/><circle cx="473.7" cy="657.0" r="0.45"/><circle cx="474.0" cy="673.4" r="0.45"/><circle cx="465.2" cy="661.6" r="0.45"/><circle cx="468.8" cy="660.6" r="0.45"/><circle cx="465.8" cy="652.8" r="0.45"/><circle cx="472.6" cy="664.4" r="0.45"/><circle cx="475.6" cy="657.3" r="0.45"/><circle cx="474.1" cy="659.4" r="0.45"/><circle cx="467.3" cy="667.0" r="0.45"/><circle cx="477.3" cy="660.4" r="0.45"/><circle cx="472.9" cy="667.6" r="0.45"/><circle cx="466.6" cy="666.8" r="0.45"/><circle cx="474.1" cy="656.0" r="0.45"/><circle cx="460.2" cy="664.7" r="0.45"/><circle cx="475.2" cy="647.6" r="0.45"/><circle cx="469.5" cy="676.5" r="0.45"/><circle cx="461.7" cy="674.3" r="0.45"/><circle cx="466.5" cy="664.9" r="0.45"/><circle cx="465.7" cy="660.6" r="0.45"/><circle cx="467.7" cy="658.1" r="0.45"/><circle cx="470.9" cy="657.4" r="0.45"/><circle cx="462.4" cy="653.1" r="0.45"/><circle cx="469.3" cy="670.4" r="0.45"/><circle cx="466.4" cy="651.6" r="0.45"/><circle cx="469.7" cy="664.6" r="0.45"/><circle cx="477.5" cy="658.6" r="0.45"/><circle cx="471.6" cy="654.7" r="0.45"/><circle cx="468.5" cy="663.2" r="0.45"/><circle cx="464.2" cy="650.7" r="0.45"/><circle cx="476.8" cy="661.9" r="0.45"/><circle cx="464.6" cy="661.1" r="0.45"/><circle cx="464.9" cy="667.7" r="0.45"/><circle cx="472.3" cy="673.8" r="0.45"/><circle cx="467.8" cy="659.8" r="0.45"/><circle cx="468.8" cy="661.6" r="0.45"/><circle cx="471.0" cy="664.3" r="0.45"/><circle cx="464.3" cy="664.0" r="0.45"/><circle cx="473.7" cy="665.1" r="0.45"/><circle cx="463.1" cy="660.7" r="0.45"/><circle cx="469.3" cy="658.6" r="0.45"/><circle cx="468.2" cy="669.0" r="0.45"/><circle cx="469.0" cy="655.7" r="0.45"/><circle cx="464.8" cy="656.8" r="0.45"/><circle cx="472.3" cy="652.5" r="0.45"/><circle cx="467.6" cy="680.0" r="0.45"/><circle cx="472.1" cy="656.9" r="0.45"/><circle cx="462.4" cy="656.7" r="0.45"/><circle cx="465.3" cy="669.6" r="0.45"/><circle cx="475.1" cy="673.3" r="0.45"/><circle cx="461.3" cy="672.9" r="0.45"/><circle cx="468.8" cy="667.6" r="0.45"/><circle cx="467.5" cy="668.9" r="0.45"/><circle cx="466.1" cy="672.4" r="0.45"/><circle cx="470.9" cy="650.2" r="0.45"/><circle cx="472.1" cy="658.2" r="0.45"/><circle cx="462.3" cy="678.7" r="0.45"/><circle cx="477.0" cy="654.8" r="0.45"/><circle cx="468.8" cy="664.3" r="0.45"/><circle cx="467.3" cy="650.0" r="0.45"/><circle cx="477.4" cy="664.7" r="0.45"/><circle cx="468.9" cy="670.5" r="0.45"/><circle cx="471.2" cy="662.5" r="0.45"/><circle cx="475.3" cy="662.6" r="0.45"/><circle cx="466.3" cy="666.6" r="0.45"/><circle cx="460.9" cy="655.0" r="0.45"/><circle cx="471.1" cy="669.9" r="0.45"/><circle cx="470.8" cy="673.0" r="0.45"/><circle cx="471.1" cy="668.6" r="0.45"/><circle cx="467.5" cy="665.7" r="0.45"/><circle cx="467.9" cy="674.2" r="0.45"/><circle cx="474.5" cy="668.9" r="0.45"/><circle cx="470.1" cy="663.5" r="0.45"/><circle cx="463.2" cy="658.6" r="0.45"/><circle cx="467.1" cy="665.4" r="0.45"/><circle cx="471.2" cy="665.0" r="0.45"/><circle cx="466.8" cy="667.2" r="0.45"/><circle cx="472.1" cy="674.8" r="0.45"/><circle cx="469.1" cy="665.0" r="0.45"/><circle cx="466.4" cy="660.9" r="0.45"/><circle cx="473.9" cy="670.8" r="0.45"/><circle cx="471.3" cy="690.6" r="0.45"/><circle cx="466.2" cy="661.7" r="0.45"/><circle cx="465.7" cy="672.2" r="0.45"/><circle cx="470.1" cy="669.3" r="0.45"/><circle cx="467.8" cy="658.3" r="0.45"/><circle cx="469.5" cy="667.6" r="0.45"/><circle cx="476.0" cy="670.3" r="0.45"/><circle cx="473.7" cy="654.3" r="0.45"/><circle cx="466.0" cy="675.9" r="0.45"/><circle cx="462.5" cy="659.6" r="0.45"/><circle cx="464.8" cy="669.7" r="0.45"/><circle cx="475.3" cy="671.1" r="0.45"/><circle cx="474.0" cy="663.8" r="0.45"/><circle cx="471.1" cy="671.7" r="0.45"/><circle cx="470.1" cy="644.4" r="0.45"/><circle cx="472.5" cy="650.6" r="0.45"/><circle cx="472.2" cy="648.6" r="0.45"/><circle cx="470.7" cy="670.1" r="0.45"/><circle cx="460.0" cy="664.1" r="0.45"/><circle cx="454.4" cy="658.6" r="0.45"/><circle cx="466.7" cy="661.9" r="0.45"/><circle cx="461.3" cy="674.4" r="0.45"/><circle cx="465.5" cy="667.2" r="0.45"/><circle cx="470.7" cy="669.1" r="0.45"/><circle cx="470.2" cy="645.8" r="0.45"/><circle cx="470.9" cy="664.8" r="0.45"/><circle cx="468.5" cy="663.1" r="0.45"/><circle cx="470.0" cy="663.0" r="0.45"/><circle cx="469.1" cy="651.0" r="0.45"/><circle cx="474.1" cy="661.1" r="0.45"/><circle cx="469.3" cy="657.8" r="0.45"/><circle cx="475.5" cy="664.9" r="0.45"/><circle cx="472.8" cy="666.0" r="0.45"/><circle cx="469.4" cy="655.4" r="0.45"/><circle cx="468.7" cy="656.0" r="0.45"/><circle cx="471.1" cy="665.5" r="0.45"/><circle cx="465.9" cy="659.9" r="0.45"/><circle cx="474.5" cy="654.6" r="0.45"/><circle cx="464.0" cy="668.3" r="0.45"/><circle cx="473.9" cy="658.6" r="0.45"/><circle cx="461.4" cy="654.8" r="0.45"/><circle cx="472.7" cy="655.4" r="0.45"/></g>
<g fill="#e8262b" fill-opacity="0.4"><circle cx="476.9" cy="668.1" r="0.45"/><circle cx="459.6" cy="655.0" r="0.45"/><circle cx="463.7" cy="651.7" r="0.45"/><circle cx="469.3" cy="660.1" r="0.45"/><circle cx="477.4" cy="647.4" r="0.45"/><circle cx="473.5" cy="653.9" r="0.45"/><circle cx="474.4" cy="650.1" r="0.45"/><circle cx="467.0" cy="649.1" r="0.45"/><circle cx="467.3" cy="661.6" r="0.45"/><circle cx="469.0" cy="649.7" r="0.45"/><circle cx="469.2" cy="661.1" r="0.45"/><circle cx="467.2" cy="648.7" r="0.45"/><circle cx="471.2" cy="660.9" r="0.45"/><circle cx="469.4" cy="652.8" r="0.45"/><circle cx="477.3" cy="649.9" r="0.45"/><circle cx="465.4" cy="657.6" r="0.45"/><circle cx="463.1" cy="654.4" r="0.45"/><circle cx="468.3" cy="653.0" r="0.45"/><circle cx="473.4" cy="647.6" r="0.45"/><circle cx="468.6" cy="646.9" r="0.45"/><circle cx="471.5" cy="654.4" r="0.45"/><circle cx="471.6" cy="646.6" r="0.45"/><circle cx="467.6" cy="654.6" r="0.45"/><circle cx="466.3" cy="649.7" r="0.45"/><circle cx="475.5" cy="659.9" r="0.45"/><circle cx="466.9" cy="660.5" r="0.45"/><circle cx="465.4" cy="654.8" r="0.45"/><circle cx="476.8" cy="665.4" r="0.45"/><circle cx="469.0" cy="657.1" r="0.45"/><circle cx="472.8" cy="645.4" r="0.45"/><circle cx="471.5" cy="657.9" r="0.45"/><circle cx="468.6" cy="660.1" r="0.45"/><circle cx="476.1" cy="648.6" r="0.45"/><circle cx="473.5" cy="649.8" r="0.45"/><circle cx="470.4" cy="651.8" r="0.45"/><circle cx="471.9" cy="651.0" r="0.45"/><circle cx="469.9" cy="650.3" r="0.45"/><circle cx="473.2" cy="652.1" r="0.45"/><circle cx="468.8" cy="655.1" r="0.45"/><circle cx="466.5" cy="653.2" r="0.45"/><circle cx="468.2" cy="654.9" r="0.45"/><circle cx="474.5" cy="647.3" r="0.45"/><circle cx="469.3" cy="653.9" r="0.45"/><circle cx="464.8" cy="646.1" r="0.45"/><circle cx="461.5" cy="646.5" r="0.45"/><circle cx="468.4" cy="654.0" r="0.45"/><circle cx="460.9" cy="646.2" r="0.45"/><circle cx="466.5" cy="671.1" r="0.45"/><circle cx="464.7" cy="661.0" r="0.45"/><circle cx="473.3" cy="651.9" r="0.45"/><circle cx="474.1" cy="653.6" r="0.45"/><circle cx="465.8" cy="649.6" r="0.45"/><circle cx="468.2" cy="648.4" r="0.45"/><circle cx="470.2" cy="649.3" r="0.45"/><circle cx="467.7" cy="659.8" r="0.45"/><circle cx="476.3" cy="657.2" r="0.45"/><circle cx="466.6" cy="660.7" r="0.45"/><circle cx="475.5" cy="658.3" r="0.45"/><circle cx="474.5" cy="656.4" r="0.45"/><circle cx="473.2" cy="658.0" r="0.45"/><circle cx="471.2" cy="648.1" r="0.45"/><circle cx="467.0" cy="661.2" r="0.45"/><circle cx="469.4" cy="657.0" r="0.45"/><circle cx="467.6" cy="649.7" r="0.45"/><circle cx="468.3" cy="656.1" r="0.45"/><circle cx="466.0" cy="656.7" r="0.45"/><circle cx="462.6" cy="645.5" r="0.45"/><circle cx="472.3" cy="655.5" r="0.45"/><circle cx="475.0" cy="645.0" r="0.45"/><circle cx="469.3" cy="646.5" r="0.45"/><circle cx="475.0" cy="662.7" r="0.45"/><circle cx="477.7" cy="661.1" r="0.45"/><circle cx="464.7" cy="659.1" r="0.45"/><circle cx="467.0" cy="651.8" r="0.45"/><circle cx="470.6" cy="649.6" r="0.45"/><circle cx="471.2" cy="646.6" r="0.45"/><circle cx="465.1" cy="652.2" r="0.45"/><circle cx="474.8" cy="665.8" r="0.45"/><circle cx="470.8" cy="646.5" r="0.45"/><circle cx="472.8" cy="651.0" r="0.45"/><circle cx="459.9" cy="651.2" r="0.45"/><circle cx="473.5" cy="664.1" r="0.45"/><circle cx="476.2" cy="649.1" r="0.45"/><circle cx="465.6" cy="664.7" r="0.45"/><circle cx="474.7" cy="648.0" r="0.45"/><circle cx="469.3" cy="658.2" r="0.45"/><circle cx="471.0" cy="656.7" r="0.45"/><circle cx="463.9" cy="651.2" r="0.45"/><circle cx="463.5" cy="650.0" r="0.45"/><circle cx="462.2" cy="658.1" r="0.45"/><circle cx="477.7" cy="651.8" r="0.45"/><circle cx="472.4" cy="658.5" r="0.45"/><circle cx="460.5" cy="662.2" r="0.45"/><circle cx="468.2" cy="657.3" r="0.45"/><circle cx="472.6" cy="660.7" r="0.45"/><circle cx="476.1" cy="646.3" r="0.45"/><circle cx="474.0" cy="661.5" r="0.45"/><circle cx="467.2" cy="648.7" r="0.45"/><circle cx="471.8" cy="661.1" r="0.45"/><circle cx="463.6" cy="651.5" r="0.45"/><circle cx="470.4" cy="648.4" r="0.45"/><circle cx="464.4" cy="656.5" r="0.45"/><circle cx="466.3" cy="646.4" r="0.45"/><circle cx="463.4" cy="645.4" r="0.45"/><circle cx="464.3" cy="655.0" r="0.45"/><circle cx="466.1" cy="645.9" r="0.45"/><circle cx="466.4" cy="659.0" r="0.45"/><circle cx="469.7" cy="656.3" r="0.45"/><circle cx="468.5" cy="647.2" r="0.45"/><circle cx="471.3" cy="651.8" r="0.45"/><circle cx="472.7" cy="649.0" r="0.45"/><circle cx="471.1" cy="659.2" r="0.45"/><circle cx="473.5" cy="651.8" r="0.45"/><circle cx="465.9" cy="650.5" r="0.45"/><circle cx="468.9" cy="651.1" r="0.45"/><circle cx="470.0" cy="647.5" r="0.45"/><circle cx="469.4" cy="647.8" r="0.45"/><circle cx="461.6" cy="653.6" r="0.45"/><circle cx="463.8" cy="663.2" r="0.45"/><circle cx="468.2" cy="646.7" r="0.45"/><circle cx="471.4" cy="657.9" r="0.45"/><circle cx="470.7" cy="647.8" r="0.45"/><circle cx="467.6" cy="646.8" r="0.45"/><circle cx="462.6" cy="659.3" r="0.45"/><circle cx="468.4" cy="648.5" r="0.45"/><circle cx="476.8" cy="647.8" r="0.45"/><circle cx="462.8" cy="653.8" r="0.45"/><circle cx="469.1" cy="654.1" r="0.45"/><circle cx="474.0" cy="658.7" r="0.45"/><circle cx="469.0" cy="655.8" r="0.45"/><circle cx="471.3" cy="662.2" r="0.45"/><circle cx="470.1" cy="648.6" r="0.45"/><circle cx="464.4" cy="652.8" r="0.45"/><circle cx="471.2" cy="661.4" r="0.45"/><circle cx="467.3" cy="646.4" r="0.45"/><circle cx="465.5" cy="664.8" r="0.45"/><circle cx="460.2" cy="646.0" r="0.45"/><circle cx="475.3" cy="646.9" r="0.45"/><circle cx="473.2" cy="652.7" r="0.45"/><circle cx="471.4" cy="659.6" r="0.45"/><circle cx="468.9" cy="650.9" r="0.45"/><circle cx="472.9" cy="653.1" r="0.45"/><circle cx="476.2" cy="650.9" r="0.45"/><circle cx="467.8" cy="651.7" r="0.45"/><circle cx="474.7" cy="661.7" r="0.45"/><circle cx="469.9" cy="647.9" r="0.45"/><circle cx="476.9" cy="658.7" r="0.45"/><circle cx="461.5" cy="661.7" r="0.45"/><circle cx="471.1" cy="647.4" r="0.45"/><circle cx="469.7" cy="651.9" r="0.45"/><circle cx="470.3" cy="658.4" r="0.45"/><circle cx="474.2" cy="645.1" r="0.45"/><circle cx="473.1" cy="656.8" r="0.45"/><circle cx="466.4" cy="660.2" r="0.45"/><circle cx="469.9" cy="650.4" r="0.45"/><circle cx="466.4" cy="658.2" r="0.45"/><circle cx="463.6" cy="657.7" r="0.45"/><circle cx="474.2" cy="651.0" r="0.45"/><circle cx="470.4" cy="649.8" r="0.45"/><circle cx="466.3" cy="661.6" r="0.45"/><circle cx="465.6" cy="647.7" r="0.45"/><circle cx="465.2" cy="645.8" r="0.45"/><circle cx="467.2" cy="655.4" r="0.45"/><circle cx="469.8" cy="659.2" r="0.45"/><circle cx="469.3" cy="652.7" r="0.45"/><circle cx="475.0" cy="661.3" r="0.45"/><circle cx="473.3" cy="650.9" r="0.45"/><circle cx="464.2" cy="654.8" r="0.45"/><circle cx="461.1" cy="653.5" r="0.45"/><circle cx="469.4" cy="661.0" r="0.45"/><circle cx="476.6" cy="648.3" r="0.45"/><circle cx="471.0" cy="650.2" r="0.45"/><circle cx="466.8" cy="647.7" r="0.45"/><circle cx="470.3" cy="645.0" r="0.45"/><circle cx="468.3" cy="660.1" r="0.45"/><circle cx="468.4" cy="653.0" r="0.45"/><circle cx="474.3" cy="648.6" r="0.45"/><circle cx="467.5" cy="654.7" r="0.45"/><circle cx="469.7" cy="648.8" r="0.45"/><circle cx="473.5" cy="656.5" r="0.45"/><circle cx="473.4" cy="647.4" r="0.45"/><circle cx="475.4" cy="647.2" r="0.45"/><circle cx="470.5" cy="652.0" r="0.45"/><circle cx="463.4" cy="652.4" r="0.45"/><circle cx="472.4" cy="652.7" r="0.45"/><circle cx="463.8" cy="650.8" r="0.45"/><circle cx="465.7" cy="654.6" r="0.45"/><circle cx="474.0" cy="651.2" r="0.45"/><circle cx="470.8" cy="651.0" r="0.45"/><circle cx="466.6" cy="649.5" r="0.45"/><circle cx="476.1" cy="654.8" r="0.45"/><circle cx="465.1" cy="650.5" r="0.45"/><circle cx="467.7" cy="660.2" r="0.45"/><circle cx="468.2" cy="660.7" r="0.45"/><circle cx="477.1" cy="647.6" r="0.45"/><circle cx="470.4" cy="650.0" r="0.45"/><circle cx="468.7" cy="664.3" r="0.45"/><circle cx="467.8" cy="651.6" r="0.45"/><circle cx="457.5" cy="655.5" r="0.45"/><circle cx="470.1" cy="649.8" r="0.45"/><circle cx="472.9" cy="659.6" r="0.45"/><circle cx="474.5" cy="645.2" r="0.45"/><circle cx="467.7" cy="654.4" r="0.45"/><circle cx="471.0" cy="658.2" r="0.45"/><circle cx="464.6" cy="652.5" r="0.45"/><circle cx="464.5" cy="647.4" r="0.45"/><circle cx="467.9" cy="656.1" r="0.45"/><circle cx="470.9" cy="647.8" r="0.45"/><circle cx="472.6" cy="667.1" r="0.45"/><circle cx="477.1" cy="649.6" r="0.45"/><circle cx="471.3" cy="645.3" r="0.45"/><circle cx="463.5" cy="647.8" r="0.45"/><circle cx="470.9" cy="664.2" r="0.45"/><circle cx="471.1" cy="665.5" r="0.45"/><circle cx="454.7" cy="644.4" r="0.45"/><circle cx="470.3" cy="656.7" r="0.45"/><circle cx="469.7" cy="652.5" r="0.45"/><circle cx="469.9" cy="655.1" r="0.45"/><circle cx="462.1" cy="650.8" r="0.45"/><circle cx="469.1" cy="661.2" r="0.45"/><circle cx="472.0" cy="655.5" r="0.45"/><circle cx="469.8" cy="650.1" r="0.45"/><circle cx="473.6" cy="644.5" r="0.45"/><circle cx="470.9" cy="645.9" r="0.45"/><circle cx="468.2" cy="650.2" r="0.45"/><circle cx="469.0" cy="656.8" r="0.45"/><circle cx="473.7" cy="648.0" r="0.45"/><circle cx="469.6" cy="647.1" r="0.45"/><circle cx="473.0" cy="651.5" r="0.45"/><circle cx="472.2" cy="645.7" r="0.45"/><circle cx="466.3" cy="657.9" r="0.45"/><circle cx="466.8" cy="657.7" r="0.45"/><circle cx="472.1" cy="661.1" r="0.45"/><circle cx="469.3" cy="654.1" r="0.45"/><circle cx="468.3" cy="645.8" r="0.45"/><circle cx="472.0" cy="657.7" r="0.45"/><circle cx="467.3" cy="657.7" r="0.45"/><circle cx="475.9" cy="649.6" r="0.45"/><circle cx="473.5" cy="652.5" r="0.45"/><circle cx="471.1" cy="656.8" r="0.45"/><circle cx="473.6" cy="652.5" r="0.45"/><circle cx="464.7" cy="658.3" r="0.45"/><circle cx="474.6" cy="657.7" r="0.45"/><circle cx="471.8" cy="658.7" r="0.45"/><circle cx="463.8" cy="663.9" r="0.45"/><circle cx="474.5" cy="655.4" r="0.45"/><circle cx="472.1" cy="652.6" r="0.45"/><circle cx="467.3" cy="656.1" r="0.45"/><circle cx="458.3" cy="658.4" r="0.45"/><circle cx="467.8" cy="654.8" r="0.45"/><circle cx="460.7" cy="661.5" r="0.45"/><circle cx="474.4" cy="647.3" r="0.45"/><circle cx="465.8" cy="657.2" r="0.45"/><circle cx="469.5" cy="649.8" r="0.45"/><circle cx="474.4" cy="657.6" r="0.45"/><circle cx="463.1" cy="646.1" r="0.45"/><circle cx="473.8" cy="656.7" r="0.45"/><circle cx="474.3" cy="650.8" r="0.45"/><circle cx="474.4" cy="652.4" r="0.45"/><circle cx="463.9" cy="657.9" r="0.45"/><circle cx="461.7" cy="648.3" r="0.45"/><circle cx="463.6" cy="645.7" r="0.45"/><circle cx="468.7" cy="653.7" r="0.45"/><circle cx="472.6" cy="650.3" r="0.45"/><circle cx="466.4" cy="653.5" r="0.45"/><circle cx="460.6" cy="648.5" r="0.45"/><circle cx="476.4" cy="656.3" r="0.45"/><circle cx="473.5" cy="651.7" r="0.45"/><circle cx="469.1" cy="653.7" r="0.45"/><circle cx="474.7" cy="648.7" r="0.45"/><circle cx="470.9" cy="662.1" r="0.45"/><circle cx="464.5" cy="656.8" r="0.45"/><circle cx="461.7" cy="647.7" r="0.45"/><circle cx="470.6" cy="651.1" r="0.45"/><circle cx="473.2" cy="661.4" r="0.45"/><circle cx="471.3" cy="651.4" r="0.45"/><circle cx="460.1" cy="661.6" r="0.45"/><circle cx="465.3" cy="649.2" r="0.45"/><circle cx="470.2" cy="656.5" r="0.45"/><circle cx="467.0" cy="658.8" r="0.45"/><circle cx="474.2" cy="654.5" r="0.45"/><circle cx="467.5" cy="646.8" r="0.45"/><circle cx="464.1" cy="652.4" r="0.45"/><circle cx="461.9" cy="645.7" r="0.45"/><circle cx="462.7" cy="649.0" r="0.45"/><circle cx="469.4" cy="658.1" r="0.45"/><circle cx="463.9" cy="654.0" r="0.45"/><circle cx="473.7" cy="659.2" r="0.45"/><circle cx="471.0" cy="650.6" r="0.45"/><circle cx="470.5" cy="658.8" r="0.45"/><circle cx="473.5" cy="645.3" r="0.45"/><circle cx="465.7" cy="651.3" r="0.45"/><circle cx="470.8" cy="655.2" r="0.45"/><circle cx="474.7" cy="661.7" r="0.45"/><circle cx="463.5" cy="651.5" r="0.45"/><circle cx="464.2" cy="656.2" r="0.45"/><circle cx="471.3" cy="648.7" r="0.45"/><circle cx="467.0" cy="649.0" r="0.45"/><circle cx="461.9" cy="648.8" r="0.45"/><circle cx="472.2" cy="656.8" r="0.45"/><circle cx="465.3" cy="653.9" r="0.45"/><circle cx="470.4" cy="651.0" r="0.45"/><circle cx="475.5" cy="654.8" r="0.45"/><circle cx="465.0" cy="657.6" r="0.45"/><circle cx="465.2" cy="655.3" r="0.45"/><circle cx="471.8" cy="655.0" r="0.45"/><circle cx="468.6" cy="652.9" r="0.45"/><circle cx="463.3" cy="650.1" r="0.45"/><circle cx="475.9" cy="653.0" r="0.45"/><circle cx="471.6" cy="658.2" r="0.45"/><circle cx="473.2" cy="649.5" r="0.45"/><circle cx="470.9" cy="644.6" r="0.45"/><circle cx="469.1" cy="651.8" r="0.45"/><circle cx="471.2" cy="662.8" r="0.45"/><circle cx="467.5" cy="647.6" r="0.45"/><circle cx="466.3" cy="651.4" r="0.45"/><circle cx="465.3" cy="654.4" r="0.45"/><circle cx="475.5" cy="652.7" r="0.45"/><circle cx="474.0" cy="650.6" r="0.45"/><circle cx="473.0" cy="660.3" r="0.45"/><circle cx="469.0" cy="648.5" r="0.45"/><circle cx="474.3" cy="649.6" r="0.45"/><circle cx="467.3" cy="662.3" r="0.45"/><circle cx="469.9" cy="654.4" r="0.45"/><circle cx="470.7" cy="657.1" r="0.45"/><circle cx="463.2" cy="652.2" r="0.45"/><circle cx="469.9" cy="651.3" r="0.45"/><circle cx="470.5" cy="648.3" r="0.45"/><circle cx="471.6" cy="657.1" r="0.45"/><circle cx="466.0" cy="653.5" r="0.45"/><circle cx="461.8" cy="646.3" r="0.45"/><circle cx="463.7" cy="644.9" r="0.45"/><circle cx="462.8" cy="652.1" r="0.45"/><circle cx="472.2" cy="650.6" r="0.45"/><circle cx="464.3" cy="654.0" r="0.45"/><circle cx="464.2" cy="654.6" r="0.45"/><circle cx="477.4" cy="657.1" r="0.45"/></g>
<ellipse cx="470.50" cy="651.00" rx="5.4" ry="7.5" fill="#e8262b" fill-opacity="1.0" transform="rotate(0 470.50 651.00)" filter="url(#fb)"/>
<ellipse cx="470.00" cy="662.00" rx="4.0" ry="5.5" fill="#e8262b" fill-opacity="0.6" transform="rotate(0 470.00 662.00)" filter="url(#fb)"/>
<line x1="418.00" y1="670.30" x2="463.50" y2="670.30" stroke="#8a8a8a" stroke-width="0.7"/>
<line x1="463.50" y1="662.90" x2="478.60" y2="662.90" stroke="#8a8a8a" stroke-width="0.7"/>
<line x1="463.50" y1="643.40" x2="463.50" y2="696.50" stroke="#8a8a8a" stroke-width="0.7"/>
<rect x="418.00" y="643.40" width="60.60" height="53.10" fill="none" stroke="#262626" stroke-width="1.25"/>
<text x="465.10" y="656.00" font-size="6.3" fill="#333" style="stroke-width:0.1px">Q2</text>
<text x="453.00" y="664.50" font-size="6.3" fill="#333" style="stroke-width:0.1px">Q1</text>
<text x="465.50" y="672.60" font-size="6.3" fill="#333" style="stroke-width:0.1px">Q4</text>
<text x="453.00" y="679.30" font-size="6.3" fill="#333" style="stroke-width:0.1px">Q3</text>
<path d="M343.4,704.5 V659.2 M340.4,663.8 L343.4,659.2 L346.4,663.8" stroke="#222" stroke-width="1.1" fill="none"/>
<path d="M343.4,704.5 H387.4 M382.6,701.3 L387.4,704.5 L382.6,707.7" stroke="#222" stroke-width="1.1" fill="none"/>
<text x="336.60" y="681.20" font-size="7.4" text-anchor="middle" transform="rotate(-90 336.60 681.20)">Annexin-V</text>
<text x="345.20" y="716.00" font-size="7.4">PI</text></svg>
</body></html>
